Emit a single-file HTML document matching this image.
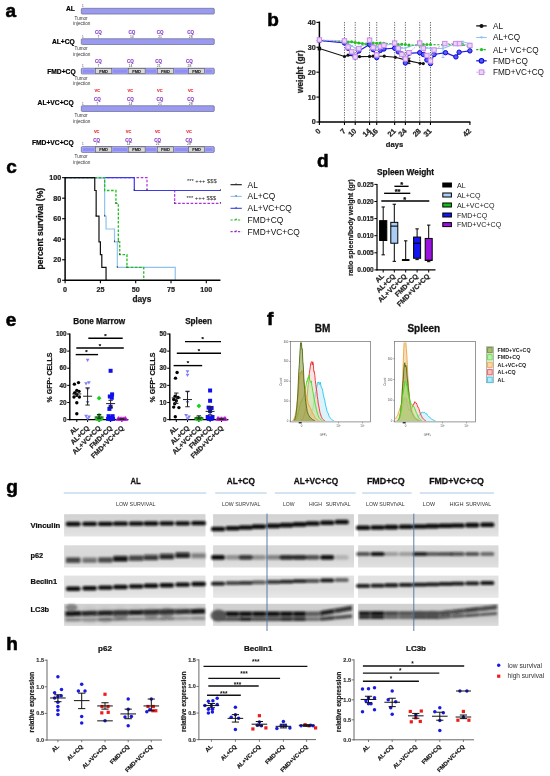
<!DOCTYPE html>
<html><head><meta charset="utf-8"><style>
html,body{margin:0;padding:0;background:#fff;}
svg{display:block;font-family:"Liberation Sans",Arial,sans-serif;}
</style></head><body>
<svg width="550" height="776" viewBox="0 0 550 776">
<defs>
<filter id="bl" x="-20%" y="-50%" width="140%" height="200%"><feGaussianBlur stdDeviation="1.0"/></filter>
<linearGradient id="bg0" x1="0" y1="0" x2="0" y2="1"><stop offset="0" stop-color="#d2d2d2"/><stop offset="0.5" stop-color="#d8d8d8"/><stop offset="1" stop-color="#e4e4e4"/></linearGradient>
<linearGradient id="bg1" x1="0" y1="0" x2="0" y2="1"><stop offset="0" stop-color="#dadada"/><stop offset="0.6" stop-color="#d8d8d8"/><stop offset="1" stop-color="#e0e0e0"/></linearGradient>
<linearGradient id="bg2" x1="0" y1="0" x2="0" y2="1"><stop offset="0" stop-color="#e2e2e2"/><stop offset="0.6" stop-color="#dedede"/><stop offset="1" stop-color="#e8e8e8"/></linearGradient>
<linearGradient id="bg3" x1="0" y1="0" x2="0" y2="1"><stop offset="0" stop-color="#d2d2d2"/><stop offset="0.6" stop-color="#cccccc"/><stop offset="1" stop-color="#dcdcdc"/></linearGradient>
</defs>
<rect width="550" height="776" fill="#fff"/>
<text x="5.60" y="17.00" font-size="19" font-weight="bold" text-anchor="start" fill="#000" stroke="#000" stroke-width="0.57" >a</text>
<text x="74.80" y="11.40" font-size="6.7" font-weight="bold" text-anchor="end" fill="#000" stroke="#000" stroke-width="0.20" >AL</text>
<rect x="81.30" y="8.30" width="133.00" height="5.80" fill="#9a9af0" stroke="#5a5a7a" stroke-width="0.6" rx="1"/>
<text x="82.90" y="7.10" font-size="3.2" font-weight="normal" text-anchor="middle" fill="#444" >1</text>
<text x="74.50" y="19.70" font-size="4.6" font-weight="normal" text-anchor="start" fill="#333" >Tumor</text>
<text x="73.20" y="25.40" font-size="4.7" font-weight="normal" text-anchor="start" fill="#333" >injection</text>
<text x="74.80" y="44.40" font-size="6.7" font-weight="bold" text-anchor="end" fill="#000" stroke="#000" stroke-width="0.20" >AL+CQ</text>
<rect x="81.30" y="38.70" width="133.00" height="5.80" fill="#9a9af0" stroke="#5a5a7a" stroke-width="0.6" rx="1"/>
<text x="82.90" y="37.50" font-size="3.2" font-weight="normal" text-anchor="middle" fill="#444" >1</text>
<text x="98.50" y="37.50" font-size="3.4" font-weight="normal" text-anchor="middle" fill="#444" >7</text>
<text x="98.50" y="33.80" font-size="4.6" font-weight="bold" text-anchor="middle" fill="#8a3fc8" stroke="#8a3fc8" stroke-width="0.14" textLength="6.8" lengthAdjust="spacingAndGlyphs">CQ</text>
<text x="131.80" y="37.50" font-size="3.4" font-weight="normal" text-anchor="middle" fill="#444" >14</text>
<text x="131.80" y="33.80" font-size="4.6" font-weight="bold" text-anchor="middle" fill="#8a3fc8" stroke="#8a3fc8" stroke-width="0.14" textLength="6.8" lengthAdjust="spacingAndGlyphs">CQ</text>
<text x="160.10" y="37.50" font-size="3.4" font-weight="normal" text-anchor="middle" fill="#444" >21</text>
<text x="160.10" y="33.80" font-size="4.6" font-weight="bold" text-anchor="middle" fill="#8a3fc8" stroke="#8a3fc8" stroke-width="0.14" textLength="6.8" lengthAdjust="spacingAndGlyphs">CQ</text>
<text x="190.70" y="37.50" font-size="3.4" font-weight="normal" text-anchor="middle" fill="#444" >28</text>
<text x="190.70" y="33.80" font-size="4.6" font-weight="bold" text-anchor="middle" fill="#8a3fc8" stroke="#8a3fc8" stroke-width="0.14" textLength="6.8" lengthAdjust="spacingAndGlyphs">CQ</text>
<text x="74.50" y="50.10" font-size="4.6" font-weight="normal" text-anchor="start" fill="#333" >Tumor</text>
<text x="73.20" y="55.80" font-size="4.7" font-weight="normal" text-anchor="start" fill="#333" >injection</text>
<text x="75.60" y="73.60" font-size="6.7" font-weight="bold" text-anchor="end" fill="#000" stroke="#000" stroke-width="0.20" >FMD+CQ</text>
<rect x="81.30" y="68.20" width="133.00" height="5.80" fill="#9a9af0" stroke="#5a5a7a" stroke-width="0.6" rx="1"/>
<rect x="82.70" y="69.10" width="12.20" height="4.00" fill="#8e8ef4" stroke="#b8b8f6" stroke-width="0.5" />
<rect x="112.40" y="69.10" width="15.20" height="4.00" fill="#8e8ef4" stroke="#b8b8f6" stroke-width="0.5" />
<rect x="145.70" y="69.10" width="11.00" height="4.00" fill="#8e8ef4" stroke="#b8b8f6" stroke-width="0.5" />
<rect x="174.20" y="69.10" width="13.90" height="4.00" fill="#8e8ef4" stroke="#b8b8f6" stroke-width="0.5" />
<rect x="205.10" y="69.10" width="7.80" height="4.00" fill="#8e8ef4" stroke="#b8b8f6" stroke-width="0.5" />
<rect x="95.50" y="68.50" width="16.30" height="5.20" fill="#d9d9d9" stroke="#444" stroke-width="0.5" />
<text x="103.65" y="72.60" font-size="4.0" font-weight="bold" text-anchor="middle" fill="#222" stroke="#222" stroke-width="0.12" >FMD</text>
<rect x="128.20" y="68.50" width="16.90" height="5.20" fill="#d9d9d9" stroke="#444" stroke-width="0.5" />
<text x="136.65" y="72.60" font-size="4.0" font-weight="bold" text-anchor="middle" fill="#222" stroke="#222" stroke-width="0.12" >FMD</text>
<rect x="157.30" y="68.50" width="16.30" height="5.20" fill="#d9d9d9" stroke="#444" stroke-width="0.5" />
<text x="165.45" y="72.60" font-size="4.0" font-weight="bold" text-anchor="middle" fill="#222" stroke="#222" stroke-width="0.12" >FMD</text>
<rect x="188.70" y="68.50" width="15.80" height="5.20" fill="#d9d9d9" stroke="#444" stroke-width="0.5" />
<text x="196.60" y="72.60" font-size="4.0" font-weight="bold" text-anchor="middle" fill="#222" stroke="#222" stroke-width="0.12" >FMD</text>
<text x="82.90" y="67.00" font-size="3.2" font-weight="normal" text-anchor="middle" fill="#444" >1</text>
<text x="98.50" y="67.00" font-size="3.4" font-weight="normal" text-anchor="middle" fill="#444" >7</text>
<text x="98.50" y="63.30" font-size="4.6" font-weight="bold" text-anchor="middle" fill="#8a3fc8" stroke="#8a3fc8" stroke-width="0.14" textLength="6.8" lengthAdjust="spacingAndGlyphs">CQ</text>
<text x="130.50" y="67.00" font-size="3.4" font-weight="normal" text-anchor="middle" fill="#444" >14</text>
<text x="130.50" y="63.30" font-size="4.6" font-weight="bold" text-anchor="middle" fill="#8a3fc8" stroke="#8a3fc8" stroke-width="0.14" textLength="6.8" lengthAdjust="spacingAndGlyphs">CQ</text>
<text x="158.70" y="67.00" font-size="3.4" font-weight="normal" text-anchor="middle" fill="#444" >21</text>
<text x="158.70" y="63.30" font-size="4.6" font-weight="bold" text-anchor="middle" fill="#8a3fc8" stroke="#8a3fc8" stroke-width="0.14" textLength="6.8" lengthAdjust="spacingAndGlyphs">CQ</text>
<text x="189.50" y="67.00" font-size="3.4" font-weight="normal" text-anchor="middle" fill="#444" >28</text>
<text x="189.50" y="63.30" font-size="4.6" font-weight="bold" text-anchor="middle" fill="#8a3fc8" stroke="#8a3fc8" stroke-width="0.14" textLength="6.8" lengthAdjust="spacingAndGlyphs">CQ</text>
<text x="74.50" y="79.60" font-size="4.6" font-weight="normal" text-anchor="start" fill="#333" >Tumor</text>
<text x="73.20" y="85.30" font-size="4.7" font-weight="normal" text-anchor="start" fill="#333" >injection</text>
<text x="73.60" y="104.60" font-size="6.7" font-weight="bold" text-anchor="end" fill="#000" stroke="#000" stroke-width="0.20" >AL+VC+CQ</text>
<rect x="81.30" y="105.70" width="133.00" height="5.80" fill="#9a9af0" stroke="#5a5a7a" stroke-width="0.6" rx="1"/>
<text x="82.90" y="104.50" font-size="3.2" font-weight="normal" text-anchor="middle" fill="#444" >1</text>
<text x="97.30" y="104.50" font-size="3.4" font-weight="normal" text-anchor="middle" fill="#444" >7</text>
<text x="97.30" y="100.80" font-size="4.6" font-weight="bold" text-anchor="middle" fill="#8a3fc8" stroke="#8a3fc8" stroke-width="0.14" textLength="6.8" lengthAdjust="spacingAndGlyphs">CQ</text>
<text x="97.30" y="91.90" font-size="4.0" font-weight="bold" text-anchor="middle" fill="#e8202a" stroke="#e8202a" stroke-width="0.12" >VC</text>
<text x="130.40" y="104.50" font-size="3.4" font-weight="normal" text-anchor="middle" fill="#444" >14</text>
<text x="130.40" y="100.80" font-size="4.6" font-weight="bold" text-anchor="middle" fill="#8a3fc8" stroke="#8a3fc8" stroke-width="0.14" textLength="6.8" lengthAdjust="spacingAndGlyphs">CQ</text>
<text x="130.40" y="91.90" font-size="4.0" font-weight="bold" text-anchor="middle" fill="#e8202a" stroke="#e8202a" stroke-width="0.12" >VC</text>
<text x="159.90" y="104.50" font-size="3.4" font-weight="normal" text-anchor="middle" fill="#444" >21</text>
<text x="159.90" y="100.80" font-size="4.6" font-weight="bold" text-anchor="middle" fill="#8a3fc8" stroke="#8a3fc8" stroke-width="0.14" textLength="6.8" lengthAdjust="spacingAndGlyphs">CQ</text>
<text x="159.90" y="91.90" font-size="4.0" font-weight="bold" text-anchor="middle" fill="#e8202a" stroke="#e8202a" stroke-width="0.12" >VC</text>
<text x="190.70" y="104.50" font-size="3.4" font-weight="normal" text-anchor="middle" fill="#444" >28</text>
<text x="190.70" y="100.80" font-size="4.6" font-weight="bold" text-anchor="middle" fill="#8a3fc8" stroke="#8a3fc8" stroke-width="0.14" textLength="6.8" lengthAdjust="spacingAndGlyphs">CQ</text>
<text x="190.70" y="91.90" font-size="4.0" font-weight="bold" text-anchor="middle" fill="#e8202a" stroke="#e8202a" stroke-width="0.12" >VC</text>
<text x="74.50" y="117.10" font-size="4.6" font-weight="normal" text-anchor="start" fill="#333" >Tumor</text>
<text x="73.20" y="122.80" font-size="4.7" font-weight="normal" text-anchor="start" fill="#333" >injection</text>
<text x="73.60" y="145.00" font-size="6.7" font-weight="bold" text-anchor="end" fill="#000" stroke="#000" stroke-width="0.20" >FMD+VC+CQ</text>
<rect x="81.30" y="146.60" width="133.00" height="5.80" fill="#9a9af0" stroke="#5a5a7a" stroke-width="0.6" rx="1"/>
<rect x="82.70" y="147.50" width="12.20" height="4.00" fill="#8e8ef4" stroke="#b8b8f6" stroke-width="0.5" />
<rect x="112.40" y="147.50" width="15.20" height="4.00" fill="#8e8ef4" stroke="#b8b8f6" stroke-width="0.5" />
<rect x="145.70" y="147.50" width="11.00" height="4.00" fill="#8e8ef4" stroke="#b8b8f6" stroke-width="0.5" />
<rect x="174.20" y="147.50" width="13.90" height="4.00" fill="#8e8ef4" stroke="#b8b8f6" stroke-width="0.5" />
<rect x="205.10" y="147.50" width="7.80" height="4.00" fill="#8e8ef4" stroke="#b8b8f6" stroke-width="0.5" />
<rect x="95.50" y="146.90" width="16.30" height="5.20" fill="#d9d9d9" stroke="#444" stroke-width="0.5" />
<text x="103.65" y="151.00" font-size="4.0" font-weight="bold" text-anchor="middle" fill="#222" stroke="#222" stroke-width="0.12" >FMD</text>
<rect x="128.20" y="146.90" width="16.90" height="5.20" fill="#d9d9d9" stroke="#444" stroke-width="0.5" />
<text x="136.65" y="151.00" font-size="4.0" font-weight="bold" text-anchor="middle" fill="#222" stroke="#222" stroke-width="0.12" >FMD</text>
<rect x="157.30" y="146.90" width="16.30" height="5.20" fill="#d9d9d9" stroke="#444" stroke-width="0.5" />
<text x="165.45" y="151.00" font-size="4.0" font-weight="bold" text-anchor="middle" fill="#222" stroke="#222" stroke-width="0.12" >FMD</text>
<rect x="188.70" y="146.90" width="15.80" height="5.20" fill="#d9d9d9" stroke="#444" stroke-width="0.5" />
<text x="196.60" y="151.00" font-size="4.0" font-weight="bold" text-anchor="middle" fill="#222" stroke="#222" stroke-width="0.12" >FMD</text>
<text x="82.90" y="145.40" font-size="3.2" font-weight="normal" text-anchor="middle" fill="#444" >1</text>
<text x="96.70" y="145.40" font-size="3.4" font-weight="normal" text-anchor="middle" fill="#444" >7</text>
<text x="96.70" y="141.70" font-size="4.6" font-weight="bold" text-anchor="middle" fill="#8a3fc8" stroke="#8a3fc8" stroke-width="0.14" textLength="6.8" lengthAdjust="spacingAndGlyphs">CQ</text>
<text x="96.70" y="133.00" font-size="4.0" font-weight="bold" text-anchor="middle" fill="#e8202a" stroke="#e8202a" stroke-width="0.12" >VC</text>
<text x="128.60" y="145.40" font-size="3.4" font-weight="normal" text-anchor="middle" fill="#444" >14</text>
<text x="128.60" y="141.70" font-size="4.6" font-weight="bold" text-anchor="middle" fill="#8a3fc8" stroke="#8a3fc8" stroke-width="0.14" textLength="6.8" lengthAdjust="spacingAndGlyphs">CQ</text>
<text x="128.60" y="133.00" font-size="4.0" font-weight="bold" text-anchor="middle" fill="#e8202a" stroke="#e8202a" stroke-width="0.12" >VC</text>
<text x="157.70" y="145.40" font-size="3.4" font-weight="normal" text-anchor="middle" fill="#444" >21</text>
<text x="157.70" y="141.70" font-size="4.6" font-weight="bold" text-anchor="middle" fill="#8a3fc8" stroke="#8a3fc8" stroke-width="0.14" textLength="6.8" lengthAdjust="spacingAndGlyphs">CQ</text>
<text x="157.70" y="133.00" font-size="4.0" font-weight="bold" text-anchor="middle" fill="#e8202a" stroke="#e8202a" stroke-width="0.12" >VC</text>
<text x="189.00" y="145.40" font-size="3.4" font-weight="normal" text-anchor="middle" fill="#444" >28</text>
<text x="189.00" y="141.70" font-size="4.6" font-weight="bold" text-anchor="middle" fill="#8a3fc8" stroke="#8a3fc8" stroke-width="0.14" textLength="6.8" lengthAdjust="spacingAndGlyphs">CQ</text>
<text x="189.00" y="133.00" font-size="4.0" font-weight="bold" text-anchor="middle" fill="#e8202a" stroke="#e8202a" stroke-width="0.12" >VC</text>
<text x="74.50" y="158.00" font-size="4.6" font-weight="normal" text-anchor="start" fill="#333" >Tumor</text>
<text x="73.20" y="163.70" font-size="4.7" font-weight="normal" text-anchor="start" fill="#333" >injection</text>
<text x="267.30" y="25.90" font-size="19" font-weight="bold" text-anchor="start" fill="#000" stroke="#000" stroke-width="0.57" >b</text>
<line x1="344.48" y1="22.00" x2="344.48" y2="122.00" stroke="#444" stroke-width="0.8" stroke-dasharray="1.3,1.2"/>
<line x1="355.23" y1="22.00" x2="355.23" y2="122.00" stroke="#444" stroke-width="0.8" stroke-dasharray="1.3,1.2"/>
<line x1="369.56" y1="22.00" x2="369.56" y2="122.00" stroke="#444" stroke-width="0.8" stroke-dasharray="1.3,1.2"/>
<line x1="376.73" y1="22.00" x2="376.73" y2="122.00" stroke="#444" stroke-width="0.8" stroke-dasharray="1.3,1.2"/>
<line x1="394.64" y1="22.00" x2="394.64" y2="122.00" stroke="#444" stroke-width="0.8" stroke-dasharray="1.3,1.2"/>
<line x1="405.39" y1="22.00" x2="405.39" y2="122.00" stroke="#444" stroke-width="0.8" stroke-dasharray="1.3,1.2"/>
<line x1="419.72" y1="22.00" x2="419.72" y2="122.00" stroke="#444" stroke-width="0.8" stroke-dasharray="1.3,1.2"/>
<line x1="430.47" y1="22.00" x2="430.47" y2="122.00" stroke="#444" stroke-width="0.8" stroke-dasharray="1.3,1.2"/>
<line x1="319.40" y1="21.50" x2="319.40" y2="122.60" stroke="#000" stroke-width="1.5" />
<line x1="318.80" y1="122.00" x2="470.39" y2="122.00" stroke="#000" stroke-width="1.5" />
<line x1="316.40" y1="122.00" x2="319.40" y2="122.00" stroke="#000" stroke-width="1.1" />
<text x="315.80" y="124.40" font-size="7.2" font-weight="bold" text-anchor="end" fill="#222" stroke="#222" stroke-width="0.22" >0</text>
<line x1="316.40" y1="97.10" x2="319.40" y2="97.10" stroke="#000" stroke-width="1.1" />
<text x="315.80" y="99.50" font-size="7.2" font-weight="bold" text-anchor="end" fill="#222" stroke="#222" stroke-width="0.22" >10</text>
<line x1="316.40" y1="72.20" x2="319.40" y2="72.20" stroke="#000" stroke-width="1.1" />
<text x="315.80" y="74.60" font-size="7.2" font-weight="bold" text-anchor="end" fill="#222" stroke="#222" stroke-width="0.22" >20</text>
<line x1="316.40" y1="47.30" x2="319.40" y2="47.30" stroke="#000" stroke-width="1.1" />
<text x="315.80" y="49.70" font-size="7.2" font-weight="bold" text-anchor="end" fill="#222" stroke="#222" stroke-width="0.22" >30</text>
<line x1="316.40" y1="22.40" x2="319.40" y2="22.40" stroke="#000" stroke-width="1.1" />
<text x="315.80" y="24.80" font-size="7.2" font-weight="bold" text-anchor="end" fill="#222" stroke="#222" stroke-width="0.22" >40</text>
<line x1="319.40" y1="122.00" x2="319.40" y2="125.00" stroke="#000" stroke-width="1.1" />
<text x="321.20" y="131.50" font-size="7.4" font-weight="bold" text-anchor="end" fill="#222" stroke="#222" stroke-width="0.22" transform="rotate(-45 321.20 131.50)">0</text>
<line x1="344.48" y1="122.00" x2="344.48" y2="125.00" stroke="#000" stroke-width="1.1" />
<text x="346.28" y="131.50" font-size="7.4" font-weight="bold" text-anchor="end" fill="#222" stroke="#222" stroke-width="0.22" transform="rotate(-45 346.28 131.50)">7</text>
<line x1="355.23" y1="122.00" x2="355.23" y2="125.00" stroke="#000" stroke-width="1.1" />
<text x="357.03" y="131.50" font-size="7.4" font-weight="bold" text-anchor="end" fill="#222" stroke="#222" stroke-width="0.22" transform="rotate(-45 357.03 131.50)">10</text>
<line x1="369.56" y1="122.00" x2="369.56" y2="125.00" stroke="#000" stroke-width="1.1" />
<text x="371.36" y="131.50" font-size="7.4" font-weight="bold" text-anchor="end" fill="#222" stroke="#222" stroke-width="0.22" transform="rotate(-45 371.36 131.50)">14</text>
<line x1="376.73" y1="122.00" x2="376.73" y2="125.00" stroke="#000" stroke-width="1.1" />
<text x="378.53" y="131.50" font-size="7.4" font-weight="bold" text-anchor="end" fill="#222" stroke="#222" stroke-width="0.22" transform="rotate(-45 378.53 131.50)">16</text>
<line x1="394.64" y1="122.00" x2="394.64" y2="125.00" stroke="#000" stroke-width="1.1" />
<text x="396.44" y="131.50" font-size="7.4" font-weight="bold" text-anchor="end" fill="#222" stroke="#222" stroke-width="0.22" transform="rotate(-45 396.44 131.50)">21</text>
<line x1="405.39" y1="122.00" x2="405.39" y2="125.00" stroke="#000" stroke-width="1.1" />
<text x="407.19" y="131.50" font-size="7.4" font-weight="bold" text-anchor="end" fill="#222" stroke="#222" stroke-width="0.22" transform="rotate(-45 407.19 131.50)">24</text>
<line x1="419.72" y1="122.00" x2="419.72" y2="125.00" stroke="#000" stroke-width="1.1" />
<text x="421.52" y="131.50" font-size="7.4" font-weight="bold" text-anchor="end" fill="#222" stroke="#222" stroke-width="0.22" transform="rotate(-45 421.52 131.50)">28</text>
<line x1="430.47" y1="122.00" x2="430.47" y2="125.00" stroke="#000" stroke-width="1.1" />
<text x="432.27" y="131.50" font-size="7.4" font-weight="bold" text-anchor="end" fill="#222" stroke="#222" stroke-width="0.22" transform="rotate(-45 432.27 131.50)">31</text>
<line x1="469.89" y1="122.00" x2="469.89" y2="125.00" stroke="#000" stroke-width="1.1" />
<text x="471.69" y="131.50" font-size="7.4" font-weight="bold" text-anchor="end" fill="#222" stroke="#222" stroke-width="0.22" transform="rotate(-45 471.69 131.50)">42</text>
<text x="394.50" y="147.00" font-size="7.6" font-weight="bold" text-anchor="middle" fill="#222" stroke="#222" stroke-width="0.23" >days</text>
<text x="303.30" y="71.70" font-size="8.4" font-weight="bold" text-anchor="middle" fill="#222" stroke="#222" stroke-width="0.25" transform="rotate(-90 303.3 71.7)">weight (gr)</text>
<polyline points="319.40,40.20 344.48,41.50 348.06,44.00 351.65,46.00 355.23,48.00 358.81,47.00 369.56,42.50 373.14,45.00 376.73,47.00 380.31,46.00 383.89,45.50 394.64,43.50 398.23,46.00 401.81,48.00 405.39,48.20 408.97,46.50 419.72,44.00 423.31,47.00 426.89,48.00 430.47,48.50 443.01,48.50 457.35,43.00 462.72,41.80 469.89,43.80" fill="none" stroke="#8fc2ef" stroke-width="1.1"/>
<path d="M317.80,39.20 L321.00,39.20 L319.40,41.60Z" fill="#8fc2ef"/>
<path d="M342.88,40.50 L346.08,40.50 L344.48,42.90Z" fill="#8fc2ef"/>
<path d="M346.46,43.00 L349.66,43.00 L348.06,45.40Z" fill="#8fc2ef"/>
<path d="M350.05,45.00 L353.25,45.00 L351.65,47.40Z" fill="#8fc2ef"/>
<path d="M353.63,47.00 L356.83,47.00 L355.23,49.40Z" fill="#8fc2ef"/>
<path d="M357.21,46.00 L360.41,46.00 L358.81,48.40Z" fill="#8fc2ef"/>
<path d="M367.96,41.50 L371.16,41.50 L369.56,43.90Z" fill="#8fc2ef"/>
<path d="M371.54,44.00 L374.75,44.00 L373.14,46.40Z" fill="#8fc2ef"/>
<path d="M375.13,46.00 L378.33,46.00 L376.73,48.40Z" fill="#8fc2ef"/>
<path d="M378.71,45.00 L381.91,45.00 L380.31,47.40Z" fill="#8fc2ef"/>
<path d="M382.29,44.50 L385.49,44.50 L383.89,46.90Z" fill="#8fc2ef"/>
<path d="M393.04,42.50 L396.24,42.50 L394.64,44.90Z" fill="#8fc2ef"/>
<path d="M396.63,45.00 L399.83,45.00 L398.23,47.40Z" fill="#8fc2ef"/>
<path d="M400.21,47.00 L403.41,47.00 L401.81,49.40Z" fill="#8fc2ef"/>
<path d="M403.79,47.20 L406.99,47.20 L405.39,49.60Z" fill="#8fc2ef"/>
<path d="M407.37,45.50 L410.57,45.50 L408.97,47.90Z" fill="#8fc2ef"/>
<path d="M418.12,43.00 L421.32,43.00 L419.72,45.40Z" fill="#8fc2ef"/>
<path d="M421.71,46.00 L424.91,46.00 L423.31,48.40Z" fill="#8fc2ef"/>
<path d="M425.29,47.00 L428.49,47.00 L426.89,49.40Z" fill="#8fc2ef"/>
<path d="M428.87,47.50 L432.07,47.50 L430.47,49.90Z" fill="#8fc2ef"/>
<path d="M441.41,47.50 L444.61,47.50 L443.01,49.90Z" fill="#8fc2ef"/>
<path d="M455.75,42.00 L458.95,42.00 L457.35,44.40Z" fill="#8fc2ef"/>
<path d="M461.12,40.80 L464.32,40.80 L462.72,43.20Z" fill="#8fc2ef"/>
<path d="M468.29,42.80 L471.49,42.80 L469.89,45.20Z" fill="#8fc2ef"/>
<line x1="443.01" y1="44.00" x2="443.01" y2="57.50" stroke="#8fc2ef" stroke-width="0.9" />
<line x1="441.51" y1="57.50" x2="444.51" y2="57.50" stroke="#8fc2ef" stroke-width="0.9" />
<polyline points="319.40,41.00 344.48,41.20 348.06,42.00 351.65,41.80 355.23,42.50 358.81,43.00 362.40,43.50 365.98,44.00 369.56,43.50 373.14,43.00 376.73,43.20 380.31,42.90 383.89,43.30 394.64,43.80 398.23,44.50 401.81,44.20 405.39,44.60 408.97,45.00 419.72,45.20 423.31,44.60 426.89,44.50 430.47,44.60 443.01,44.80 457.35,44.50 462.72,44.60 469.89,47.30" fill="none" stroke="#22b22a" stroke-width="1.1" stroke-dasharray="2.2,1.5"/>
<circle cx="319.40" cy="41.00" r="1.50" fill="#22c022" stroke="none" stroke-width="1" />
<circle cx="344.48" cy="41.20" r="1.50" fill="#22c022" stroke="none" stroke-width="1" />
<circle cx="348.06" cy="42.00" r="1.50" fill="#22c022" stroke="none" stroke-width="1" />
<circle cx="351.65" cy="41.80" r="1.50" fill="#22c022" stroke="none" stroke-width="1" />
<circle cx="355.23" cy="42.50" r="1.50" fill="#22c022" stroke="none" stroke-width="1" />
<circle cx="358.81" cy="43.00" r="1.50" fill="#22c022" stroke="none" stroke-width="1" />
<circle cx="362.40" cy="43.50" r="1.50" fill="#22c022" stroke="none" stroke-width="1" />
<circle cx="365.98" cy="44.00" r="1.50" fill="#22c022" stroke="none" stroke-width="1" />
<circle cx="369.56" cy="43.50" r="1.50" fill="#22c022" stroke="none" stroke-width="1" />
<circle cx="373.14" cy="43.00" r="1.50" fill="#22c022" stroke="none" stroke-width="1" />
<circle cx="376.73" cy="43.20" r="1.50" fill="#22c022" stroke="none" stroke-width="1" />
<circle cx="380.31" cy="42.90" r="1.50" fill="#22c022" stroke="none" stroke-width="1" />
<circle cx="383.89" cy="43.30" r="1.50" fill="#22c022" stroke="none" stroke-width="1" />
<circle cx="394.64" cy="43.80" r="1.50" fill="#22c022" stroke="none" stroke-width="1" />
<circle cx="398.23" cy="44.50" r="1.50" fill="#22c022" stroke="none" stroke-width="1" />
<circle cx="401.81" cy="44.20" r="1.50" fill="#22c022" stroke="none" stroke-width="1" />
<circle cx="405.39" cy="44.60" r="1.50" fill="#22c022" stroke="none" stroke-width="1" />
<circle cx="408.97" cy="45.00" r="1.50" fill="#22c022" stroke="none" stroke-width="1" />
<circle cx="419.72" cy="45.20" r="1.50" fill="#22c022" stroke="none" stroke-width="1" />
<circle cx="423.31" cy="44.60" r="1.50" fill="#22c022" stroke="none" stroke-width="1" />
<circle cx="426.89" cy="44.50" r="1.50" fill="#22c022" stroke="none" stroke-width="1" />
<circle cx="430.47" cy="44.60" r="1.50" fill="#22c022" stroke="none" stroke-width="1" />
<circle cx="443.01" cy="44.80" r="1.50" fill="#22c022" stroke="none" stroke-width="1" />
<circle cx="457.35" cy="44.50" r="1.50" fill="#22c022" stroke="none" stroke-width="1" />
<circle cx="462.72" cy="44.60" r="1.50" fill="#22c022" stroke="none" stroke-width="1" />
<circle cx="469.89" cy="47.30" r="1.50" fill="#22c022" stroke="none" stroke-width="1" />
<polyline points="319.40,48.60 344.48,56.50 348.06,55.20 359.53,56.60 369.56,56.40 373.14,56.20 384.25,56.20 395.36,57.30 408.97,60.90 420.08,63.30 423.31,63.60" fill="none" stroke="#111" stroke-width="1.1"/>
<circle cx="344.48" cy="56.50" r="1.60" fill="#111" stroke="none" stroke-width="1" />
<circle cx="348.06" cy="55.20" r="1.60" fill="#111" stroke="none" stroke-width="1" />
<circle cx="359.53" cy="56.60" r="1.60" fill="#111" stroke="none" stroke-width="1" />
<circle cx="369.56" cy="56.40" r="1.60" fill="#111" stroke="none" stroke-width="1" />
<circle cx="373.14" cy="56.20" r="1.60" fill="#111" stroke="none" stroke-width="1" />
<circle cx="384.25" cy="56.20" r="1.60" fill="#111" stroke="none" stroke-width="1" />
<circle cx="395.36" cy="57.30" r="1.60" fill="#111" stroke="none" stroke-width="1" />
<circle cx="408.97" cy="60.90" r="1.60" fill="#111" stroke="none" stroke-width="1" />
<circle cx="420.08" cy="63.30" r="1.60" fill="#111" stroke="none" stroke-width="1" />
<circle cx="423.31" cy="63.60" r="1.60" fill="#111" stroke="none" stroke-width="1" />
<rect x="317.70" y="46.80" width="3.40" height="3.60" fill="#111" stroke="none" stroke-width="1" />
<line x1="408.97" y1="58.20" x2="408.97" y2="63.60" stroke="#000" stroke-width="0.9" />
<line x1="407.47" y1="58.20" x2="410.47" y2="58.20" stroke="#000" stroke-width="0.9" />
<line x1="407.47" y1="63.60" x2="410.47" y2="63.60" stroke="#000" stroke-width="0.9" />
<polyline points="319.40,40.50 344.48,43.00 348.06,48.20 351.65,53.30 355.23,57.00 358.81,51.00 369.56,44.50 373.14,49.60 376.73,57.60 380.31,50.40 383.89,49.00 394.64,48.20 398.23,51.80 401.81,54.00 405.39,63.00 408.97,53.30 419.72,52.70 423.31,54.50 426.89,60.00 430.47,63.60 434.06,54.50 445.52,52.70 455.91,56.90 459.14,52.20 469.89,50.90" fill="none" stroke="#1f1fe0" stroke-width="1.2"/>
<circle cx="319.40" cy="40.50" r="2.20" fill="#5a5aff" stroke="#0c0cd0" stroke-width="1.0" />
<circle cx="344.48" cy="43.00" r="2.20" fill="#5a5aff" stroke="#0c0cd0" stroke-width="1.0" />
<circle cx="348.06" cy="48.20" r="2.20" fill="#5a5aff" stroke="#0c0cd0" stroke-width="1.0" />
<circle cx="351.65" cy="53.30" r="2.20" fill="#5a5aff" stroke="#0c0cd0" stroke-width="1.0" />
<circle cx="355.23" cy="57.00" r="2.20" fill="#5a5aff" stroke="#0c0cd0" stroke-width="1.0" />
<circle cx="358.81" cy="51.00" r="2.20" fill="#5a5aff" stroke="#0c0cd0" stroke-width="1.0" />
<circle cx="369.56" cy="44.50" r="2.20" fill="#5a5aff" stroke="#0c0cd0" stroke-width="1.0" />
<circle cx="373.14" cy="49.60" r="2.20" fill="#5a5aff" stroke="#0c0cd0" stroke-width="1.0" />
<circle cx="376.73" cy="57.60" r="2.20" fill="#5a5aff" stroke="#0c0cd0" stroke-width="1.0" />
<circle cx="380.31" cy="50.40" r="2.20" fill="#5a5aff" stroke="#0c0cd0" stroke-width="1.0" />
<circle cx="383.89" cy="49.00" r="2.20" fill="#5a5aff" stroke="#0c0cd0" stroke-width="1.0" />
<circle cx="394.64" cy="48.20" r="2.20" fill="#5a5aff" stroke="#0c0cd0" stroke-width="1.0" />
<circle cx="398.23" cy="51.80" r="2.20" fill="#5a5aff" stroke="#0c0cd0" stroke-width="1.0" />
<circle cx="401.81" cy="54.00" r="2.20" fill="#5a5aff" stroke="#0c0cd0" stroke-width="1.0" />
<circle cx="405.39" cy="63.00" r="2.20" fill="#5a5aff" stroke="#0c0cd0" stroke-width="1.0" />
<circle cx="408.97" cy="53.30" r="2.20" fill="#5a5aff" stroke="#0c0cd0" stroke-width="1.0" />
<circle cx="419.72" cy="52.70" r="2.20" fill="#5a5aff" stroke="#0c0cd0" stroke-width="1.0" />
<circle cx="423.31" cy="54.50" r="2.20" fill="#5a5aff" stroke="#0c0cd0" stroke-width="1.0" />
<circle cx="426.89" cy="60.00" r="2.20" fill="#5a5aff" stroke="#0c0cd0" stroke-width="1.0" />
<circle cx="430.47" cy="63.60" r="2.20" fill="#5a5aff" stroke="#0c0cd0" stroke-width="1.0" />
<circle cx="434.06" cy="54.50" r="2.20" fill="#5a5aff" stroke="#0c0cd0" stroke-width="1.0" />
<circle cx="445.52" cy="52.70" r="2.20" fill="#5a5aff" stroke="#0c0cd0" stroke-width="1.0" />
<circle cx="455.91" cy="56.90" r="2.20" fill="#5a5aff" stroke="#0c0cd0" stroke-width="1.0" />
<circle cx="459.14" cy="52.20" r="2.20" fill="#5a5aff" stroke="#0c0cd0" stroke-width="1.0" />
<circle cx="469.89" cy="50.90" r="2.20" fill="#5a5aff" stroke="#0c0cd0" stroke-width="1.0" />
<polyline points="319.40,39.90 344.48,40.90 348.06,47.00 351.65,51.80 355.23,56.90 358.81,48.60 369.56,40.20 373.14,47.50 376.73,55.00 380.31,46.70 383.89,45.30 394.64,43.10 398.23,48.20 401.81,54.50 405.39,59.00 408.97,52.70 419.72,43.10 423.31,48.20 426.89,55.50 430.47,61.00 434.06,50.00 444.80,43.60 455.55,43.60 459.50,43.60 469.89,45.50" fill="none" stroke="#d7a6ef" stroke-width="1.0" stroke-dasharray="2.2,1.3"/>
<rect x="317.20" y="37.70" width="4.40" height="4.40" fill="#ecd3fa" stroke="#c68ce9" stroke-width="1.0" />
<rect x="342.28" y="38.70" width="4.40" height="4.40" fill="#ecd3fa" stroke="#c68ce9" stroke-width="1.0" />
<rect x="345.86" y="44.80" width="4.40" height="4.40" fill="#ecd3fa" stroke="#c68ce9" stroke-width="1.0" />
<rect x="349.45" y="49.60" width="4.40" height="4.40" fill="#ecd3fa" stroke="#c68ce9" stroke-width="1.0" />
<rect x="353.03" y="54.70" width="4.40" height="4.40" fill="#ecd3fa" stroke="#c68ce9" stroke-width="1.0" />
<rect x="356.61" y="46.40" width="4.40" height="4.40" fill="#ecd3fa" stroke="#c68ce9" stroke-width="1.0" />
<rect x="367.36" y="38.00" width="4.40" height="4.40" fill="#ecd3fa" stroke="#c68ce9" stroke-width="1.0" />
<rect x="370.94" y="45.30" width="4.40" height="4.40" fill="#ecd3fa" stroke="#c68ce9" stroke-width="1.0" />
<rect x="374.53" y="52.80" width="4.40" height="4.40" fill="#ecd3fa" stroke="#c68ce9" stroke-width="1.0" />
<rect x="378.11" y="44.50" width="4.40" height="4.40" fill="#ecd3fa" stroke="#c68ce9" stroke-width="1.0" />
<rect x="381.69" y="43.10" width="4.40" height="4.40" fill="#ecd3fa" stroke="#c68ce9" stroke-width="1.0" />
<rect x="392.44" y="40.90" width="4.40" height="4.40" fill="#ecd3fa" stroke="#c68ce9" stroke-width="1.0" />
<rect x="396.03" y="46.00" width="4.40" height="4.40" fill="#ecd3fa" stroke="#c68ce9" stroke-width="1.0" />
<rect x="399.61" y="52.30" width="4.40" height="4.40" fill="#ecd3fa" stroke="#c68ce9" stroke-width="1.0" />
<rect x="403.19" y="56.80" width="4.40" height="4.40" fill="#ecd3fa" stroke="#c68ce9" stroke-width="1.0" />
<rect x="406.77" y="50.50" width="4.40" height="4.40" fill="#ecd3fa" stroke="#c68ce9" stroke-width="1.0" />
<rect x="417.52" y="40.90" width="4.40" height="4.40" fill="#ecd3fa" stroke="#c68ce9" stroke-width="1.0" />
<rect x="421.11" y="46.00" width="4.40" height="4.40" fill="#ecd3fa" stroke="#c68ce9" stroke-width="1.0" />
<rect x="424.69" y="53.30" width="4.40" height="4.40" fill="#ecd3fa" stroke="#c68ce9" stroke-width="1.0" />
<rect x="428.27" y="58.80" width="4.40" height="4.40" fill="#ecd3fa" stroke="#c68ce9" stroke-width="1.0" />
<rect x="431.86" y="47.80" width="4.40" height="4.40" fill="#ecd3fa" stroke="#c68ce9" stroke-width="1.0" />
<rect x="442.60" y="41.40" width="4.40" height="4.40" fill="#ecd3fa" stroke="#c68ce9" stroke-width="1.0" />
<rect x="453.35" y="41.40" width="4.40" height="4.40" fill="#ecd3fa" stroke="#c68ce9" stroke-width="1.0" />
<rect x="457.30" y="41.40" width="4.40" height="4.40" fill="#ecd3fa" stroke="#c68ce9" stroke-width="1.0" />
<rect x="467.69" y="43.30" width="4.40" height="4.40" fill="#ecd3fa" stroke="#c68ce9" stroke-width="1.0" />
<line x1="476.20" y1="25.90" x2="486.70" y2="25.90" stroke="#000" stroke-width="1.2" />
<circle cx="481.50" cy="25.90" r="2.00" fill="#111" stroke="none" stroke-width="1" />
<line x1="476.20" y1="37.50" x2="486.70" y2="37.50" stroke="#8fc2ef" stroke-width="1.1" />
<path d="M479.9,36.50 L483.1,36.50 L481.5,38.90Z" fill="#8fc2ef"/>
<line x1="476.20" y1="49.60" x2="486.70" y2="49.60" stroke="#22b22a" stroke-width="1.2" stroke-dasharray="2.2,1.5"/>
<circle cx="481.50" cy="49.60" r="1.70" fill="#22c022" stroke="none" stroke-width="1" />
<line x1="476.20" y1="60.80" x2="486.70" y2="60.80" stroke="#1f1fe0" stroke-width="1.3" />
<circle cx="481.50" cy="60.80" r="2.30" fill="#5a5aff" stroke="#0c0cd0" stroke-width="1.1" />
<line x1="476.20" y1="72.20" x2="486.70" y2="72.20" stroke="#d7a6ef" stroke-width="1.0" stroke-dasharray="2.2,1.3"/>
<rect x="479.20" y="69.90" width="4.60" height="4.60" fill="#ecd3fa" stroke="#c68ce9" stroke-width="1.0" />
<text x="493.00" y="28.80" font-size="8.2" font-weight="normal" text-anchor="start" fill="#111" >AL</text>
<text x="493.00" y="40.40" font-size="8.2" font-weight="normal" text-anchor="start" fill="#111" >AL+CQ</text>
<text x="493.00" y="52.50" font-size="8.2" font-weight="normal" text-anchor="start" fill="#111" >AL+ VC+CQ</text>
<text x="493.00" y="63.70" font-size="8.2" font-weight="normal" text-anchor="start" fill="#111" >FMD+CQ</text>
<text x="493.00" y="75.10" font-size="8.2" font-weight="normal" text-anchor="start" fill="#111" >FMD+VC+CQ</text>
<text x="6.20" y="173.00" font-size="19" font-weight="bold" text-anchor="start" fill="#000" stroke="#000" stroke-width="0.57" >c</text>
<path d="M65.10,177.65 H147.00 V190.48 H174.67 V203.31 H220.42" fill="none" stroke="#ac2fdf" stroke-width="1.2" stroke-dasharray="2.6,1.6"/>
<path d="M65.10,177.65 H134.29 V190.48 H220.42" fill="none" stroke="#3a3ae8" stroke-width="1.2" />
<path d="M65.10,177.65 H104.64 V216.14 H106.05 V228.98 H114.52 V241.81 H117.34 V267.47 H175.24 V280.30" fill="none" stroke="#8fc2ef" stroke-width="1.2" />
<path d="M65.10,177.65 H104.64 V190.48 H115.93 V203.31 H118.33 V241.81 H119.74 V254.64 H126.95 V267.47 H143.75 V280.30" fill="none" stroke="#1fbf1f" stroke-width="1.3" stroke-dasharray="2.6,1.6"/>
<path d="M65.10,177.65 H94.75 V190.48 H96.16 V216.14 H98.99 V241.81 H100.40 V254.64 H101.81 V267.47 H106.05 V280.30" fill="none" stroke="#111" stroke-width="1.2" />
<line x1="96.16" y1="214.84" x2="96.16" y2="216.44" stroke="#222" stroke-width="0.8" />
<line x1="104.64" y1="214.84" x2="104.64" y2="216.44" stroke="#222" stroke-width="0.8" />
<line x1="114.52" y1="240.51" x2="114.52" y2="242.11" stroke="#222" stroke-width="0.8" />
<line x1="118.33" y1="240.51" x2="118.33" y2="242.11" stroke="#222" stroke-width="0.8" />
<line x1="119.74" y1="253.34" x2="119.74" y2="254.94" stroke="#222" stroke-width="0.8" />
<line x1="126.95" y1="266.17" x2="126.95" y2="267.77" stroke="#222" stroke-width="0.8" />
<line x1="117.34" y1="266.17" x2="117.34" y2="267.77" stroke="#222" stroke-width="0.8" />
<line x1="115.93" y1="202.01" x2="115.93" y2="203.61" stroke="#222" stroke-width="0.8" />
<line x1="134.29" y1="189.18" x2="134.29" y2="190.78" stroke="#222" stroke-width="0.8" />
<line x1="147.00" y1="189.18" x2="147.00" y2="190.78" stroke="#222" stroke-width="0.8" />
<line x1="174.67" y1="202.01" x2="174.67" y2="203.61" stroke="#222" stroke-width="0.8" />
<line x1="220.42" y1="189.18" x2="220.42" y2="190.78" stroke="#222" stroke-width="0.8" />
<line x1="220.42" y1="202.01" x2="220.42" y2="203.61" stroke="#222" stroke-width="0.8" />
<line x1="65.10" y1="177.00" x2="65.10" y2="281.00" stroke="#000" stroke-width="1.5" />
<line x1="64.50" y1="280.30" x2="220.42" y2="280.30" stroke="#000" stroke-width="1.5" />
<line x1="62.10" y1="280.30" x2="65.10" y2="280.30" stroke="#000" stroke-width="1.1" />
<text x="61.30" y="282.80" font-size="7.2" font-weight="bold" text-anchor="end" fill="#222" stroke="#222" stroke-width="0.22" >0</text>
<line x1="62.10" y1="259.77" x2="65.10" y2="259.77" stroke="#000" stroke-width="1.1" />
<text x="61.30" y="262.27" font-size="7.2" font-weight="bold" text-anchor="end" fill="#222" stroke="#222" stroke-width="0.22" >20</text>
<line x1="62.10" y1="239.24" x2="65.10" y2="239.24" stroke="#000" stroke-width="1.1" />
<text x="61.30" y="241.74" font-size="7.2" font-weight="bold" text-anchor="end" fill="#222" stroke="#222" stroke-width="0.22" >40</text>
<line x1="62.10" y1="218.71" x2="65.10" y2="218.71" stroke="#000" stroke-width="1.1" />
<text x="61.30" y="221.21" font-size="7.2" font-weight="bold" text-anchor="end" fill="#222" stroke="#222" stroke-width="0.22" >60</text>
<line x1="62.10" y1="198.18" x2="65.10" y2="198.18" stroke="#000" stroke-width="1.1" />
<text x="61.30" y="200.68" font-size="7.2" font-weight="bold" text-anchor="end" fill="#222" stroke="#222" stroke-width="0.22" >80</text>
<line x1="62.10" y1="177.65" x2="65.10" y2="177.65" stroke="#000" stroke-width="1.1" />
<text x="61.30" y="180.15" font-size="7.2" font-weight="bold" text-anchor="end" fill="#222" stroke="#222" stroke-width="0.22" >100</text>
<line x1="65.10" y1="280.30" x2="65.10" y2="283.30" stroke="#000" stroke-width="1.1" />
<text x="65.10" y="291.50" font-size="7.2" font-weight="bold" text-anchor="middle" fill="#222" stroke="#222" stroke-width="0.22" >0</text>
<line x1="100.40" y1="280.30" x2="100.40" y2="283.30" stroke="#000" stroke-width="1.1" />
<text x="100.40" y="291.50" font-size="7.2" font-weight="bold" text-anchor="middle" fill="#222" stroke="#222" stroke-width="0.22" >25</text>
<line x1="135.70" y1="280.30" x2="135.70" y2="283.30" stroke="#000" stroke-width="1.1" />
<text x="135.70" y="291.50" font-size="7.2" font-weight="bold" text-anchor="middle" fill="#222" stroke="#222" stroke-width="0.22" >50</text>
<line x1="171.00" y1="280.30" x2="171.00" y2="283.30" stroke="#000" stroke-width="1.1" />
<text x="171.00" y="291.50" font-size="7.2" font-weight="bold" text-anchor="middle" fill="#222" stroke="#222" stroke-width="0.22" >75</text>
<line x1="206.30" y1="280.30" x2="206.30" y2="283.30" stroke="#000" stroke-width="1.1" />
<text x="206.30" y="291.50" font-size="7.2" font-weight="bold" text-anchor="middle" fill="#222" stroke="#222" stroke-width="0.22" >100</text>
<text x="141.90" y="302.30" font-size="8.3" font-weight="bold" text-anchor="middle" fill="#222" stroke="#222" stroke-width="0.25" >days</text>
<text x="43.00" y="228.60" font-size="8.6" font-weight="bold" text-anchor="middle" fill="#111" stroke="#111" stroke-width="0.26" transform="rotate(-90 43.0 228.6)">percent survival (%)</text>
<text x="201.80" y="183.40" font-size="5.8" font-weight="normal" text-anchor="middle" fill="#222" >*** +++ $$$</text>
<text x="201.30" y="199.70" font-size="5.8" font-weight="normal" text-anchor="middle" fill="#222" >*** +++ $$$</text>
<line x1="230.50" y1="184.70" x2="241.80" y2="184.70" stroke="#111" stroke-width="1.1" />
<line x1="236.10" y1="183.30" x2="236.10" y2="184.70" stroke="#222" stroke-width="0.8" />
<text x="247.60" y="187.70" font-size="8.4" font-weight="normal" text-anchor="start" fill="#111" >AL</text>
<line x1="230.50" y1="196.40" x2="241.80" y2="196.40" stroke="#8fc2ef" stroke-width="1.1" />
<line x1="236.10" y1="195.00" x2="236.10" y2="196.40" stroke="#222" stroke-width="0.8" />
<text x="247.60" y="199.40" font-size="8.4" font-weight="normal" text-anchor="start" fill="#111" >AL+CQ</text>
<line x1="230.50" y1="208.30" x2="241.80" y2="208.30" stroke="#3a3ae8" stroke-width="1.1" />
<line x1="236.10" y1="206.90" x2="236.10" y2="208.30" stroke="#222" stroke-width="0.8" />
<text x="247.60" y="211.30" font-size="8.4" font-weight="normal" text-anchor="start" fill="#111" >AL+VC+CQ</text>
<line x1="230.50" y1="220.00" x2="241.80" y2="220.00" stroke="#1fbf1f" stroke-width="1.1" stroke-dasharray="2.2,1.5"/>
<line x1="236.10" y1="218.60" x2="236.10" y2="220.00" stroke="#222" stroke-width="0.8" />
<text x="247.60" y="223.00" font-size="8.4" font-weight="normal" text-anchor="start" fill="#111" >FMD+CQ</text>
<line x1="230.50" y1="231.60" x2="241.80" y2="231.60" stroke="#ac2fdf" stroke-width="1.1" stroke-dasharray="2.2,1.5"/>
<line x1="236.10" y1="230.20" x2="236.10" y2="231.60" stroke="#222" stroke-width="0.8" />
<text x="247.60" y="234.60" font-size="8.4" font-weight="normal" text-anchor="start" fill="#111" >FMD+VC+CQ</text>
<text x="317.00" y="167.30" font-size="19" font-weight="bold" text-anchor="start" fill="#000" stroke="#000" stroke-width="0.57" >d</text>
<text x="405.60" y="175.00" font-size="8.3" font-weight="bold" text-anchor="middle" fill="#111" stroke="#111" stroke-width="0.25" >Spleen Weight</text>
<line x1="383.20" y1="206.97" x2="383.20" y2="220.65" stroke="#000" stroke-width="1.0" />
<line x1="383.20" y1="240.49" x2="383.20" y2="254.85" stroke="#000" stroke-width="1.0" />
<line x1="381.50" y1="206.97" x2="384.90" y2="206.97" stroke="#000" stroke-width="1.0" />
<line x1="381.50" y1="254.85" x2="384.90" y2="254.85" stroke="#000" stroke-width="1.0" />
<rect x="379.60" y="220.65" width="7.20" height="19.84" fill="#000" stroke="#000" stroke-width="1.0" />
<line x1="379.60" y1="227.15" x2="386.80" y2="227.15" stroke="#000" stroke-width="1.1" />
<line x1="394.30" y1="204.24" x2="394.30" y2="222.36" stroke="#000" stroke-width="1.0" />
<line x1="394.30" y1="243.22" x2="394.30" y2="261.35" stroke="#000" stroke-width="1.0" />
<line x1="392.60" y1="204.24" x2="396.00" y2="204.24" stroke="#000" stroke-width="1.0" />
<line x1="392.60" y1="261.35" x2="396.00" y2="261.35" stroke="#000" stroke-width="1.0" />
<rect x="390.80" y="222.36" width="7.00" height="20.86" fill="#a9cdf5" stroke="#000" stroke-width="1.0" />
<line x1="390.80" y1="226.12" x2="397.80" y2="226.12" stroke="#000" stroke-width="1.1" />
<line x1="405.70" y1="240.83" x2="405.70" y2="259.64" stroke="#000" stroke-width="1.0" />
<line x1="405.70" y1="259.98" x2="405.70" y2="259.98" stroke="#000" stroke-width="1.0" />
<line x1="404.00" y1="240.83" x2="407.40" y2="240.83" stroke="#000" stroke-width="1.0" />
<line x1="404.00" y1="259.98" x2="407.40" y2="259.98" stroke="#000" stroke-width="1.0" />
<rect x="402.40" y="259.64" width="6.60" height="0.80" fill="#12c012" stroke="#000" stroke-width="1.0" />
<line x1="402.40" y1="259.98" x2="409.00" y2="259.98" stroke="#000" stroke-width="1.1" />
<line x1="417.10" y1="228.86" x2="417.10" y2="237.07" stroke="#000" stroke-width="1.0" />
<line x1="417.10" y1="258.27" x2="417.10" y2="259.64" stroke="#000" stroke-width="1.0" />
<line x1="415.40" y1="228.86" x2="418.80" y2="228.86" stroke="#000" stroke-width="1.0" />
<line x1="415.40" y1="259.64" x2="418.80" y2="259.64" stroke="#000" stroke-width="1.0" />
<rect x="413.60" y="237.07" width="7.00" height="21.20" fill="#1515f0" stroke="#000" stroke-width="1.0" />
<line x1="413.60" y1="243.22" x2="420.60" y2="243.22" stroke="#000" stroke-width="1.1" />
<line x1="428.70" y1="225.10" x2="428.70" y2="238.44" stroke="#000" stroke-width="1.0" />
<line x1="428.70" y1="260.32" x2="428.70" y2="261.69" stroke="#000" stroke-width="1.0" />
<line x1="427.00" y1="225.10" x2="430.40" y2="225.10" stroke="#000" stroke-width="1.0" />
<line x1="427.00" y1="261.69" x2="430.40" y2="261.69" stroke="#000" stroke-width="1.0" />
<rect x="425.20" y="238.44" width="7.00" height="21.89" fill="#9a12e0" stroke="#000" stroke-width="1.0" />
<line x1="425.20" y1="260.32" x2="432.20" y2="260.32" stroke="#000" stroke-width="1.1" />
<line x1="377.00" y1="184.00" x2="377.00" y2="270.50" stroke="#000" stroke-width="1.2" />
<line x1="376.50" y1="269.90" x2="435.50" y2="269.90" stroke="#000" stroke-width="1.2" />
<line x1="374.40" y1="269.90" x2="377.00" y2="269.90" stroke="#000" stroke-width="1.0" />
<text x="373.80" y="272.10" font-size="6.6" font-weight="bold" text-anchor="end" fill="#222" stroke="#222" stroke-width="0.20" >0.000</text>
<line x1="374.40" y1="252.80" x2="377.00" y2="252.80" stroke="#000" stroke-width="1.0" />
<text x="373.80" y="255.00" font-size="6.6" font-weight="bold" text-anchor="end" fill="#222" stroke="#222" stroke-width="0.20" >0.005</text>
<line x1="374.40" y1="235.70" x2="377.00" y2="235.70" stroke="#000" stroke-width="1.0" />
<text x="373.80" y="237.90" font-size="6.6" font-weight="bold" text-anchor="end" fill="#222" stroke="#222" stroke-width="0.20" >0.010</text>
<line x1="374.40" y1="218.60" x2="377.00" y2="218.60" stroke="#000" stroke-width="1.0" />
<text x="373.80" y="220.80" font-size="6.6" font-weight="bold" text-anchor="end" fill="#222" stroke="#222" stroke-width="0.20" >0.015</text>
<line x1="374.40" y1="201.50" x2="377.00" y2="201.50" stroke="#000" stroke-width="1.0" />
<text x="373.80" y="203.70" font-size="6.6" font-weight="bold" text-anchor="end" fill="#222" stroke="#222" stroke-width="0.20" >0.020</text>
<line x1="374.40" y1="184.40" x2="377.00" y2="184.40" stroke="#000" stroke-width="1.0" />
<text x="373.80" y="186.60" font-size="6.6" font-weight="bold" text-anchor="end" fill="#222" stroke="#222" stroke-width="0.20" >0.025</text>
<line x1="383.20" y1="269.90" x2="383.20" y2="272.50" stroke="#000" stroke-width="1.0" />
<line x1="394.30" y1="269.90" x2="394.30" y2="272.50" stroke="#000" stroke-width="1.0" />
<line x1="405.70" y1="269.90" x2="405.70" y2="272.50" stroke="#000" stroke-width="1.0" />
<line x1="417.10" y1="269.90" x2="417.10" y2="272.50" stroke="#000" stroke-width="1.0" />
<line x1="428.70" y1="269.90" x2="428.70" y2="272.50" stroke="#000" stroke-width="1.0" />
<text x="384.60" y="276.60" font-size="6.9" font-weight="bold" text-anchor="end" fill="#222" stroke="#222" stroke-width="0.21" transform="rotate(-45 384.60 276.60)">AL</text>
<text x="395.70" y="276.60" font-size="6.9" font-weight="bold" text-anchor="end" fill="#222" stroke="#222" stroke-width="0.21" transform="rotate(-45 395.70 276.60)">AL+CQ</text>
<text x="407.10" y="276.60" font-size="6.9" font-weight="bold" text-anchor="end" fill="#222" stroke="#222" stroke-width="0.21" transform="rotate(-45 407.10 276.60)">AL+VC+CQ</text>
<text x="418.50" y="276.60" font-size="6.9" font-weight="bold" text-anchor="end" fill="#222" stroke="#222" stroke-width="0.21" transform="rotate(-45 418.50 276.60)">FMD+CQ</text>
<text x="430.10" y="276.60" font-size="6.9" font-weight="bold" text-anchor="end" fill="#222" stroke="#222" stroke-width="0.21" transform="rotate(-45 430.10 276.60)">FMD+VC+CQ</text>
<text x="353.20" y="227.50" font-size="7.1" font-weight="bold" text-anchor="middle" fill="#222" stroke="#222" stroke-width="0.21" transform="rotate(-90 353.2 227.5)">ratio spleen/body weight (gr)</text>
<line x1="394.40" y1="186.30" x2="408.60" y2="186.30" stroke="#000" stroke-width="1.35" />
<text x="401.60" y="187.00" font-size="7.5" font-weight="bold" text-anchor="middle" fill="#000" stroke="#000" stroke-width="0.22" >*</text>
<line x1="384.10" y1="193.30" x2="410.30" y2="193.30" stroke="#000" stroke-width="1.35" />
<text x="397.60" y="194.20" font-size="7.5" font-weight="bold" text-anchor="middle" fill="#000" stroke="#000" stroke-width="0.22" >**</text>
<line x1="381.30" y1="201.00" x2="429.30" y2="201.00" stroke="#000" stroke-width="1.35" />
<text x="404.80" y="202.00" font-size="7.5" font-weight="bold" text-anchor="middle" fill="#000" stroke="#000" stroke-width="0.22" >*</text>
<rect x="442.80" y="183.00" width="8.60" height="4.00" fill="#000" stroke="#000" stroke-width="1.0" />
<text x="457.00" y="187.50" font-size="7.1" font-weight="normal" text-anchor="start" fill="#222" >AL</text>
<rect x="442.80" y="193.00" width="8.60" height="4.00" fill="#a9cdf5" stroke="#000" stroke-width="1.0" />
<text x="457.00" y="197.50" font-size="7.1" font-weight="normal" text-anchor="start" fill="#222" >AL+CQ</text>
<rect x="442.80" y="203.00" width="8.60" height="4.00" fill="#12c012" stroke="#000" stroke-width="1.0" />
<text x="457.00" y="207.50" font-size="7.1" font-weight="normal" text-anchor="start" fill="#222" >AL+VC+CQ</text>
<rect x="442.80" y="213.00" width="8.60" height="4.00" fill="#1515f0" stroke="#000" stroke-width="1.0" />
<text x="457.00" y="217.50" font-size="7.1" font-weight="normal" text-anchor="start" fill="#222" >FMD+CQ</text>
<rect x="442.80" y="222.60" width="8.60" height="4.00" fill="#9a12e0" stroke="#000" stroke-width="1.0" />
<text x="457.00" y="227.10" font-size="7.1" font-weight="normal" text-anchor="start" fill="#222" >FMD+VC+CQ</text>
<text x="5.80" y="325.70" font-size="19" font-weight="bold" text-anchor="start" fill="#000" stroke="#000" stroke-width="0.57" >e</text>
<text x="99.20" y="324.20" font-size="8.2" font-weight="bold" text-anchor="middle" fill="#111" stroke="#111" stroke-width="0.25" >Bone Marrow</text>
<line x1="69.80" y1="333.50" x2="69.80" y2="420.30" stroke="#000" stroke-width="1.4" />
<line x1="69.20" y1="419.60" x2="128.40" y2="419.60" stroke="#000" stroke-width="1.4" />
<line x1="67.20" y1="419.60" x2="69.80" y2="419.60" stroke="#000" stroke-width="1.0" />
<text x="66.60" y="421.80" font-size="6.4" font-weight="bold" text-anchor="end" fill="#222" stroke="#222" stroke-width="0.19" >0</text>
<line x1="67.20" y1="402.48" x2="69.80" y2="402.48" stroke="#000" stroke-width="1.0" />
<text x="66.60" y="404.68" font-size="6.4" font-weight="bold" text-anchor="end" fill="#222" stroke="#222" stroke-width="0.19" >20</text>
<line x1="67.20" y1="385.36" x2="69.80" y2="385.36" stroke="#000" stroke-width="1.0" />
<text x="66.60" y="387.56" font-size="6.4" font-weight="bold" text-anchor="end" fill="#222" stroke="#222" stroke-width="0.19" >40</text>
<line x1="67.20" y1="368.24" x2="69.80" y2="368.24" stroke="#000" stroke-width="1.0" />
<text x="66.60" y="370.44" font-size="6.4" font-weight="bold" text-anchor="end" fill="#222" stroke="#222" stroke-width="0.19" >60</text>
<line x1="67.20" y1="351.12" x2="69.80" y2="351.12" stroke="#000" stroke-width="1.0" />
<text x="66.60" y="353.32" font-size="6.4" font-weight="bold" text-anchor="end" fill="#222" stroke="#222" stroke-width="0.19" >80</text>
<line x1="67.20" y1="334.00" x2="69.80" y2="334.00" stroke="#000" stroke-width="1.0" />
<text x="66.60" y="336.20" font-size="6.4" font-weight="bold" text-anchor="end" fill="#222" stroke="#222" stroke-width="0.19" >100</text>
<line x1="76.80" y1="419.60" x2="76.80" y2="422.00" stroke="#000" stroke-width="1.0" />
<line x1="87.60" y1="419.60" x2="87.60" y2="422.00" stroke="#000" stroke-width="1.0" />
<line x1="99.10" y1="419.60" x2="99.10" y2="422.00" stroke="#000" stroke-width="1.0" />
<line x1="110.60" y1="419.60" x2="110.60" y2="422.00" stroke="#000" stroke-width="1.0" />
<line x1="121.90" y1="419.60" x2="121.90" y2="422.00" stroke="#000" stroke-width="1.0" />
<circle cx="74.40" cy="384.16" r="1.70" fill="#000" stroke="none" stroke-width="1" />
<circle cx="78.50" cy="382.62" r="1.70" fill="#000" stroke="none" stroke-width="1" />
<circle cx="76.80" cy="390.50" r="1.70" fill="#000" stroke="none" stroke-width="1" />
<circle cx="74.60" cy="392.89" r="1.70" fill="#000" stroke="none" stroke-width="1" />
<circle cx="79.00" cy="391.35" r="1.70" fill="#000" stroke="none" stroke-width="1" />
<circle cx="74.00" cy="397.00" r="1.70" fill="#000" stroke="none" stroke-width="1" />
<circle cx="76.80" cy="394.60" r="1.70" fill="#000" stroke="none" stroke-width="1" />
<circle cx="79.40" cy="397.00" r="1.70" fill="#000" stroke="none" stroke-width="1" />
<circle cx="76.80" cy="402.74" r="1.70" fill="#000" stroke="none" stroke-width="1" />
<circle cx="76.80" cy="413.69" r="1.70" fill="#000" stroke="none" stroke-width="1" />
<path d="M85.70,358.77 L89.50,358.77 L87.60,362.00Z" fill="#8080f0"/>
<path d="M84.20,382.22 L88.00,382.22 L86.10,385.45Z" fill="#8080f0"/>
<path d="M87.00,381.37 L90.80,381.37 L88.90,384.60Z" fill="#8080f0"/>
<path d="M85.70,387.70 L89.50,387.70 L87.60,390.93Z" fill="#8080f0"/>
<path d="M85.70,401.06 L89.50,401.06 L87.60,404.29Z" fill="#8080f0"/>
<path d="M84.20,414.75 L88.00,414.75 L86.10,417.98Z" fill="#8080f0"/>
<path d="M87.20,415.61 L91.00,415.61 L89.10,418.84Z" fill="#8080f0"/>
<path d="M85.70,417.32 L89.50,417.32 L87.60,420.55Z" fill="#8080f0"/>
<path d="M99.10,395.80 L101.50,398.20 L99.10,400.60 L96.70,398.20Z" fill="#18d018"/>
<path d="M99.10,412.92 L101.50,415.32 L99.10,417.72 L96.70,415.32Z" fill="#18d018"/>
<path d="M96.70,416.17 L99.10,418.57 L96.70,420.97 L94.30,418.57Z" fill="#18d018"/>
<path d="M101.50,416.17 L103.90,418.57 L101.50,420.97 L99.10,418.57Z" fill="#18d018"/>
<path d="M98.10,416.69 L100.50,419.09 L98.10,421.49 L95.70,419.09Z" fill="#18d018"/>
<path d="M100.10,416.69 L102.50,419.09 L100.10,421.49 L97.70,419.09Z" fill="#18d018"/>
<path d="M99.10,416.94 L101.50,419.34 L99.10,421.74 L96.70,419.34Z" fill="#18d018"/>
<rect x="108.60" y="368.81" width="4.00" height="4.00" fill="#1010ee" stroke="none" stroke-width="1" />
<rect x="110.10" y="392.35" width="4.00" height="4.00" fill="#1010ee" stroke="none" stroke-width="1" />
<rect x="107.80" y="394.49" width="4.00" height="4.00" fill="#1010ee" stroke="none" stroke-width="1" />
<rect x="109.80" y="395.77" width="4.00" height="4.00" fill="#1010ee" stroke="none" stroke-width="1" />
<rect x="108.60" y="404.76" width="4.00" height="4.00" fill="#1010ee" stroke="none" stroke-width="1" />
<rect x="107.40" y="406.90" width="4.00" height="4.00" fill="#1010ee" stroke="none" stroke-width="1" />
<rect x="106.60" y="414.18" width="4.00" height="4.00" fill="#1010ee" stroke="none" stroke-width="1" />
<rect x="110.60" y="414.18" width="4.00" height="4.00" fill="#1010ee" stroke="none" stroke-width="1" />
<rect x="108.60" y="415.89" width="4.00" height="4.00" fill="#1010ee" stroke="none" stroke-width="1" />
<rect x="106.10" y="416.92" width="4.00" height="4.00" fill="#1010ee" stroke="none" stroke-width="1" />
<rect x="111.10" y="416.92" width="4.00" height="4.00" fill="#1010ee" stroke="none" stroke-width="1" />
<rect x="108.60" y="417.17" width="4.00" height="4.00" fill="#1010ee" stroke="none" stroke-width="1" />
<path d="M116.20,420.85 L121.60,420.85 L118.90,416.26Z" fill="#c81ee8"/>
<path d="M119.20,420.85 L124.60,420.85 L121.90,416.26Z" fill="#c81ee8"/>
<path d="M122.20,420.85 L127.60,420.85 L124.90,416.26Z" fill="#c81ee8"/>
<path d="M117.70,421.03 L123.10,421.03 L120.40,416.44Z" fill="#c81ee8"/>
<path d="M120.70,421.03 L126.10,421.03 L123.40,416.44Z" fill="#c81ee8"/>
<path d="M115.60,420.60 L121.00,420.60 L118.30,416.01Z" fill="#c81ee8"/>
<path d="M122.80,420.60 L128.20,420.60 L125.50,416.01Z" fill="#c81ee8"/>
<line x1="72.30" y1="393.92" x2="81.30" y2="393.92" stroke="#222" stroke-width="1.0" />
<line x1="76.80" y1="396.49" x2="76.80" y2="391.35" stroke="#222" stroke-width="1.0" />
<line x1="74.60" y1="396.49" x2="79.00" y2="396.49" stroke="#222" stroke-width="1.0" />
<line x1="74.60" y1="391.35" x2="79.00" y2="391.35" stroke="#222" stroke-width="1.0" />
<line x1="83.10" y1="396.23" x2="92.10" y2="396.23" stroke="#222" stroke-width="1.0" />
<line x1="87.60" y1="405.05" x2="87.60" y2="387.93" stroke="#222" stroke-width="1.0" />
<line x1="85.40" y1="405.05" x2="89.80" y2="405.05" stroke="#222" stroke-width="1.0" />
<line x1="85.40" y1="387.93" x2="89.80" y2="387.93" stroke="#222" stroke-width="1.0" />
<line x1="94.60" y1="417.03" x2="103.60" y2="417.03" stroke="#222" stroke-width="1.0" />
<line x1="99.10" y1="418.74" x2="99.10" y2="414.46" stroke="#222" stroke-width="1.0" />
<line x1="96.90" y1="418.74" x2="101.30" y2="418.74" stroke="#222" stroke-width="1.0" />
<line x1="96.90" y1="414.46" x2="101.30" y2="414.46" stroke="#222" stroke-width="1.0" />
<line x1="106.10" y1="403.59" x2="115.10" y2="403.59" stroke="#222" stroke-width="1.0" />
<line x1="110.60" y1="407.62" x2="110.60" y2="400.34" stroke="#222" stroke-width="1.0" />
<line x1="108.40" y1="407.62" x2="112.80" y2="407.62" stroke="#222" stroke-width="1.0" />
<line x1="108.40" y1="400.34" x2="112.80" y2="400.34" stroke="#222" stroke-width="1.0" />
<line x1="117.40" y1="419.17" x2="126.40" y2="419.17" stroke="#222" stroke-width="1.0" />
<line x1="121.90" y1="419.34" x2="121.90" y2="418.92" stroke="#222" stroke-width="1.0" />
<line x1="119.70" y1="419.34" x2="124.10" y2="419.34" stroke="#222" stroke-width="1.0" />
<line x1="119.70" y1="418.92" x2="124.10" y2="418.92" stroke="#222" stroke-width="1.0" />
<text x="79.10" y="428.40" font-size="6.9" font-weight="bold" text-anchor="end" fill="#222" stroke="#222" stroke-width="0.21" transform="rotate(-45 79.10 428.40)">AL</text>
<text x="89.90" y="428.40" font-size="6.9" font-weight="bold" text-anchor="end" fill="#222" stroke="#222" stroke-width="0.21" transform="rotate(-45 89.90 428.40)">AL+CQ</text>
<text x="101.40" y="428.40" font-size="6.9" font-weight="bold" text-anchor="end" fill="#222" stroke="#222" stroke-width="0.21" transform="rotate(-45 101.40 428.40)">AL+VC+CQ</text>
<text x="112.90" y="428.40" font-size="6.9" font-weight="bold" text-anchor="end" fill="#222" stroke="#222" stroke-width="0.21" transform="rotate(-45 112.90 428.40)">FMD+CQ</text>
<text x="124.20" y="428.40" font-size="6.9" font-weight="bold" text-anchor="end" fill="#222" stroke="#222" stroke-width="0.21" transform="rotate(-45 124.20 428.40)">FMD+VC+CQ</text>
<line x1="75.70" y1="354.60" x2="98.10" y2="354.60" stroke="#000" stroke-width="1.4" />
<text x="86.30" y="354.10" font-size="6.0" font-weight="bold" text-anchor="middle" fill="#000" stroke="#000" stroke-width="0.18" >*</text>
<line x1="76.30" y1="348.00" x2="123.80" y2="348.00" stroke="#000" stroke-width="1.4" />
<text x="100.00" y="347.50" font-size="6.0" font-weight="bold" text-anchor="middle" fill="#000" stroke="#000" stroke-width="0.18" >*</text>
<line x1="88.30" y1="338.20" x2="122.70" y2="338.20" stroke="#000" stroke-width="1.4" />
<text x="105.50" y="337.70" font-size="6.0" font-weight="bold" text-anchor="middle" fill="#000" stroke="#000" stroke-width="0.18" >*</text>
<text x="52.20" y="377.50" font-size="7.0" font-weight="bold" text-anchor="middle" fill="#111" stroke="#111" stroke-width="0.21" transform="rotate(-90 52.2 377.5)">% GFP<tspan font-size="4.2" dy="-2.6">+</tspan><tspan dy="2.6"> CELLS</tspan></text>
<text x="198.60" y="324.20" font-size="8.2" font-weight="bold" text-anchor="middle" fill="#111" stroke="#111" stroke-width="0.25" >Spleen</text>
<line x1="169.80" y1="333.50" x2="169.80" y2="420.30" stroke="#000" stroke-width="1.4" />
<line x1="169.20" y1="419.60" x2="228.40" y2="419.60" stroke="#000" stroke-width="1.4" />
<line x1="167.20" y1="419.60" x2="169.80" y2="419.60" stroke="#000" stroke-width="1.0" />
<text x="166.60" y="421.80" font-size="6.4" font-weight="bold" text-anchor="end" fill="#222" stroke="#222" stroke-width="0.19" >0</text>
<line x1="167.20" y1="402.48" x2="169.80" y2="402.48" stroke="#000" stroke-width="1.0" />
<text x="166.60" y="404.68" font-size="6.4" font-weight="bold" text-anchor="end" fill="#222" stroke="#222" stroke-width="0.19" >10</text>
<line x1="167.20" y1="385.36" x2="169.80" y2="385.36" stroke="#000" stroke-width="1.0" />
<text x="166.60" y="387.56" font-size="6.4" font-weight="bold" text-anchor="end" fill="#222" stroke="#222" stroke-width="0.19" >20</text>
<line x1="167.20" y1="368.24" x2="169.80" y2="368.24" stroke="#000" stroke-width="1.0" />
<text x="166.60" y="370.44" font-size="6.4" font-weight="bold" text-anchor="end" fill="#222" stroke="#222" stroke-width="0.19" >30</text>
<line x1="167.20" y1="351.12" x2="169.80" y2="351.12" stroke="#000" stroke-width="1.0" />
<text x="166.60" y="353.32" font-size="6.4" font-weight="bold" text-anchor="end" fill="#222" stroke="#222" stroke-width="0.19" >40</text>
<line x1="167.20" y1="334.00" x2="169.80" y2="334.00" stroke="#000" stroke-width="1.0" />
<text x="166.60" y="336.20" font-size="6.4" font-weight="bold" text-anchor="end" fill="#222" stroke="#222" stroke-width="0.19" >50</text>
<line x1="176.30" y1="419.60" x2="176.30" y2="422.00" stroke="#000" stroke-width="1.0" />
<line x1="187.50" y1="419.60" x2="187.50" y2="422.00" stroke="#000" stroke-width="1.0" />
<line x1="198.90" y1="419.60" x2="198.90" y2="422.00" stroke="#000" stroke-width="1.0" />
<line x1="210.10" y1="419.60" x2="210.10" y2="422.00" stroke="#000" stroke-width="1.0" />
<line x1="221.50" y1="419.60" x2="221.50" y2="422.00" stroke="#000" stroke-width="1.0" />
<circle cx="177.10" cy="372.52" r="1.70" fill="#000" stroke="none" stroke-width="1" />
<circle cx="175.50" cy="378.17" r="1.70" fill="#000" stroke="none" stroke-width="1" />
<circle cx="175.10" cy="396.15" r="1.70" fill="#000" stroke="none" stroke-width="1" />
<circle cx="178.10" cy="397.52" r="1.70" fill="#000" stroke="none" stroke-width="1" />
<circle cx="173.70" cy="399.57" r="1.70" fill="#000" stroke="none" stroke-width="1" />
<circle cx="176.30" cy="400.77" r="1.70" fill="#000" stroke="none" stroke-width="1" />
<circle cx="174.70" cy="403.68" r="1.70" fill="#000" stroke="none" stroke-width="1" />
<circle cx="178.90" cy="407.62" r="1.70" fill="#000" stroke="none" stroke-width="1" />
<circle cx="173.70" cy="407.10" r="1.70" fill="#000" stroke="none" stroke-width="1" />
<circle cx="175.30" cy="416.69" r="1.70" fill="#000" stroke="none" stroke-width="1" />
<path d="M185.60,370.24 L189.40,370.24 L187.50,373.47Z" fill="#8080f0"/>
<path d="M185.60,373.66 L189.40,373.66 L187.50,376.89Z" fill="#8080f0"/>
<path d="M185.60,390.78 L189.40,390.78 L187.50,394.01Z" fill="#8080f0"/>
<path d="M185.60,401.06 L189.40,401.06 L187.50,404.29Z" fill="#8080f0"/>
<path d="M184.20,413.90 L188.00,413.90 L186.10,417.13Z" fill="#8080f0"/>
<path d="M187.10,415.44 L190.90,415.44 L189.00,418.67Z" fill="#8080f0"/>
<path d="M185.60,417.32 L189.40,417.32 L187.50,420.55Z" fill="#8080f0"/>
<path d="M198.90,403.50 L201.30,405.90 L198.90,408.30 L196.50,405.90Z" fill="#18d018"/>
<path d="M198.90,415.49 L201.30,417.89 L198.90,420.29 L196.50,417.89Z" fill="#18d018"/>
<path d="M196.50,416.34 L198.90,418.74 L196.50,421.14 L194.10,418.74Z" fill="#18d018"/>
<path d="M201.30,416.34 L203.70,418.74 L201.30,421.14 L198.90,418.74Z" fill="#18d018"/>
<path d="M197.90,416.69 L200.30,419.09 L197.90,421.49 L195.50,419.09Z" fill="#18d018"/>
<path d="M199.90,416.69 L202.30,419.09 L199.90,421.49 L197.50,419.09Z" fill="#18d018"/>
<rect x="208.10" y="388.50" width="4.00" height="4.00" fill="#1010ee" stroke="none" stroke-width="1" />
<rect x="208.10" y="398.77" width="4.00" height="4.00" fill="#1010ee" stroke="none" stroke-width="1" />
<rect x="206.60" y="405.62" width="4.00" height="4.00" fill="#1010ee" stroke="none" stroke-width="1" />
<rect x="209.60" y="405.96" width="4.00" height="4.00" fill="#1010ee" stroke="none" stroke-width="1" />
<rect x="208.10" y="409.04" width="4.00" height="4.00" fill="#1010ee" stroke="none" stroke-width="1" />
<rect x="205.70" y="415.03" width="4.00" height="4.00" fill="#1010ee" stroke="none" stroke-width="1" />
<rect x="210.50" y="415.03" width="4.00" height="4.00" fill="#1010ee" stroke="none" stroke-width="1" />
<rect x="208.10" y="416.23" width="4.00" height="4.00" fill="#1010ee" stroke="none" stroke-width="1" />
<rect x="206.80" y="416.92" width="4.00" height="4.00" fill="#1010ee" stroke="none" stroke-width="1" />
<rect x="209.40" y="416.92" width="4.00" height="4.00" fill="#1010ee" stroke="none" stroke-width="1" />
<path d="M215.80,420.85 L221.20,420.85 L218.50,416.26Z" fill="#c81ee8"/>
<path d="M218.80,420.85 L224.20,420.85 L221.50,416.26Z" fill="#c81ee8"/>
<path d="M221.80,420.85 L227.20,420.85 L224.50,416.26Z" fill="#c81ee8"/>
<path d="M217.30,421.03 L222.70,421.03 L220.00,416.44Z" fill="#c81ee8"/>
<path d="M220.30,421.03 L225.70,421.03 L223.00,416.44Z" fill="#c81ee8"/>
<path d="M215.20,420.60 L220.60,420.60 L217.90,416.01Z" fill="#c81ee8"/>
<path d="M222.40,420.60 L227.80,420.60 L225.10,416.01Z" fill="#c81ee8"/>
<line x1="171.80" y1="397.86" x2="180.80" y2="397.86" stroke="#222" stroke-width="1.0" />
<line x1="176.30" y1="403.34" x2="176.30" y2="393.06" stroke="#222" stroke-width="1.0" />
<line x1="174.10" y1="403.34" x2="178.50" y2="403.34" stroke="#222" stroke-width="1.0" />
<line x1="174.10" y1="393.06" x2="178.50" y2="393.06" stroke="#222" stroke-width="1.0" />
<line x1="183.00" y1="399.57" x2="192.00" y2="399.57" stroke="#222" stroke-width="1.0" />
<line x1="187.50" y1="406.76" x2="187.50" y2="391.35" stroke="#222" stroke-width="1.0" />
<line x1="185.30" y1="406.76" x2="189.70" y2="406.76" stroke="#222" stroke-width="1.0" />
<line x1="185.30" y1="391.35" x2="189.70" y2="391.35" stroke="#222" stroke-width="1.0" />
<line x1="194.40" y1="417.89" x2="203.40" y2="417.89" stroke="#222" stroke-width="1.0" />
<line x1="198.90" y1="419.09" x2="198.90" y2="415.83" stroke="#222" stroke-width="1.0" />
<line x1="196.70" y1="419.09" x2="201.10" y2="419.09" stroke="#222" stroke-width="1.0" />
<line x1="196.70" y1="415.83" x2="201.10" y2="415.83" stroke="#222" stroke-width="1.0" />
<line x1="205.60" y1="411.38" x2="214.60" y2="411.38" stroke="#222" stroke-width="1.0" />
<line x1="210.10" y1="414.81" x2="210.10" y2="406.76" stroke="#222" stroke-width="1.0" />
<line x1="207.90" y1="414.81" x2="212.30" y2="414.81" stroke="#222" stroke-width="1.0" />
<line x1="207.90" y1="406.76" x2="212.30" y2="406.76" stroke="#222" stroke-width="1.0" />
<line x1="217.00" y1="419.09" x2="226.00" y2="419.09" stroke="#222" stroke-width="1.0" />
<line x1="221.50" y1="419.26" x2="221.50" y2="418.92" stroke="#222" stroke-width="1.0" />
<line x1="219.30" y1="419.26" x2="223.70" y2="419.26" stroke="#222" stroke-width="1.0" />
<line x1="219.30" y1="418.92" x2="223.70" y2="418.92" stroke="#222" stroke-width="1.0" />
<text x="178.60" y="428.40" font-size="6.9" font-weight="bold" text-anchor="end" fill="#222" stroke="#222" stroke-width="0.21" transform="rotate(-45 178.60 428.40)">AL</text>
<text x="189.80" y="428.40" font-size="6.9" font-weight="bold" text-anchor="end" fill="#222" stroke="#222" stroke-width="0.21" transform="rotate(-45 189.80 428.40)">AL+CQ</text>
<text x="201.20" y="428.40" font-size="6.9" font-weight="bold" text-anchor="end" fill="#222" stroke="#222" stroke-width="0.21" transform="rotate(-45 201.20 428.40)">AL+VC+CQ</text>
<text x="212.40" y="428.40" font-size="6.9" font-weight="bold" text-anchor="end" fill="#222" stroke="#222" stroke-width="0.21" transform="rotate(-45 212.40 428.40)">FMD+CQ</text>
<text x="223.80" y="428.40" font-size="6.9" font-weight="bold" text-anchor="end" fill="#222" stroke="#222" stroke-width="0.21" transform="rotate(-45 223.80 428.40)">FMD+VC+CQ</text>
<line x1="173.60" y1="365.60" x2="202.20" y2="365.60" stroke="#000" stroke-width="1.4" />
<text x="187.80" y="365.10" font-size="6.0" font-weight="bold" text-anchor="middle" fill="#000" stroke="#000" stroke-width="0.18" >*</text>
<line x1="176.80" y1="353.20" x2="221.00" y2="353.20" stroke="#000" stroke-width="1.4" />
<text x="198.90" y="352.70" font-size="6.0" font-weight="bold" text-anchor="middle" fill="#000" stroke="#000" stroke-width="0.18" >*</text>
<line x1="185.00" y1="341.60" x2="221.00" y2="341.60" stroke="#000" stroke-width="1.4" />
<text x="202.70" y="341.10" font-size="6.0" font-weight="bold" text-anchor="middle" fill="#000" stroke="#000" stroke-width="0.18" >*</text>
<text x="154.80" y="377.50" font-size="7.0" font-weight="bold" text-anchor="middle" fill="#111" stroke="#111" stroke-width="0.21" transform="rotate(-90 154.8 377.5)">% GFP<tspan font-size="4.2" dy="-2.6">+</tspan><tspan dy="2.6"> CELLS</tspan></text>
<text x="267.00" y="325.20" font-size="19" font-weight="bold" text-anchor="start" fill="#000" stroke="#000" stroke-width="0.57" >f</text>
<text x="322.60" y="331.60" font-size="10.0" font-weight="bold" text-anchor="middle" fill="#111" stroke="#111" stroke-width="0.30" >BM</text>
<clipPath id="clip290"><rect x="290.50" y="342.60" width="80.00" height="79.30"/></clipPath>
<g clip-path="url(#clip290)">
<path d="M291.30,421.10 L291.30,421.10 L291.80,421.10 L292.30,421.10 L292.80,421.10 L293.30,421.10 L293.80,421.10 L294.30,421.10 L294.80,421.10 L295.30,421.10 L295.80,421.10 L296.30,421.10 L296.80,421.10 L297.30,421.10 L297.80,421.10 L298.30,421.10 L298.80,421.10 L299.30,421.10 L299.80,421.10 L300.30,421.10 L300.80,421.10 L301.30,421.09 L301.80,421.09 L302.30,421.08 L302.80,421.08 L303.30,421.07 L303.80,421.04 L304.30,421.02 L304.80,420.98 L305.30,420.91 L305.80,420.82 L306.30,420.71 L306.80,420.55 L307.30,420.33 L307.80,420.00 L308.30,419.63 L308.80,419.18 L309.30,418.30 L309.80,417.55 L310.30,416.48 L310.80,415.55 L311.30,413.45 L311.80,411.79 L312.30,410.72 L312.80,408.31 L313.30,405.24 L313.80,402.61 L314.30,399.27 L314.80,397.79 L315.30,393.74 L315.80,391.48 L316.30,390.29 L316.80,386.92 L317.30,383.71 L317.80,382.30 L318.30,382.81 L318.80,381.93 L319.30,384.53 L319.80,383.98 L320.30,382.25 L320.80,385.11 L321.30,387.56 L321.80,387.74 L322.30,389.13 L322.80,391.42 L323.30,394.70 L323.80,396.81 L324.30,398.95 L324.80,400.64 L325.30,403.51 L325.80,405.91 L326.30,407.75 L326.80,410.26 L327.30,411.85 L327.80,412.65 L328.30,413.82 L328.80,415.35 L329.30,416.51 L329.80,417.48 L330.30,418.08 L330.80,418.57 L331.30,419.16 L331.80,419.63 L332.30,419.92 L332.80,420.27 L333.30,420.45 L333.80,420.59 L334.30,420.74 L334.80,420.84 L335.30,420.91 L335.80,420.96 L336.30,421.00 L336.80,421.04 L337.30,421.05 L337.80,421.07 L338.30,421.08 L338.80,421.08 L339.30,421.09 L339.80,421.09 L340.30,421.10 L340.80,421.10 L341.30,421.10 L341.80,421.10 L342.30,421.10 L342.80,421.10 L343.30,421.10 L343.80,421.10 L344.30,421.10 L344.80,421.10 L345.30,421.10 L345.50,421.10Z" fill="#bfeaf6" fill-opacity="0.55" stroke="none"/>
<path d="M306.80,420.55 L307.30,420.33 L307.80,420.00 L308.30,419.63 L308.80,419.18 L309.30,418.30 L309.80,417.55 L310.30,416.48 L310.80,415.55 L311.30,413.45 L311.80,411.79 L312.30,410.72 L312.80,408.31 L313.30,405.24 L313.80,402.61 L314.30,399.27 L314.80,397.79 L315.30,393.74 L315.80,391.48 L316.30,390.29 L316.80,386.92 L317.30,383.71 L317.80,382.30 L318.30,382.81 L318.80,381.93 L319.30,384.53 L319.80,383.98 L320.30,382.25 L320.80,385.11 L321.30,387.56 L321.80,387.74 L322.30,389.13 L322.80,391.42 L323.30,394.70 L323.80,396.81 L324.30,398.95 L324.80,400.64 L325.30,403.51 L325.80,405.91 L326.30,407.75 L326.80,410.26 L327.30,411.85 L327.80,412.65 L328.30,413.82 L328.80,415.35 L329.30,416.51 L329.80,417.48 L330.30,418.08 L330.80,418.57 L331.30,419.16 L331.80,419.63 L332.30,419.92 L332.80,420.27 L333.30,420.45 L333.80,420.59" fill="none" stroke="#1fc4ee" stroke-width="0.9" stroke-linejoin="round"/>
<path d="M291.30,421.10 L291.30,421.10 L291.80,421.10 L292.30,421.10 L292.80,421.10 L293.30,421.10 L293.80,421.10 L294.30,421.10 L294.80,421.10 L295.30,421.10 L295.80,421.10 L296.30,421.09 L296.80,421.09 L297.30,421.08 L297.80,421.07 L298.30,421.05 L298.80,421.01 L299.30,420.95 L299.80,420.88 L300.30,420.75 L300.80,420.57 L301.30,420.33 L301.80,419.95 L302.30,419.34 L302.80,418.62 L303.30,417.60 L303.80,415.99 L304.30,414.50 L304.80,412.34 L305.30,410.17 L305.80,407.56 L306.30,403.55 L306.80,400.10 L307.30,394.70 L307.80,388.17 L308.30,384.44 L308.80,381.95 L309.30,373.70 L309.80,369.98 L310.30,366.80 L310.80,362.98 L311.30,362.25 L311.80,361.50 L312.30,364.91 L312.80,361.88 L313.30,364.06 L313.80,371.76 L314.30,371.38 L314.80,375.32 L315.30,380.59 L315.80,384.37 L316.30,388.69 L316.80,391.30 L317.30,396.66 L317.80,399.51 L318.30,404.01 L318.80,406.08 L319.30,408.84 L319.80,411.76 L320.30,413.61 L320.80,415.01 L321.30,416.52 L321.80,417.72 L322.30,418.65 L322.80,419.27 L323.30,419.71 L323.80,420.17 L324.30,420.38 L324.80,420.63 L325.30,420.75 L325.80,420.88 L326.30,420.94 L326.80,421.00 L327.30,421.04 L327.80,421.06 L328.30,421.07 L328.80,421.08 L329.30,421.09 L329.80,421.09 L330.30,421.10 L330.80,421.10 L331.30,421.10 L331.80,421.10 L332.30,421.10 L332.80,421.10 L333.30,421.10 L333.80,421.10 L334.30,421.10 L334.80,421.10 L335.30,421.10 L335.80,421.10 L336.30,421.10 L336.80,421.10 L337.30,421.10 L337.80,421.10 L338.30,421.10 L338.80,421.10 L339.30,421.10 L339.80,421.10 L340.30,421.10 L340.80,421.10 L341.30,421.10 L341.80,421.10 L342.30,421.10 L342.80,421.10 L343.30,421.10 L343.80,421.10 L344.30,421.10 L344.80,421.10 L345.30,421.10 L345.50,421.10Z" fill="#f6c8c8" fill-opacity="0.5" stroke="none"/>
<path d="M300.80,420.57 L301.30,420.33 L301.80,419.95 L302.30,419.34 L302.80,418.62 L303.30,417.60 L303.80,415.99 L304.30,414.50 L304.80,412.34 L305.30,410.17 L305.80,407.56 L306.30,403.55 L306.80,400.10 L307.30,394.70 L307.80,388.17 L308.30,384.44 L308.80,381.95 L309.30,373.70 L309.80,369.98 L310.30,366.80 L310.80,362.98 L311.30,362.25 L311.80,361.50 L312.30,364.91 L312.80,361.88 L313.30,364.06 L313.80,371.76 L314.30,371.38 L314.80,375.32 L315.30,380.59 L315.80,384.37 L316.30,388.69 L316.80,391.30 L317.30,396.66 L317.80,399.51 L318.30,404.01 L318.80,406.08 L319.30,408.84 L319.80,411.76 L320.30,413.61 L320.80,415.01 L321.30,416.52 L321.80,417.72 L322.30,418.65 L322.80,419.27 L323.30,419.71 L323.80,420.17 L324.30,420.38 L324.80,420.63" fill="none" stroke="#ee2a2a" stroke-width="0.9" stroke-linejoin="round"/>
<path d="M291.30,421.10 L291.30,421.09 L291.80,421.08 L292.30,421.06 L292.80,421.03 L293.30,420.96 L293.80,420.87 L294.30,420.71 L294.80,420.39 L295.30,420.04 L295.80,419.47 L296.30,418.45 L296.80,417.52 L297.30,415.94 L297.80,414.52 L298.30,412.48 L298.80,411.02 L299.30,408.27 L299.80,405.77 L300.30,404.46 L300.80,402.28 L301.30,400.96 L301.80,401.24 L302.30,398.37 L302.80,397.74 L303.30,397.43 L303.80,396.94 L304.30,392.70 L304.80,392.09 L305.30,389.02 L305.80,386.00 L306.30,384.24 L306.80,380.98 L307.30,381.41 L307.80,377.78 L308.30,378.46 L308.80,375.38 L309.30,375.77 L309.80,380.42 L310.30,381.28 L310.80,382.39 L311.30,380.88 L311.80,385.61 L312.30,387.43 L312.80,391.44 L313.30,393.58 L313.80,396.87 L314.30,399.80 L314.80,401.99 L315.30,404.65 L315.80,406.57 L316.30,409.20 L316.80,410.94 L317.30,412.84 L317.80,414.31 L318.30,415.87 L318.80,417.21 L319.30,417.80 L319.80,418.53 L320.30,419.16 L320.80,419.69 L321.30,420.04 L321.80,420.37 L322.30,420.53 L322.80,420.70 L323.30,420.83 L323.80,420.92 L324.30,420.96 L324.80,421.00 L325.30,421.04 L325.80,421.06 L326.30,421.07 L326.80,421.08 L327.30,421.09 L327.80,421.09 L328.30,421.10 L328.80,421.10 L329.30,421.10 L329.80,421.10 L330.30,421.10 L330.80,421.10 L331.30,421.10 L331.80,421.10 L332.30,421.10 L332.80,421.10 L333.30,421.10 L333.80,421.10 L334.30,421.10 L334.80,421.10 L335.30,421.10 L335.80,421.10 L336.30,421.10 L336.80,421.10 L337.30,421.10 L337.80,421.10 L338.30,421.10 L338.80,421.10 L339.30,421.10 L339.80,421.10 L340.30,421.10 L340.80,421.10 L341.30,421.10 L341.80,421.10 L342.30,421.10 L342.80,421.10 L343.30,421.10 L343.80,421.10 L344.30,421.10 L344.80,421.10 L345.30,421.10 L345.50,421.10Z" fill="#b8ee9a" fill-opacity="0.55" stroke="none"/>
<path d="M294.80,420.39 L295.30,420.04 L295.80,419.47 L296.30,418.45 L296.80,417.52 L297.30,415.94 L297.80,414.52 L298.30,412.48 L298.80,411.02 L299.30,408.27 L299.80,405.77 L300.30,404.46 L300.80,402.28 L301.30,400.96 L301.80,401.24 L302.30,398.37 L302.80,397.74 L303.30,397.43 L303.80,396.94 L304.30,392.70 L304.80,392.09 L305.30,389.02 L305.80,386.00 L306.30,384.24 L306.80,380.98 L307.30,381.41 L307.80,377.78 L308.30,378.46 L308.80,375.38 L309.30,375.77 L309.80,380.42 L310.30,381.28 L310.80,382.39 L311.30,380.88 L311.80,385.61 L312.30,387.43 L312.80,391.44 L313.30,393.58 L313.80,396.87 L314.30,399.80 L314.80,401.99 L315.30,404.65 L315.80,406.57 L316.30,409.20 L316.80,410.94 L317.30,412.84 L317.80,414.31 L318.30,415.87 L318.80,417.21 L319.30,417.80 L319.80,418.53 L320.30,419.16 L320.80,419.69 L321.30,420.04 L321.80,420.37 L322.30,420.53" fill="none" stroke="#3ee01a" stroke-width="0.9" stroke-linejoin="round"/>
<path d="M291.30,421.10 L291.30,420.96 L291.80,420.86 L292.30,420.67 L292.80,420.40 L293.30,419.98 L293.80,419.26 L294.30,418.11 L294.80,416.71 L295.30,414.80 L295.80,412.84 L296.30,409.43 L296.80,406.18 L297.30,402.23 L297.80,397.82 L298.30,392.60 L298.80,384.71 L299.30,380.10 L299.80,375.83 L300.30,372.44 L300.80,373.79 L301.30,372.28 L301.80,370.61 L302.30,371.14 L302.80,372.44 L303.30,374.98 L303.80,382.07 L304.30,382.85 L304.80,386.00 L305.30,389.99 L305.80,394.19 L306.30,395.99 L306.80,399.49 L307.30,399.42 L307.80,401.47 L308.30,403.72 L308.80,405.52 L309.30,405.57 L309.80,407.23 L310.30,407.77 L310.80,408.85 L311.30,410.31 L311.80,411.42 L312.30,412.21 L312.80,413.36 L313.30,414.54 L313.80,415.33 L314.30,415.88 L314.80,417.11 L315.30,417.80 L315.80,418.22 L316.30,418.88 L316.80,419.29 L317.30,419.71 L317.80,420.05 L318.30,420.25 L318.80,420.52 L319.30,420.67 L319.80,420.80 L320.30,420.87 L320.80,420.95 L321.30,421.00 L321.80,421.03 L322.30,421.05 L322.80,421.07 L323.30,421.08 L323.80,421.09 L324.30,421.09 L324.80,421.10 L325.30,421.10 L325.80,421.10 L326.30,421.10 L326.80,421.10 L327.30,421.10 L327.80,421.10 L328.30,421.10 L328.80,421.10 L329.30,421.10 L329.80,421.10 L330.30,421.10 L330.80,421.10 L331.30,421.10 L331.80,421.10 L332.30,421.10 L332.80,421.10 L333.30,421.10 L333.80,421.10 L334.30,421.10 L334.80,421.10 L335.30,421.10 L335.80,421.10 L336.30,421.10 L336.80,421.10 L337.30,421.10 L337.80,421.10 L338.30,421.10 L338.80,421.10 L339.30,421.10 L339.80,421.10 L340.30,421.10 L340.80,421.10 L341.30,421.10 L341.80,421.10 L342.30,421.10 L342.80,421.10 L343.30,421.10 L343.80,421.10 L344.30,421.10 L344.80,421.10 L345.30,421.10 L345.50,421.10Z" fill="#e8c07a" fill-opacity="0.55" stroke="none"/>
<path d="M292.30,420.67 L292.80,420.40 L293.30,419.98 L293.80,419.26 L294.30,418.11 L294.80,416.71 L295.30,414.80 L295.80,412.84 L296.30,409.43 L296.80,406.18 L297.30,402.23 L297.80,397.82 L298.30,392.60 L298.80,384.71 L299.30,380.10 L299.80,375.83 L300.30,372.44 L300.80,373.79 L301.30,372.28 L301.80,370.61 L302.30,371.14 L302.80,372.44 L303.30,374.98 L303.80,382.07 L304.30,382.85 L304.80,386.00 L305.30,389.99 L305.80,394.19 L306.30,395.99 L306.80,399.49 L307.30,399.42 L307.80,401.47 L308.30,403.72 L308.80,405.52 L309.30,405.57 L309.80,407.23 L310.30,407.77 L310.80,408.85 L311.30,410.31 L311.80,411.42 L312.30,412.21 L312.80,413.36 L313.30,414.54 L313.80,415.33 L314.30,415.88 L314.80,417.11 L315.30,417.80 L315.80,418.22 L316.30,418.88 L316.80,419.29 L317.30,419.71 L317.80,420.05 L318.30,420.25 L318.80,420.52 L319.30,420.67" fill="none" stroke="#f0a23a" stroke-width="0.9" stroke-linejoin="round"/>
<path d="M291.30,421.10 L291.30,421.09 L291.80,421.07 L292.30,421.04 L292.80,420.98 L293.30,420.86 L293.80,420.60 L294.30,420.22 L294.80,419.36 L295.30,417.78 L295.80,415.59 L296.30,411.80 L296.80,407.91 L297.30,400.65 L297.80,393.04 L298.30,382.09 L298.80,371.20 L299.30,364.69 L299.80,354.46 L300.30,347.57 L300.80,338.53 L301.30,340.35 L301.80,348.99 L302.30,348.81 L302.80,361.13 L303.30,365.78 L303.80,377.08 L304.30,385.44 L304.80,389.21 L305.30,397.77 L305.80,402.78 L306.30,405.36 L306.80,408.81 L307.30,411.89 L307.80,412.92 L308.30,414.58 L308.80,415.46 L309.30,416.52 L309.80,416.79 L310.30,417.49 L310.80,417.91 L311.30,418.42 L311.80,419.01 L312.30,419.36 L312.80,419.72 L313.30,420.00 L313.80,420.24 L314.30,420.41 L314.80,420.55 L315.30,420.72 L315.80,420.79 L316.30,420.88 L316.80,420.94 L317.30,420.98 L317.80,421.02 L318.30,421.05 L318.80,421.06 L319.30,421.08 L319.80,421.08 L320.30,421.09 L320.80,421.09 L321.30,421.10 L321.80,421.10 L322.30,421.10 L322.80,421.10 L323.30,421.10 L323.80,421.10 L324.30,421.10 L324.80,421.10 L325.30,421.10 L325.80,421.10 L326.30,421.10 L326.80,421.10 L327.30,421.10 L327.80,421.10 L328.30,421.10 L328.80,421.10 L329.30,421.10 L329.80,421.10 L330.30,421.10 L330.80,421.10 L331.30,421.10 L331.80,421.10 L332.30,421.10 L332.80,421.10 L333.30,421.10 L333.80,421.10 L334.30,421.10 L334.80,421.10 L335.30,421.10 L335.80,421.10 L336.30,421.10 L336.80,421.10 L337.30,421.10 L337.80,421.10 L338.30,421.10 L338.80,421.10 L339.30,421.10 L339.80,421.10 L340.30,421.10 L340.80,421.10 L341.30,421.10 L341.80,421.10 L342.30,421.10 L342.80,421.10 L343.30,421.10 L343.80,421.10 L344.30,421.10 L344.80,421.10 L345.30,421.10 L345.50,421.10Z" fill="#7a8a2a" fill-opacity="0.5" stroke="none"/>
<path d="M293.80,420.60 L294.30,420.22 L294.80,419.36 L295.30,417.78 L295.80,415.59 L296.30,411.80 L296.80,407.91 L297.30,400.65 L297.80,393.04 L298.30,382.09 L298.80,371.20 L299.30,364.69 L299.80,354.46 L300.30,347.57 L300.80,338.53 L301.30,340.35 L301.80,348.99 L302.30,348.81 L302.80,361.13 L303.30,365.78 L303.80,377.08 L304.30,385.44 L304.80,389.21 L305.30,397.77 L305.80,402.78 L306.30,405.36 L306.80,408.81 L307.30,411.89 L307.80,412.92 L308.30,414.58 L308.80,415.46 L309.30,416.52 L309.80,416.79 L310.30,417.49 L310.80,417.91 L311.30,418.42 L311.80,419.01 L312.30,419.36 L312.80,419.72 L313.30,420.00 L313.80,420.24 L314.30,420.41 L314.80,420.55" fill="none" stroke="#4f6a12" stroke-width="0.9" stroke-linejoin="round"/>
</g>
<rect x="290.50" y="341.40" width="80.00" height="80.50" fill="none" stroke="#6e6e6e" stroke-width="0.7" />
<line x1="289.00" y1="421.10" x2="290.50" y2="421.10" stroke="#666" stroke-width="0.5" />
<text x="288.30" y="422.10" font-size="2.8" font-weight="normal" text-anchor="end" fill="#555" >0</text>
<line x1="289.00" y1="401.20" x2="290.50" y2="401.20" stroke="#666" stroke-width="0.5" />
<text x="288.30" y="402.20" font-size="2.8" font-weight="normal" text-anchor="end" fill="#555" >100</text>
<line x1="289.00" y1="381.30" x2="290.50" y2="381.30" stroke="#666" stroke-width="0.5" />
<text x="288.30" y="382.30" font-size="2.8" font-weight="normal" text-anchor="end" fill="#555" >200</text>
<line x1="289.00" y1="361.40" x2="290.50" y2="361.40" stroke="#666" stroke-width="0.5" />
<text x="288.30" y="362.40" font-size="2.8" font-weight="normal" text-anchor="end" fill="#555" >300</text>
<line x1="289.00" y1="341.50" x2="290.50" y2="341.50" stroke="#666" stroke-width="0.5" />
<text x="288.30" y="342.50" font-size="2.8" font-weight="normal" text-anchor="end" fill="#555" >400</text>
<line x1="301.50" y1="421.90" x2="301.50" y2="423.40" stroke="#666" stroke-width="0.5" />
<text x="301.50" y="427.10" font-size="2.9" font-weight="normal" text-anchor="middle" fill="#555" >0</text>
<line x1="338.50" y1="421.90" x2="338.50" y2="423.40" stroke="#666" stroke-width="0.5" />
<text x="338.50" y="427.10" font-size="2.9" font-weight="normal" text-anchor="middle" fill="#555" >10<tspan font-size="2" dy="-1.2">3</tspan></text>
<line x1="362.50" y1="421.90" x2="362.50" y2="423.40" stroke="#666" stroke-width="0.5" />
<text x="362.50" y="427.10" font-size="2.9" font-weight="normal" text-anchor="middle" fill="#555" >10<tspan font-size="2" dy="-1.2">4</tspan></text>
<rect x="298.70" y="422.10" width="2.80" height="1.30" fill="#222" stroke="none" stroke-width="1" />
<text x="323.50" y="435.70" font-size="2.8" font-weight="normal" text-anchor="middle" fill="#555" >GFP+</text>
<text x="282.00" y="381.65" font-size="3.0" font-weight="normal" text-anchor="middle" fill="#555" transform="rotate(-90 282.00 381.65)">Count</text>
<text x="423.80" y="331.60" font-size="10.0" font-weight="bold" text-anchor="middle" fill="#111" stroke="#111" stroke-width="0.30" >Spleen</text>
<clipPath id="clip394"><rect x="394.50" y="342.60" width="80.90" height="79.30"/></clipPath>
<g clip-path="url(#clip394)">
<path d="M395.30,421.10 L395.30,421.10 L395.80,421.10 L396.30,421.10 L396.80,421.10 L397.30,421.10 L397.80,421.10 L398.30,421.10 L398.80,421.10 L399.30,421.10 L399.80,421.10 L400.30,421.10 L400.80,421.10 L401.30,421.10 L401.80,421.10 L402.30,421.10 L402.80,421.10 L403.30,421.10 L403.80,421.10 L404.30,421.10 L404.80,421.10 L405.30,421.10 L405.80,421.10 L406.30,421.10 L406.80,421.10 L407.30,421.09 L407.80,421.09 L408.30,421.08 L408.80,421.08 L409.30,421.06 L409.80,421.04 L410.30,421.02 L410.80,420.99 L411.30,420.94 L411.80,420.87 L412.30,420.80 L412.80,420.70 L413.30,420.52 L413.80,420.34 L414.30,420.13 L414.80,419.88 L415.30,419.63 L415.80,419.30 L416.30,418.88 L416.80,418.49 L417.30,417.71 L417.80,417.30 L418.30,416.46 L418.80,416.09 L419.30,415.07 L419.80,414.49 L420.30,414.58 L420.80,413.89 L421.30,412.76 L421.80,412.81 L422.30,412.00 L422.80,412.45 L423.30,412.75 L423.80,412.23 L424.30,412.22 L424.80,412.97 L425.30,413.44 L425.80,413.57 L426.30,413.43 L426.80,414.10 L427.30,415.10 L427.80,415.51 L428.30,416.12 L428.80,416.65 L429.30,416.77 L429.80,417.56 L430.30,417.87 L430.80,418.35 L431.30,418.82 L431.80,419.04 L432.30,419.49 L432.80,419.68 L433.30,420.01 L433.80,420.18 L434.30,420.38 L434.80,420.52 L435.30,420.60 L435.80,420.72 L436.30,420.82 L436.80,420.87 L437.30,420.94 L437.80,420.98 L438.30,421.00 L438.80,421.03 L439.30,421.05 L439.80,421.06 L440.30,421.08 L440.80,421.08 L441.30,421.09 L441.80,421.09 L442.30,421.09 L442.80,421.10 L443.30,421.10 L443.80,421.10 L444.30,421.10 L444.80,421.10 L445.30,421.10 L445.80,421.10 L446.30,421.10 L446.80,421.10 L447.30,421.10 L447.80,421.10 L448.30,421.10 L448.80,421.10 L449.30,421.10 L449.50,421.10Z" fill="#bfeaf6" fill-opacity="0.55" stroke="none"/>
<path d="M413.30,420.52 L413.80,420.34 L414.30,420.13 L414.80,419.88 L415.30,419.63 L415.80,419.30 L416.30,418.88 L416.80,418.49 L417.30,417.71 L417.80,417.30 L418.30,416.46 L418.80,416.09 L419.30,415.07 L419.80,414.49 L420.30,414.58 L420.80,413.89 L421.30,412.76 L421.80,412.81 L422.30,412.00 L422.80,412.45 L423.30,412.75 L423.80,412.23 L424.30,412.22 L424.80,412.97 L425.30,413.44 L425.80,413.57 L426.30,413.43 L426.80,414.10 L427.30,415.10 L427.80,415.51 L428.30,416.12 L428.80,416.65 L429.30,416.77 L429.80,417.56 L430.30,417.87 L430.80,418.35 L431.30,418.82 L431.80,419.04 L432.30,419.49 L432.80,419.68 L433.30,420.01 L433.80,420.18 L434.30,420.38 L434.80,420.52 L435.30,420.60" fill="none" stroke="#1fc4ee" stroke-width="0.9" stroke-linejoin="round"/>
<path d="M395.30,421.10 L395.30,421.09 L395.80,421.07 L396.30,421.05 L396.80,421.00 L397.30,420.91 L397.80,420.75 L398.30,420.49 L398.80,420.02 L399.30,419.38 L399.80,418.47 L400.30,417.22 L400.80,415.48 L401.30,413.86 L401.80,411.20 L402.30,408.98 L402.80,404.97 L403.30,404.05 L403.80,400.07 L404.30,400.30 L404.80,397.76 L405.30,398.65 L405.80,399.20 L406.30,399.53 L406.80,403.37 L407.30,405.30 L407.80,405.78 L408.30,408.32 L408.80,410.29 L409.30,409.98 L409.80,410.36 L410.30,411.18 L410.80,410.15 L411.30,409.60 L411.80,408.17 L412.30,406.38 L412.80,405.97 L413.30,403.79 L413.80,404.23 L414.30,403.36 L414.80,401.61 L415.30,402.57 L415.80,402.85 L416.30,403.06 L416.80,404.16 L417.30,405.39 L417.80,407.21 L418.30,407.36 L418.80,408.46 L419.30,409.95 L419.80,411.77 L420.30,413.42 L420.80,414.64 L421.30,415.54 L421.80,416.58 L422.30,417.71 L422.80,418.38 L423.30,418.95 L423.80,419.43 L424.30,419.79 L424.80,420.17 L425.30,420.46 L425.80,420.59 L426.30,420.76 L426.80,420.86 L427.30,420.94 L427.80,420.99 L428.30,421.03 L428.80,421.05 L429.30,421.07 L429.80,421.08 L430.30,421.09 L430.80,421.09 L431.30,421.10 L431.80,421.10 L432.30,421.10 L432.80,421.10 L433.30,421.10 L433.80,421.10 L434.30,421.10 L434.80,421.10 L435.30,421.10 L435.80,421.10 L436.30,421.10 L436.80,421.10 L437.30,421.10 L437.80,421.10 L438.30,421.10 L438.80,421.10 L439.30,421.10 L439.80,421.10 L440.30,421.10 L440.80,421.10 L441.30,421.10 L441.80,421.10 L442.30,421.10 L442.80,421.10 L443.30,421.10 L443.80,421.10 L444.30,421.10 L444.80,421.10 L445.30,421.10 L445.80,421.10 L446.30,421.10 L446.80,421.10 L447.30,421.10 L447.80,421.10 L448.30,421.10 L448.80,421.10 L449.30,421.10 L449.50,421.10Z" fill="#f6c8c8" fill-opacity="0.55" stroke="none"/>
<path d="M398.30,420.49 L398.80,420.02 L399.30,419.38 L399.80,418.47 L400.30,417.22 L400.80,415.48 L401.30,413.86 L401.80,411.20 L402.30,408.98 L402.80,404.97 L403.30,404.05 L403.80,400.07 L404.30,400.30 L404.80,397.76 L405.30,398.65 L405.80,399.20 L406.30,399.53 L406.80,403.37 L407.30,405.30 L407.80,405.78 L408.30,408.32 L408.80,410.29 L409.30,409.98 L409.80,410.36 L410.30,411.18 L410.80,410.15 L411.30,409.60 L411.80,408.17 L412.30,406.38 L412.80,405.97 L413.30,403.79 L413.80,404.23 L414.30,403.36 L414.80,401.61 L415.30,402.57 L415.80,402.85 L416.30,403.06 L416.80,404.16 L417.30,405.39 L417.80,407.21 L418.30,407.36 L418.80,408.46 L419.30,409.95 L419.80,411.77 L420.30,413.42 L420.80,414.64 L421.30,415.54 L421.80,416.58 L422.30,417.71 L422.80,418.38 L423.30,418.95 L423.80,419.43 L424.30,419.79 L424.80,420.17 L425.30,420.46 L425.80,420.59" fill="none" stroke="#ee2a2a" stroke-width="0.9" stroke-linejoin="round"/>
<path d="M395.30,421.10 L395.30,418.90 L395.80,418.11 L396.30,417.39 L396.80,416.38 L397.30,415.79 L397.80,414.73 L398.30,413.09 L398.80,411.79 L399.30,410.77 L399.80,408.73 L400.30,407.59 L400.80,405.32 L401.30,405.04 L401.80,403.38 L402.30,400.44 L402.80,400.52 L403.30,399.76 L403.80,397.49 L404.30,397.42 L404.80,398.51 L405.30,397.39 L405.80,397.29 L406.30,399.07 L406.80,398.32 L407.30,400.45 L407.80,400.77 L408.30,402.37 L408.80,403.17 L409.30,402.72 L409.80,405.16 L410.30,405.39 L410.80,407.67 L411.30,408.70 L411.80,409.62 L412.30,411.10 L412.80,412.87 L413.30,413.46 L413.80,414.43 L414.30,415.67 L414.80,416.51 L415.30,416.83 L415.80,417.66 L416.30,418.35 L416.80,418.75 L417.30,419.23 L417.80,419.47 L418.30,419.83 L418.80,420.13 L419.30,420.27 L419.80,420.50 L420.30,420.62 L420.80,420.74 L421.30,420.80 L421.80,420.89 L422.30,420.93 L422.80,420.98 L423.30,421.01 L423.80,421.03 L424.30,421.05 L424.80,421.06 L425.30,421.07 L425.80,421.08 L426.30,421.09 L426.80,421.09 L427.30,421.09 L427.80,421.10 L428.30,421.10 L428.80,421.10 L429.30,421.10 L429.80,421.10 L430.30,421.10 L430.80,421.10 L431.30,421.10 L431.80,421.10 L432.30,421.10 L432.80,421.10 L433.30,421.10 L433.80,421.10 L434.30,421.10 L434.80,421.10 L435.30,421.10 L435.80,421.10 L436.30,421.10 L436.80,421.10 L437.30,421.10 L437.80,421.10 L438.30,421.10 L438.80,421.10 L439.30,421.10 L439.80,421.10 L440.30,421.10 L440.80,421.10 L441.30,421.10 L441.80,421.10 L442.30,421.10 L442.80,421.10 L443.30,421.10 L443.80,421.10 L444.30,421.10 L444.80,421.10 L445.30,421.10 L445.80,421.10 L446.30,421.10 L446.80,421.10 L447.30,421.10 L447.80,421.10 L448.30,421.10 L448.80,421.10 L449.30,421.10 L449.50,421.10Z" fill="#e8c07a" fill-opacity="0.45" stroke="none"/>
<path d="M395.30,418.90 L395.80,418.11 L396.30,417.39 L396.80,416.38 L397.30,415.79 L397.80,414.73 L398.30,413.09 L398.80,411.79 L399.30,410.77 L399.80,408.73 L400.30,407.59 L400.80,405.32 L401.30,405.04 L401.80,403.38 L402.30,400.44 L402.80,400.52 L403.30,399.76 L403.80,397.49 L404.30,397.42 L404.80,398.51 L405.30,397.39 L405.80,397.29 L406.30,399.07 L406.80,398.32 L407.30,400.45 L407.80,400.77 L408.30,402.37 L408.80,403.17 L409.30,402.72 L409.80,405.16 L410.30,405.39 L410.80,407.67 L411.30,408.70 L411.80,409.62 L412.30,411.10 L412.80,412.87 L413.30,413.46 L413.80,414.43 L414.30,415.67 L414.80,416.51 L415.30,416.83 L415.80,417.66 L416.30,418.35 L416.80,418.75 L417.30,419.23 L417.80,419.47 L418.30,419.83 L418.80,420.13 L419.30,420.27 L419.80,420.50 L420.30,420.62" fill="none" stroke="#f0a23a" stroke-width="0.9" stroke-linejoin="round"/>
<path d="M395.30,421.10 L395.30,421.06 L395.80,421.05 L396.30,421.02 L396.80,420.98 L397.30,420.88 L397.80,420.77 L398.30,420.47 L398.80,420.00 L399.30,419.08 L399.80,417.45 L400.30,415.33 L400.80,411.38 L401.30,404.97 L401.80,398.00 L402.30,388.22 L402.80,377.00 L403.30,360.70 L403.80,348.62 L404.30,339.98 L404.80,340.49 L405.30,332.83 L405.80,340.02 L406.30,348.59 L406.80,354.75 L407.30,364.32 L407.80,375.71 L408.30,381.86 L408.80,390.38 L409.30,395.93 L409.80,399.99 L410.30,404.42 L410.80,407.60 L411.30,408.98 L411.80,410.48 L412.30,412.38 L412.80,413.08 L413.30,414.88 L413.80,415.66 L414.30,416.46 L414.80,416.84 L415.30,417.67 L415.80,418.30 L416.30,418.97 L416.80,419.37 L417.30,419.69 L417.80,420.12 L418.30,420.36 L418.80,420.56 L419.30,420.68 L419.80,420.79 L420.30,420.88 L420.80,420.95 L421.30,421.00 L421.80,421.03 L422.30,421.05 L422.80,421.07 L423.30,421.08 L423.80,421.09 L424.30,421.09 L424.80,421.10 L425.30,421.10 L425.80,421.10 L426.30,421.10 L426.80,421.10 L427.30,421.10 L427.80,421.10 L428.30,421.10 L428.80,421.10 L429.30,421.10 L429.80,421.10 L430.30,421.10 L430.80,421.10 L431.30,421.10 L431.80,421.10 L432.30,421.10 L432.80,421.10 L433.30,421.10 L433.80,421.10 L434.30,421.10 L434.80,421.10 L435.30,421.10 L435.80,421.10 L436.30,421.10 L436.80,421.10 L437.30,421.10 L437.80,421.10 L438.30,421.10 L438.80,421.10 L439.30,421.10 L439.80,421.10 L440.30,421.10 L440.80,421.10 L441.30,421.10 L441.80,421.10 L442.30,421.10 L442.80,421.10 L443.30,421.10 L443.80,421.10 L444.30,421.10 L444.80,421.10 L445.30,421.10 L445.80,421.10 L446.30,421.10 L446.80,421.10 L447.30,421.10 L447.80,421.10 L448.30,421.10 L448.80,421.10 L449.30,421.10 L449.50,421.10Z" fill="#e8c07a" fill-opacity="0.5" stroke="none"/>
<path d="M398.30,420.47 L398.80,420.00 L399.30,419.08 L399.80,417.45 L400.30,415.33 L400.80,411.38 L401.30,404.97 L401.80,398.00 L402.30,388.22 L402.80,377.00 L403.30,360.70 L403.80,348.62 L404.30,339.98 L404.80,340.49 L405.30,332.83 L405.80,340.02 L406.30,348.59 L406.80,354.75 L407.30,364.32 L407.80,375.71 L408.30,381.86 L408.80,390.38 L409.30,395.93 L409.80,399.99 L410.30,404.42 L410.80,407.60 L411.30,408.98 L411.80,410.48 L412.30,412.38 L412.80,413.08 L413.30,414.88 L413.80,415.66 L414.30,416.46 L414.80,416.84 L415.30,417.67 L415.80,418.30 L416.30,418.97 L416.80,419.37 L417.30,419.69 L417.80,420.12 L418.30,420.36 L418.80,420.56 L419.30,420.68" fill="none" stroke="#f0a23a" stroke-width="0.9" stroke-linejoin="round"/>
<path d="M395.30,421.10 L395.30,421.09 L395.80,421.07 L396.30,421.04 L396.80,420.98 L397.30,420.86 L397.80,420.62 L398.30,420.25 L398.80,419.50 L399.30,418.54 L399.80,416.71 L400.30,414.13 L400.80,410.79 L401.30,405.06 L401.80,400.05 L402.30,391.67 L402.80,383.29 L403.30,379.22 L403.80,369.13 L404.30,364.59 L404.80,362.74 L405.30,366.79 L405.80,365.20 L406.30,367.00 L406.80,373.14 L407.30,378.38 L407.80,383.24 L408.30,388.82 L408.80,392.13 L409.30,398.28 L409.80,402.17 L410.30,405.20 L410.80,407.60 L411.30,410.80 L411.80,412.80 L412.30,413.30 L412.80,414.59 L413.30,415.58 L413.80,416.52 L414.30,417.33 L414.80,417.93 L415.30,418.38 L415.80,418.79 L416.30,419.29 L416.80,419.51 L417.30,419.82 L417.80,420.18 L418.30,420.31 L418.80,420.52 L419.30,420.64 L419.80,420.78 L420.30,420.85 L420.80,420.93 L421.30,420.98 L421.80,421.02 L422.30,421.05 L422.80,421.06 L423.30,421.07 L423.80,421.08 L424.30,421.09 L424.80,421.09 L425.30,421.10 L425.80,421.10 L426.30,421.10 L426.80,421.10 L427.30,421.10 L427.80,421.10 L428.30,421.10 L428.80,421.10 L429.30,421.10 L429.80,421.10 L430.30,421.10 L430.80,421.10 L431.30,421.10 L431.80,421.10 L432.30,421.10 L432.80,421.10 L433.30,421.10 L433.80,421.10 L434.30,421.10 L434.80,421.10 L435.30,421.10 L435.80,421.10 L436.30,421.10 L436.80,421.10 L437.30,421.10 L437.80,421.10 L438.30,421.10 L438.80,421.10 L439.30,421.10 L439.80,421.10 L440.30,421.10 L440.80,421.10 L441.30,421.10 L441.80,421.10 L442.30,421.10 L442.80,421.10 L443.30,421.10 L443.80,421.10 L444.30,421.10 L444.80,421.10 L445.30,421.10 L445.80,421.10 L446.30,421.10 L446.80,421.10 L447.30,421.10 L447.80,421.10 L448.30,421.10 L448.80,421.10 L449.30,421.10 L449.50,421.10Z" fill="#7a8a2a" fill-opacity="0.45" stroke="none"/>
<path d="M397.80,420.62 L398.30,420.25 L398.80,419.50 L399.30,418.54 L399.80,416.71 L400.30,414.13 L400.80,410.79 L401.30,405.06 L401.80,400.05 L402.30,391.67 L402.80,383.29 L403.30,379.22 L403.80,369.13 L404.30,364.59 L404.80,362.74 L405.30,366.79 L405.80,365.20 L406.30,367.00 L406.80,373.14 L407.30,378.38 L407.80,383.24 L408.30,388.82 L408.80,392.13 L409.30,398.28 L409.80,402.17 L410.30,405.20 L410.80,407.60 L411.30,410.80 L411.80,412.80 L412.30,413.30 L412.80,414.59 L413.30,415.58 L413.80,416.52 L414.30,417.33 L414.80,417.93 L415.30,418.38 L415.80,418.79 L416.30,419.29 L416.80,419.51 L417.30,419.82 L417.80,420.18 L418.30,420.31 L418.80,420.52 L419.30,420.64" fill="none" stroke="#4f6a12" stroke-width="0.9" stroke-linejoin="round"/>
<path d="M395.30,421.10 L395.30,421.07 L395.80,421.03 L396.30,420.96 L396.80,420.83 L397.30,420.65 L397.80,420.32 L398.30,419.81 L398.80,419.01 L399.30,417.64 L399.80,416.29 L400.30,413.81 L400.80,411.35 L401.30,407.91 L401.80,403.77 L402.30,398.46 L402.80,394.63 L403.30,392.62 L403.80,388.23 L404.30,386.26 L404.80,381.56 L405.30,381.56 L405.80,382.15 L406.30,383.38 L406.80,385.64 L407.30,387.16 L407.80,390.32 L408.30,394.67 L408.80,395.23 L409.30,398.46 L409.80,399.62 L410.30,401.62 L410.80,403.11 L411.30,404.17 L411.80,404.77 L412.30,405.61 L412.80,406.56 L413.30,405.95 L413.80,406.75 L414.30,407.33 L414.80,408.78 L415.30,410.06 L415.80,410.98 L416.30,412.84 L416.80,413.49 L417.30,414.84 L417.80,416.08 L418.30,417.00 L418.80,417.70 L419.30,418.53 L419.80,419.09 L420.30,419.56 L420.80,420.00 L421.30,420.33 L421.80,420.53 L422.30,420.72 L422.80,420.84 L423.30,420.93 L423.80,420.99 L424.30,421.03 L424.80,421.05 L425.30,421.07 L425.80,421.08 L426.30,421.09 L426.80,421.09 L427.30,421.10 L427.80,421.10 L428.30,421.10 L428.80,421.10 L429.30,421.10 L429.80,421.10 L430.30,421.10 L430.80,421.10 L431.30,421.10 L431.80,421.10 L432.30,421.10 L432.80,421.10 L433.30,421.10 L433.80,421.10 L434.30,421.10 L434.80,421.10 L435.30,421.10 L435.80,421.10 L436.30,421.10 L436.80,421.10 L437.30,421.10 L437.80,421.10 L438.30,421.10 L438.80,421.10 L439.30,421.10 L439.80,421.10 L440.30,421.10 L440.80,421.10 L441.30,421.10 L441.80,421.10 L442.30,421.10 L442.80,421.10 L443.30,421.10 L443.80,421.10 L444.30,421.10 L444.80,421.10 L445.30,421.10 L445.80,421.10 L446.30,421.10 L446.80,421.10 L447.30,421.10 L447.80,421.10 L448.30,421.10 L448.80,421.10 L449.30,421.10 L449.50,421.10Z" fill="#b8ee9a" fill-opacity="0.5" stroke="none"/>
<path d="M397.30,420.65 L397.80,420.32 L398.30,419.81 L398.80,419.01 L399.30,417.64 L399.80,416.29 L400.30,413.81 L400.80,411.35 L401.30,407.91 L401.80,403.77 L402.30,398.46 L402.80,394.63 L403.30,392.62 L403.80,388.23 L404.30,386.26 L404.80,381.56 L405.30,381.56 L405.80,382.15 L406.30,383.38 L406.80,385.64 L407.30,387.16 L407.80,390.32 L408.30,394.67 L408.80,395.23 L409.30,398.46 L409.80,399.62 L410.30,401.62 L410.80,403.11 L411.30,404.17 L411.80,404.77 L412.30,405.61 L412.80,406.56 L413.30,405.95 L413.80,406.75 L414.30,407.33 L414.80,408.78 L415.30,410.06 L415.80,410.98 L416.30,412.84 L416.80,413.49 L417.30,414.84 L417.80,416.08 L418.30,417.00 L418.80,417.70 L419.30,418.53 L419.80,419.09 L420.30,419.56 L420.80,420.00 L421.30,420.33 L421.80,420.53" fill="none" stroke="#3ee01a" stroke-width="0.9" stroke-linejoin="round"/>
</g>
<rect x="394.50" y="341.40" width="80.90" height="80.50" fill="none" stroke="#6e6e6e" stroke-width="0.7" />
<line x1="393.00" y1="421.10" x2="394.50" y2="421.10" stroke="#666" stroke-width="0.5" />
<text x="392.30" y="422.10" font-size="2.8" font-weight="normal" text-anchor="end" fill="#555" >0</text>
<line x1="393.00" y1="400.30" x2="394.50" y2="400.30" stroke="#666" stroke-width="0.5" />
<text x="392.30" y="401.30" font-size="2.8" font-weight="normal" text-anchor="end" fill="#555" >100</text>
<line x1="393.00" y1="379.50" x2="394.50" y2="379.50" stroke="#666" stroke-width="0.5" />
<text x="392.30" y="380.50" font-size="2.8" font-weight="normal" text-anchor="end" fill="#555" >200</text>
<line x1="393.00" y1="358.70" x2="394.50" y2="358.70" stroke="#666" stroke-width="0.5" />
<text x="392.30" y="359.70" font-size="2.8" font-weight="normal" text-anchor="end" fill="#555" >300</text>
<line x1="405.50" y1="421.90" x2="405.50" y2="423.40" stroke="#666" stroke-width="0.5" />
<text x="405.50" y="427.10" font-size="2.9" font-weight="normal" text-anchor="middle" fill="#555" >0</text>
<line x1="442.50" y1="421.90" x2="442.50" y2="423.40" stroke="#666" stroke-width="0.5" />
<text x="442.50" y="427.10" font-size="2.9" font-weight="normal" text-anchor="middle" fill="#555" >10<tspan font-size="2" dy="-1.2">3</tspan></text>
<line x1="466.50" y1="421.90" x2="466.50" y2="423.40" stroke="#666" stroke-width="0.5" />
<text x="466.50" y="427.10" font-size="2.9" font-weight="normal" text-anchor="middle" fill="#555" >10<tspan font-size="2" dy="-1.2">4</tspan></text>
<rect x="402.70" y="422.10" width="2.80" height="1.30" fill="#222" stroke="none" stroke-width="1" />
<text x="427.50" y="435.70" font-size="2.8" font-weight="normal" text-anchor="middle" fill="#555" >GFP+</text>
<text x="386.00" y="381.65" font-size="3.0" font-weight="normal" text-anchor="middle" fill="#555" transform="rotate(-90 386.00 381.65)">Count</text>
<rect x="486.30" y="346.80" width="7.20" height="36.00" fill="#f4f4f4" stroke="#8a8a8a" stroke-width="0.6" />
<rect x="487.60" y="347.60" width="4.60" height="5.20" fill="#a8c070" stroke="#6e8a2a" stroke-width="0.9" />
<text x="497.60" y="352.10" font-size="5.3" font-weight="bold" text-anchor="start" fill="#222" >FMD+VC+CQ</text>
<rect x="487.60" y="354.70" width="4.60" height="5.20" fill="#bff0a8" stroke="#5ee04a" stroke-width="0.9" />
<text x="497.60" y="359.20" font-size="5.3" font-weight="bold" text-anchor="start" fill="#222" >FMD+CQ</text>
<rect x="487.60" y="362.20" width="4.60" height="5.20" fill="#f8d8a8" stroke="#f0a850" stroke-width="0.9" />
<text x="497.60" y="366.70" font-size="5.3" font-weight="bold" text-anchor="start" fill="#222" >AL+VC+CQ</text>
<rect x="487.60" y="369.60" width="4.60" height="5.20" fill="#f8c0c0" stroke="#ee5a5a" stroke-width="0.9" />
<text x="497.60" y="374.10" font-size="5.3" font-weight="bold" text-anchor="start" fill="#222" >AL+CQ</text>
<rect x="487.60" y="377.10" width="4.60" height="5.20" fill="#b8ecf8" stroke="#30c8ee" stroke-width="0.9" />
<text x="497.60" y="381.60" font-size="5.3" font-weight="bold" text-anchor="start" fill="#222" >AL</text>
<text x="6.20" y="492.50" font-size="19" font-weight="bold" text-anchor="start" fill="#000" stroke="#000" stroke-width="0.57" >g</text>
<text x="130.60" y="484.00" font-size="8.6" font-weight="bold" text-anchor="start" fill="#111" stroke="#111" stroke-width="0.26" textLength="10.2" lengthAdjust="spacingAndGlyphs">AL</text>
<text x="226.80" y="484.00" font-size="8.6" font-weight="bold" text-anchor="start" fill="#111" stroke="#111" stroke-width="0.26" textLength="28.2" lengthAdjust="spacingAndGlyphs">AL+CQ</text>
<text x="293.75" y="484.00" font-size="8.6" font-weight="bold" text-anchor="start" fill="#111" stroke="#111" stroke-width="0.26" textLength="44.5" lengthAdjust="spacingAndGlyphs">AL+VC+CQ</text>
<text x="366.90" y="484.00" font-size="8.6" font-weight="bold" text-anchor="start" fill="#111" stroke="#111" stroke-width="0.26" textLength="37.8" lengthAdjust="spacingAndGlyphs">FMD+CQ</text>
<text x="429.15" y="484.00" font-size="8.6" font-weight="bold" text-anchor="start" fill="#111" stroke="#111" stroke-width="0.26" textLength="54.7" lengthAdjust="spacingAndGlyphs">FMD+VC+CQ</text>
<line x1="63.70" y1="493.00" x2="206.30" y2="493.00" stroke="#a9c8e6" stroke-width="1.0" />
<line x1="215.20" y1="493.00" x2="266.70" y2="493.00" stroke="#a9c8e6" stroke-width="1.0" />
<line x1="274.80" y1="493.00" x2="355.70" y2="493.00" stroke="#a9c8e6" stroke-width="1.0" />
<line x1="362.20" y1="493.00" x2="411.70" y2="493.00" stroke="#a9c8e6" stroke-width="1.0" />
<line x1="419.80" y1="493.00" x2="494.00" y2="493.00" stroke="#a9c8e6" stroke-width="1.0" />
<text x="116.00" y="506.40" font-size="5.2" font-weight="normal" text-anchor="start" fill="#333" textLength="39.4" lengthAdjust="spacingAndGlyphs">LOW SURVIVAL</text>
<text x="221.90" y="506.40" font-size="5.2" font-weight="normal" text-anchor="start" fill="#333" textLength="38.4" lengthAdjust="spacingAndGlyphs">LOW SURVIVAL</text>
<text x="283.00" y="506.40" font-size="5.2" font-weight="normal" text-anchor="start" fill="#333" textLength="11.6" lengthAdjust="spacingAndGlyphs">LOW</text>
<text x="309.10" y="506.40" font-size="5.2" font-weight="normal" text-anchor="start" fill="#333" textLength="12.9" lengthAdjust="spacingAndGlyphs">HIGH</text>
<text x="325.70" y="506.40" font-size="5.2" font-weight="normal" text-anchor="start" fill="#333" textLength="24.8" lengthAdjust="spacingAndGlyphs">SURVIVAL</text>
<text x="366.00" y="506.40" font-size="5.2" font-weight="normal" text-anchor="start" fill="#333" textLength="38.7" lengthAdjust="spacingAndGlyphs">LOW SURVIVAL</text>
<text x="422.70" y="506.40" font-size="5.2" font-weight="normal" text-anchor="start" fill="#333" textLength="12.3" lengthAdjust="spacingAndGlyphs">LOW</text>
<text x="449.50" y="506.40" font-size="5.2" font-weight="normal" text-anchor="start" fill="#333" textLength="14.0" lengthAdjust="spacingAndGlyphs">HIGH</text>
<text x="465.80" y="506.40" font-size="5.2" font-weight="normal" text-anchor="start" fill="#333" textLength="25.3" lengthAdjust="spacingAndGlyphs">SURVIVAL</text>
<text x="30.50" y="527.90" font-size="7.9" font-weight="bold" text-anchor="start" fill="#111" stroke="#111" stroke-width="0.24" textLength="29.7" lengthAdjust="spacingAndGlyphs">Vinculin</text>
<text x="30.50" y="558.30" font-size="7.9" font-weight="bold" text-anchor="start" fill="#111" stroke="#111" stroke-width="0.24" textLength="12.7" lengthAdjust="spacingAndGlyphs">p62</text>
<text x="30.50" y="583.90" font-size="7.9" font-weight="bold" text-anchor="start" fill="#111" stroke="#111" stroke-width="0.24" textLength="26.6" lengthAdjust="spacingAndGlyphs">Beclin1</text>
<text x="30.50" y="612.00" font-size="7.9" font-weight="bold" text-anchor="start" fill="#111" stroke="#111" stroke-width="0.24" textLength="18.6" lengthAdjust="spacingAndGlyphs">LC3b</text>
<rect x="64.10" y="514.20" width="141.40" height="22.30" fill="url(#bg0)" stroke="none" stroke-width="1" />
<rect x="64.10" y="545.30" width="141.40" height="22.20" fill="url(#bg1)" stroke="none" stroke-width="1" />
<rect x="64.10" y="575.60" width="141.40" height="22.20" fill="url(#bg2)" stroke="none" stroke-width="1" />
<rect x="64.10" y="603.80" width="141.40" height="22.10" fill="url(#bg3)" stroke="none" stroke-width="1" />
<rect x="213.10" y="514.20" width="140.90" height="22.30" fill="url(#bg0)" stroke="none" stroke-width="1" />
<rect x="213.10" y="545.30" width="140.90" height="22.20" fill="url(#bg1)" stroke="none" stroke-width="1" />
<rect x="213.10" y="575.60" width="140.90" height="22.20" fill="url(#bg2)" stroke="none" stroke-width="1" />
<rect x="213.10" y="603.80" width="140.90" height="22.10" fill="url(#bg3)" stroke="none" stroke-width="1" />
<rect x="358.10" y="514.20" width="140.40" height="22.30" fill="url(#bg0)" stroke="none" stroke-width="1" />
<rect x="358.10" y="545.30" width="140.40" height="22.20" fill="url(#bg1)" stroke="none" stroke-width="1" />
<rect x="358.10" y="575.60" width="140.40" height="22.20" fill="url(#bg2)" stroke="none" stroke-width="1" />
<rect x="358.10" y="603.80" width="140.40" height="22.10" fill="url(#bg3)" stroke="none" stroke-width="1" />
<g filter="url(#bl)">
<rect x="65.90" y="521.85" width="14.60" height="4.30" rx="1.72" fill="#0a0a0a" fill-opacity="1.00"/>
<rect x="82.30" y="521.75" width="14.60" height="4.30" rx="1.72" fill="#0a0a0a" fill-opacity="1.00"/>
<rect x="98.10" y="521.65" width="14.60" height="4.30" rx="1.72" fill="#0a0a0a" fill-opacity="1.00"/>
<rect x="113.20" y="521.55" width="14.60" height="4.30" rx="1.72" fill="#0a0a0a" fill-opacity="1.00"/>
<rect x="128.90" y="521.45" width="14.60" height="4.30" rx="1.72" fill="#0a0a0a" fill-opacity="1.00"/>
<rect x="143.70" y="521.35" width="14.60" height="4.30" rx="1.72" fill="#0a0a0a" fill-opacity="1.00"/>
<rect x="159.50" y="521.25" width="14.60" height="4.30" rx="1.72" fill="#0a0a0a" fill-opacity="1.00"/>
<rect x="175.30" y="521.15" width="14.60" height="4.30" rx="1.72" fill="#0a0a0a" fill-opacity="1.00"/>
<rect x="191.30" y="521.05" width="14.60" height="4.30" rx="1.72" fill="#0a0a0a" fill-opacity="1.00"/>
<rect x="211.00" y="526.70" width="14.00" height="4.60" rx="1.84" fill="#0a0a0a" fill-opacity="1.00"/>
<rect x="225.60" y="525.92" width="14.00" height="4.60" rx="1.84" fill="#0a0a0a" fill-opacity="1.00"/>
<rect x="238.70" y="525.14" width="14.00" height="4.60" rx="1.84" fill="#0a0a0a" fill-opacity="1.00"/>
<rect x="251.80" y="524.37" width="14.00" height="4.60" rx="1.84" fill="#0a0a0a" fill-opacity="1.00"/>
<rect x="266.40" y="523.59" width="14.00" height="4.60" rx="1.84" fill="#0a0a0a" fill-opacity="1.00"/>
<rect x="279.50" y="522.81" width="14.00" height="4.60" rx="1.84" fill="#0a0a0a" fill-opacity="1.00"/>
<rect x="292.50" y="522.03" width="14.00" height="4.60" rx="1.84" fill="#0a0a0a" fill-opacity="1.00"/>
<rect x="305.60" y="521.26" width="14.00" height="4.60" rx="1.84" fill="#0a0a0a" fill-opacity="1.00"/>
<rect x="320.20" y="520.48" width="14.00" height="4.60" rx="1.84" fill="#0a0a0a" fill-opacity="1.00"/>
<rect x="334.70" y="519.70" width="14.00" height="4.60" rx="1.84" fill="#0a0a0a" fill-opacity="1.00"/>
<rect x="356.10" y="525.50" width="14.00" height="4.60" rx="1.84" fill="#0a0a0a" fill-opacity="1.00"/>
<rect x="370.60" y="525.17" width="14.00" height="4.60" rx="1.84" fill="#0a0a0a" fill-opacity="1.00"/>
<rect x="384.30" y="524.83" width="14.00" height="4.60" rx="1.84" fill="#0a0a0a" fill-opacity="1.00"/>
<rect x="398.90" y="524.50" width="14.00" height="4.60" rx="1.84" fill="#0a0a0a" fill-opacity="1.00"/>
<rect x="412.80" y="524.17" width="14.00" height="4.60" rx="1.84" fill="#0a0a0a" fill-opacity="1.00"/>
<rect x="425.30" y="523.83" width="14.00" height="4.60" rx="1.84" fill="#0a0a0a" fill-opacity="1.00"/>
<rect x="438.40" y="523.50" width="14.00" height="4.60" rx="1.84" fill="#0a0a0a" fill-opacity="1.00"/>
<rect x="450.60" y="523.17" width="14.00" height="4.60" rx="1.84" fill="#0a0a0a" fill-opacity="1.00"/>
<rect x="465.20" y="522.83" width="14.00" height="4.60" rx="1.84" fill="#0a0a0a" fill-opacity="1.00"/>
<rect x="480.30" y="522.50" width="14.00" height="4.60" rx="1.84" fill="#0a0a0a" fill-opacity="1.00"/>
<rect x="65.90" y="557.30" width="14.60" height="3.40" rx="1.36" fill="#0a0a0a" fill-opacity="0.59"/>
<rect x="65.90" y="559.70" width="14.60" height="3.40" rx="1.36" fill="#0a0a0a" fill-opacity="0.68"/>
<rect x="82.30" y="557.30" width="14.60" height="3.40" rx="1.36" fill="#0a0a0a" fill-opacity="0.36"/>
<rect x="82.30" y="559.70" width="14.60" height="3.40" rx="1.36" fill="#0a0a0a" fill-opacity="0.42"/>
<rect x="98.10" y="556.90" width="14.60" height="3.40" rx="1.36" fill="#0a0a0a" fill-opacity="0.52"/>
<rect x="98.10" y="559.30" width="14.60" height="3.40" rx="1.36" fill="#0a0a0a" fill-opacity="0.61"/>
<rect x="113.20" y="555.70" width="14.60" height="3.40" rx="1.36" fill="#0a0a0a" fill-opacity="0.85"/>
<rect x="113.20" y="558.10" width="14.60" height="3.40" rx="1.36" fill="#0a0a0a" fill-opacity="0.99"/>
<rect x="128.90" y="555.30" width="14.60" height="3.40" rx="1.36" fill="#0a0a0a" fill-opacity="0.59"/>
<rect x="128.90" y="557.70" width="14.60" height="3.40" rx="1.36" fill="#0a0a0a" fill-opacity="0.68"/>
<rect x="143.70" y="554.50" width="14.60" height="3.40" rx="1.36" fill="#0a0a0a" fill-opacity="0.66"/>
<rect x="143.70" y="556.90" width="14.60" height="3.40" rx="1.36" fill="#0a0a0a" fill-opacity="0.77"/>
<rect x="159.50" y="553.50" width="14.60" height="3.40" rx="1.36" fill="#0a0a0a" fill-opacity="0.74"/>
<rect x="159.50" y="555.90" width="14.60" height="3.40" rx="1.36" fill="#0a0a0a" fill-opacity="0.86"/>
<rect x="175.30" y="552.30" width="14.60" height="3.40" rx="1.36" fill="#0a0a0a" fill-opacity="0.78"/>
<rect x="175.30" y="554.70" width="14.60" height="3.40" rx="1.36" fill="#0a0a0a" fill-opacity="0.90"/>
<rect x="191.30" y="552.70" width="14.60" height="3.40" rx="1.36" fill="#0a0a0a" fill-opacity="0.30"/>
<rect x="191.30" y="555.10" width="14.60" height="3.40" rx="1.36" fill="#0a0a0a" fill-opacity="0.35"/>
<rect x="211.10" y="555.10" width="13.80" height="4.60" rx="1.84" fill="#0a0a0a" fill-opacity="1.00"/>
<rect x="225.70" y="555.10" width="13.80" height="4.60" rx="1.84" fill="#0a0a0a" fill-opacity="0.33"/>
<rect x="238.80" y="555.10" width="13.80" height="4.60" rx="1.84" fill="#0a0a0a" fill-opacity="0.79"/>
<rect x="251.90" y="555.10" width="13.80" height="4.60" rx="1.84" fill="#0a0a0a" fill-opacity="0.33"/>
<rect x="266.50" y="555.10" width="13.80" height="4.60" rx="1.84" fill="#0a0a0a" fill-opacity="0.39"/>
<rect x="279.60" y="555.10" width="13.80" height="4.60" rx="1.84" fill="#0a0a0a" fill-opacity="0.86"/>
<rect x="292.60" y="555.10" width="13.80" height="4.60" rx="1.84" fill="#0a0a0a" fill-opacity="0.86"/>
<rect x="305.70" y="555.10" width="13.80" height="4.60" rx="1.84" fill="#0a0a0a" fill-opacity="0.61"/>
<rect x="320.30" y="555.10" width="13.80" height="4.60" rx="1.84" fill="#0a0a0a" fill-opacity="0.97"/>
<rect x="334.80" y="555.10" width="13.80" height="4.60" rx="1.84" fill="#0a0a0a" fill-opacity="0.17"/>
<rect x="356.20" y="552.00" width="13.80" height="4.00" rx="1.60" fill="#0a0a0a" fill-opacity="0.61"/>
<rect x="370.70" y="552.00" width="13.80" height="4.00" rx="1.60" fill="#0a0a0a" fill-opacity="0.97"/>
<rect x="384.40" y="552.00" width="13.80" height="4.00" rx="1.60" fill="#0a0a0a" fill-opacity="0.28"/>
<rect x="399.00" y="552.00" width="13.80" height="4.00" rx="1.60" fill="#0a0a0a" fill-opacity="0.28"/>
<rect x="412.90" y="552.00" width="13.80" height="4.00" rx="1.60" fill="#0a0a0a" fill-opacity="0.90"/>
<rect x="425.40" y="552.00" width="13.80" height="4.00" rx="1.60" fill="#0a0a0a" fill-opacity="0.57"/>
<rect x="438.50" y="552.00" width="13.80" height="4.00" rx="1.60" fill="#0a0a0a" fill-opacity="0.61"/>
<rect x="450.70" y="552.00" width="13.80" height="4.00" rx="1.60" fill="#0a0a0a" fill-opacity="0.66"/>
<rect x="465.30" y="552.00" width="13.80" height="4.00" rx="1.60" fill="#0a0a0a" fill-opacity="0.61"/>
<rect x="480.40" y="552.00" width="13.80" height="4.00" rx="1.60" fill="#0a0a0a" fill-opacity="0.50"/>
<rect x="66.00" y="586.60" width="14.40" height="4.40" rx="1.76" fill="#0a0a0a" fill-opacity="1.00"/>
<rect x="82.40" y="586.00" width="14.40" height="4.40" rx="1.76" fill="#0a0a0a" fill-opacity="1.00"/>
<rect x="98.20" y="585.40" width="14.40" height="4.40" rx="1.76" fill="#0a0a0a" fill-opacity="1.00"/>
<rect x="113.30" y="584.80" width="14.40" height="4.40" rx="1.76" fill="#0a0a0a" fill-opacity="1.00"/>
<rect x="129.00" y="584.20" width="14.40" height="4.40" rx="1.76" fill="#0a0a0a" fill-opacity="1.00"/>
<rect x="143.80" y="583.60" width="14.40" height="4.40" rx="1.76" fill="#0a0a0a" fill-opacity="1.00"/>
<rect x="159.60" y="583.00" width="14.40" height="4.40" rx="1.76" fill="#0a0a0a" fill-opacity="1.00"/>
<rect x="175.40" y="582.40" width="14.40" height="4.40" rx="1.76" fill="#0a0a0a" fill-opacity="1.00"/>
<rect x="191.40" y="581.80" width="14.40" height="4.40" rx="1.76" fill="#0a0a0a" fill-opacity="1.00"/>
<rect x="211.10" y="581.70" width="13.80" height="3.80" rx="1.52" fill="#0a0a0a" fill-opacity="0.94"/>
<rect x="225.70" y="581.30" width="13.80" height="3.80" rx="1.52" fill="#0a0a0a" fill-opacity="0.77"/>
<rect x="238.80" y="580.90" width="13.80" height="3.80" rx="1.52" fill="#0a0a0a" fill-opacity="0.83"/>
<rect x="251.90" y="580.50" width="13.80" height="3.80" rx="1.52" fill="#0a0a0a" fill-opacity="0.66"/>
<rect x="266.50" y="580.10" width="13.80" height="3.80" rx="1.52" fill="#0a0a0a" fill-opacity="0.79"/>
<rect x="279.60" y="579.70" width="13.80" height="3.80" rx="1.52" fill="#0a0a0a" fill-opacity="0.90"/>
<rect x="292.60" y="579.30" width="13.80" height="3.80" rx="1.52" fill="#0a0a0a" fill-opacity="0.90"/>
<rect x="305.70" y="578.90" width="13.80" height="3.80" rx="1.52" fill="#0a0a0a" fill-opacity="0.72"/>
<rect x="320.30" y="578.50" width="13.80" height="3.80" rx="1.52" fill="#0a0a0a" fill-opacity="0.97"/>
<rect x="334.80" y="578.10" width="13.80" height="3.80" rx="1.52" fill="#0a0a0a" fill-opacity="0.55"/>
<rect x="356.20" y="584.00" width="13.80" height="3.80" rx="1.52" fill="#0a0a0a" fill-opacity="0.95"/>
<rect x="370.70" y="583.68" width="13.80" height="3.80" rx="1.52" fill="#0a0a0a" fill-opacity="0.95"/>
<rect x="384.40" y="583.36" width="13.80" height="3.80" rx="1.52" fill="#0a0a0a" fill-opacity="0.95"/>
<rect x="399.00" y="583.03" width="13.80" height="3.80" rx="1.52" fill="#0a0a0a" fill-opacity="0.95"/>
<rect x="412.90" y="582.71" width="13.80" height="3.80" rx="1.52" fill="#0a0a0a" fill-opacity="0.95"/>
<rect x="425.40" y="582.39" width="13.80" height="3.80" rx="1.52" fill="#0a0a0a" fill-opacity="0.95"/>
<rect x="438.50" y="582.07" width="13.80" height="3.80" rx="1.52" fill="#0a0a0a" fill-opacity="0.95"/>
<rect x="450.70" y="581.74" width="13.80" height="3.80" rx="1.52" fill="#0a0a0a" fill-opacity="0.95"/>
<rect x="465.30" y="581.42" width="13.80" height="3.80" rx="1.52" fill="#0a0a0a" fill-opacity="0.95"/>
<rect x="480.40" y="581.10" width="13.80" height="3.80" rx="1.52" fill="#0a0a0a" fill-opacity="0.95"/>
<linearGradient id="lg1" gradientUnits="userSpaceOnUse" x1="65.50" y1="0" x2="205.00" y2="0"><stop offset="0.000" stop-color="#0a0a0a" stop-opacity="0.95"/><stop offset="0.007" stop-color="#0a0a0a" stop-opacity="0.95"/><stop offset="0.014" stop-color="#0a0a0a" stop-opacity="0.95"/><stop offset="0.021" stop-color="#0a0a0a" stop-opacity="0.95"/><stop offset="0.029" stop-color="#0a0a0a" stop-opacity="0.95"/><stop offset="0.036" stop-color="#0a0a0a" stop-opacity="0.95"/><stop offset="0.043" stop-color="#0a0a0a" stop-opacity="0.95"/><stop offset="0.050" stop-color="#0a0a0a" stop-opacity="0.95"/><stop offset="0.057" stop-color="#0a0a0a" stop-opacity="0.95"/><stop offset="0.064" stop-color="#0a0a0a" stop-opacity="0.95"/><stop offset="0.071" stop-color="#0a0a0a" stop-opacity="0.95"/><stop offset="0.079" stop-color="#0a0a0a" stop-opacity="0.95"/><stop offset="0.086" stop-color="#0a0a0a" stop-opacity="0.95"/><stop offset="0.093" stop-color="#0a0a0a" stop-opacity="0.95"/><stop offset="0.100" stop-color="#0a0a0a" stop-opacity="0.95"/><stop offset="0.107" stop-color="#0a0a0a" stop-opacity="0.82"/><stop offset="0.114" stop-color="#0a0a0a" stop-opacity="0.56"/><stop offset="0.121" stop-color="#0a0a0a" stop-opacity="0.75"/><stop offset="0.129" stop-color="#0a0a0a" stop-opacity="0.85"/><stop offset="0.136" stop-color="#0a0a0a" stop-opacity="0.85"/><stop offset="0.143" stop-color="#0a0a0a" stop-opacity="0.85"/><stop offset="0.150" stop-color="#0a0a0a" stop-opacity="0.85"/><stop offset="0.157" stop-color="#0a0a0a" stop-opacity="0.85"/><stop offset="0.164" stop-color="#0a0a0a" stop-opacity="0.85"/><stop offset="0.171" stop-color="#0a0a0a" stop-opacity="0.85"/><stop offset="0.179" stop-color="#0a0a0a" stop-opacity="0.85"/><stop offset="0.186" stop-color="#0a0a0a" stop-opacity="0.85"/><stop offset="0.193" stop-color="#0a0a0a" stop-opacity="0.85"/><stop offset="0.200" stop-color="#0a0a0a" stop-opacity="0.85"/><stop offset="0.207" stop-color="#0a0a0a" stop-opacity="0.85"/><stop offset="0.214" stop-color="#0a0a0a" stop-opacity="0.85"/><stop offset="0.221" stop-color="#0a0a0a" stop-opacity="0.76"/><stop offset="0.229" stop-color="#0a0a0a" stop-opacity="0.57"/><stop offset="0.236" stop-color="#0a0a0a" stop-opacity="0.76"/><stop offset="0.243" stop-color="#0a0a0a" stop-opacity="0.90"/><stop offset="0.250" stop-color="#0a0a0a" stop-opacity="0.90"/><stop offset="0.257" stop-color="#0a0a0a" stop-opacity="0.90"/><stop offset="0.264" stop-color="#0a0a0a" stop-opacity="0.90"/><stop offset="0.271" stop-color="#0a0a0a" stop-opacity="0.90"/><stop offset="0.279" stop-color="#0a0a0a" stop-opacity="0.90"/><stop offset="0.286" stop-color="#0a0a0a" stop-opacity="0.90"/><stop offset="0.293" stop-color="#0a0a0a" stop-opacity="0.90"/><stop offset="0.300" stop-color="#0a0a0a" stop-opacity="0.90"/><stop offset="0.307" stop-color="#0a0a0a" stop-opacity="0.90"/><stop offset="0.314" stop-color="#0a0a0a" stop-opacity="0.90"/><stop offset="0.321" stop-color="#0a0a0a" stop-opacity="0.90"/><stop offset="0.329" stop-color="#0a0a0a" stop-opacity="0.90"/><stop offset="0.336" stop-color="#0a0a0a" stop-opacity="0.71"/><stop offset="0.343" stop-color="#0a0a0a" stop-opacity="0.73"/><stop offset="0.350" stop-color="#0a0a0a" stop-opacity="0.95"/><stop offset="0.357" stop-color="#0a0a0a" stop-opacity="1.00"/><stop offset="0.364" stop-color="#0a0a0a" stop-opacity="1.00"/><stop offset="0.371" stop-color="#0a0a0a" stop-opacity="1.00"/><stop offset="0.379" stop-color="#0a0a0a" stop-opacity="1.00"/><stop offset="0.386" stop-color="#0a0a0a" stop-opacity="1.00"/><stop offset="0.393" stop-color="#0a0a0a" stop-opacity="1.00"/><stop offset="0.400" stop-color="#0a0a0a" stop-opacity="1.00"/><stop offset="0.407" stop-color="#0a0a0a" stop-opacity="1.00"/><stop offset="0.414" stop-color="#0a0a0a" stop-opacity="1.00"/><stop offset="0.421" stop-color="#0a0a0a" stop-opacity="1.00"/><stop offset="0.429" stop-color="#0a0a0a" stop-opacity="1.00"/><stop offset="0.436" stop-color="#0a0a0a" stop-opacity="1.00"/><stop offset="0.443" stop-color="#0a0a0a" stop-opacity="0.88"/><stop offset="0.450" stop-color="#0a0a0a" stop-opacity="0.67"/><stop offset="0.457" stop-color="#0a0a0a" stop-opacity="0.77"/><stop offset="0.464" stop-color="#0a0a0a" stop-opacity="0.90"/><stop offset="0.471" stop-color="#0a0a0a" stop-opacity="0.90"/><stop offset="0.479" stop-color="#0a0a0a" stop-opacity="0.90"/><stop offset="0.486" stop-color="#0a0a0a" stop-opacity="0.90"/><stop offset="0.493" stop-color="#0a0a0a" stop-opacity="0.90"/><stop offset="0.500" stop-color="#0a0a0a" stop-opacity="0.90"/><stop offset="0.507" stop-color="#0a0a0a" stop-opacity="0.90"/><stop offset="0.514" stop-color="#0a0a0a" stop-opacity="0.90"/><stop offset="0.521" stop-color="#0a0a0a" stop-opacity="0.90"/><stop offset="0.529" stop-color="#0a0a0a" stop-opacity="0.90"/><stop offset="0.536" stop-color="#0a0a0a" stop-opacity="0.90"/><stop offset="0.543" stop-color="#0a0a0a" stop-opacity="0.90"/><stop offset="0.550" stop-color="#0a0a0a" stop-opacity="0.86"/><stop offset="0.557" stop-color="#0a0a0a" stop-opacity="0.66"/><stop offset="0.564" stop-color="#0a0a0a" stop-opacity="0.79"/><stop offset="0.571" stop-color="#0a0a0a" stop-opacity="1.00"/><stop offset="0.579" stop-color="#0a0a0a" stop-opacity="1.00"/><stop offset="0.586" stop-color="#0a0a0a" stop-opacity="1.00"/><stop offset="0.593" stop-color="#0a0a0a" stop-opacity="1.00"/><stop offset="0.600" stop-color="#0a0a0a" stop-opacity="1.00"/><stop offset="0.607" stop-color="#0a0a0a" stop-opacity="1.00"/><stop offset="0.614" stop-color="#0a0a0a" stop-opacity="1.00"/><stop offset="0.621" stop-color="#0a0a0a" stop-opacity="1.00"/><stop offset="0.629" stop-color="#0a0a0a" stop-opacity="1.00"/><stop offset="0.636" stop-color="#0a0a0a" stop-opacity="1.00"/><stop offset="0.643" stop-color="#0a0a0a" stop-opacity="1.00"/><stop offset="0.650" stop-color="#0a0a0a" stop-opacity="1.00"/><stop offset="0.657" stop-color="#0a0a0a" stop-opacity="1.00"/><stop offset="0.664" stop-color="#0a0a0a" stop-opacity="0.81"/><stop offset="0.671" stop-color="#0a0a0a" stop-opacity="0.71"/><stop offset="0.679" stop-color="#0a0a0a" stop-opacity="0.93"/><stop offset="0.686" stop-color="#0a0a0a" stop-opacity="1.00"/><stop offset="0.693" stop-color="#0a0a0a" stop-opacity="1.00"/><stop offset="0.700" stop-color="#0a0a0a" stop-opacity="1.00"/><stop offset="0.707" stop-color="#0a0a0a" stop-opacity="1.00"/><stop offset="0.714" stop-color="#0a0a0a" stop-opacity="1.00"/><stop offset="0.721" stop-color="#0a0a0a" stop-opacity="1.00"/><stop offset="0.729" stop-color="#0a0a0a" stop-opacity="1.00"/><stop offset="0.736" stop-color="#0a0a0a" stop-opacity="1.00"/><stop offset="0.743" stop-color="#0a0a0a" stop-opacity="1.00"/><stop offset="0.750" stop-color="#0a0a0a" stop-opacity="1.00"/><stop offset="0.757" stop-color="#0a0a0a" stop-opacity="1.00"/><stop offset="0.764" stop-color="#0a0a0a" stop-opacity="1.00"/><stop offset="0.771" stop-color="#0a0a0a" stop-opacity="1.00"/><stop offset="0.779" stop-color="#0a0a0a" stop-opacity="0.78"/><stop offset="0.786" stop-color="#0a0a0a" stop-opacity="0.59"/><stop offset="0.793" stop-color="#0a0a0a" stop-opacity="0.77"/><stop offset="0.800" stop-color="#0a0a0a" stop-opacity="0.80"/><stop offset="0.807" stop-color="#0a0a0a" stop-opacity="0.80"/><stop offset="0.814" stop-color="#0a0a0a" stop-opacity="0.80"/><stop offset="0.821" stop-color="#0a0a0a" stop-opacity="0.80"/><stop offset="0.829" stop-color="#0a0a0a" stop-opacity="0.80"/><stop offset="0.836" stop-color="#0a0a0a" stop-opacity="0.80"/><stop offset="0.843" stop-color="#0a0a0a" stop-opacity="0.80"/><stop offset="0.850" stop-color="#0a0a0a" stop-opacity="0.80"/><stop offset="0.857" stop-color="#0a0a0a" stop-opacity="0.80"/><stop offset="0.864" stop-color="#0a0a0a" stop-opacity="0.80"/><stop offset="0.871" stop-color="#0a0a0a" stop-opacity="0.80"/><stop offset="0.879" stop-color="#0a0a0a" stop-opacity="0.80"/><stop offset="0.886" stop-color="#0a0a0a" stop-opacity="0.79"/><stop offset="0.893" stop-color="#0a0a0a" stop-opacity="0.62"/><stop offset="0.900" stop-color="#0a0a0a" stop-opacity="0.71"/><stop offset="0.907" stop-color="#0a0a0a" stop-opacity="0.92"/><stop offset="0.914" stop-color="#0a0a0a" stop-opacity="0.95"/><stop offset="0.921" stop-color="#0a0a0a" stop-opacity="0.95"/><stop offset="0.929" stop-color="#0a0a0a" stop-opacity="0.95"/><stop offset="0.936" stop-color="#0a0a0a" stop-opacity="0.95"/><stop offset="0.943" stop-color="#0a0a0a" stop-opacity="0.95"/><stop offset="0.950" stop-color="#0a0a0a" stop-opacity="0.95"/><stop offset="0.957" stop-color="#0a0a0a" stop-opacity="0.95"/><stop offset="0.964" stop-color="#0a0a0a" stop-opacity="0.95"/><stop offset="0.971" stop-color="#0a0a0a" stop-opacity="0.95"/><stop offset="0.979" stop-color="#0a0a0a" stop-opacity="0.95"/><stop offset="0.986" stop-color="#0a0a0a" stop-opacity="0.95"/><stop offset="0.993" stop-color="#0a0a0a" stop-opacity="0.95"/><stop offset="1.000" stop-color="#0a0a0a" stop-opacity="0.95"/></linearGradient>
<path d="M65.50,611.31 L68.99,611.24 L72.47,611.18 L75.96,611.11 L79.45,611.05 L82.94,610.98 L86.42,610.92 L89.91,610.85 L93.40,610.79 L96.89,610.72 L100.38,610.66 L103.86,610.59 L107.35,610.53 L110.84,610.46 L114.33,610.40 L117.81,610.33 L121.30,610.27 L124.79,610.20 L128.28,610.14 L131.76,610.07 L135.25,610.00 L138.74,609.94 L142.22,609.87 L145.71,609.81 L149.20,609.74 L152.69,609.68 L156.18,609.61 L159.66,609.55 L163.15,609.48 L166.64,609.42 L170.12,609.35 L173.61,609.29 L177.10,609.22 L180.59,609.16 L184.07,609.09 L187.56,609.03 L191.05,608.96 L194.54,608.90 L198.03,608.83 L201.51,608.77 L205.00,608.70 L205.00,613.70 L201.51,613.77 L198.03,613.83 L194.54,613.90 L191.05,613.96 L187.56,614.03 L184.07,614.09 L180.59,614.16 L177.10,614.22 L173.61,614.29 L170.12,614.35 L166.64,614.42 L163.15,614.48 L159.66,614.55 L156.18,614.61 L152.69,614.68 L149.20,614.74 L145.71,614.81 L142.22,614.87 L138.74,614.94 L135.25,615.00 L131.76,615.07 L128.28,615.14 L124.79,615.20 L121.30,615.27 L117.81,615.33 L114.33,615.40 L110.84,615.46 L107.35,615.53 L103.86,615.59 L100.38,615.66 L96.89,615.72 L93.40,615.79 L89.91,615.85 L86.42,615.92 L82.94,615.98 L79.45,616.05 L75.96,616.11 L72.47,616.18 L68.99,616.24 L65.50,616.31 Z" fill="url(#lg1)"/>
<linearGradient id="lg2" gradientUnits="userSpaceOnUse" x1="65.50" y1="0" x2="205.00" y2="0"><stop offset="0.000" stop-color="#0a0a0a" stop-opacity="0.35"/><stop offset="0.007" stop-color="#0a0a0a" stop-opacity="0.35"/><stop offset="0.014" stop-color="#0a0a0a" stop-opacity="0.35"/><stop offset="0.021" stop-color="#0a0a0a" stop-opacity="0.35"/><stop offset="0.029" stop-color="#0a0a0a" stop-opacity="0.35"/><stop offset="0.036" stop-color="#0a0a0a" stop-opacity="0.35"/><stop offset="0.043" stop-color="#0a0a0a" stop-opacity="0.35"/><stop offset="0.050" stop-color="#0a0a0a" stop-opacity="0.35"/><stop offset="0.057" stop-color="#0a0a0a" stop-opacity="0.35"/><stop offset="0.064" stop-color="#0a0a0a" stop-opacity="0.35"/><stop offset="0.071" stop-color="#0a0a0a" stop-opacity="0.35"/><stop offset="0.079" stop-color="#0a0a0a" stop-opacity="0.35"/><stop offset="0.086" stop-color="#0a0a0a" stop-opacity="0.35"/><stop offset="0.093" stop-color="#0a0a0a" stop-opacity="0.35"/><stop offset="0.100" stop-color="#0a0a0a" stop-opacity="0.35"/><stop offset="0.107" stop-color="#0a0a0a" stop-opacity="0.30"/><stop offset="0.114" stop-color="#0a0a0a" stop-opacity="0.20"/><stop offset="0.121" stop-color="#0a0a0a" stop-opacity="0.26"/><stop offset="0.129" stop-color="#0a0a0a" stop-opacity="0.30"/><stop offset="0.136" stop-color="#0a0a0a" stop-opacity="0.30"/><stop offset="0.143" stop-color="#0a0a0a" stop-opacity="0.30"/><stop offset="0.150" stop-color="#0a0a0a" stop-opacity="0.30"/><stop offset="0.157" stop-color="#0a0a0a" stop-opacity="0.30"/><stop offset="0.164" stop-color="#0a0a0a" stop-opacity="0.30"/><stop offset="0.171" stop-color="#0a0a0a" stop-opacity="0.30"/><stop offset="0.179" stop-color="#0a0a0a" stop-opacity="0.30"/><stop offset="0.186" stop-color="#0a0a0a" stop-opacity="0.30"/><stop offset="0.193" stop-color="#0a0a0a" stop-opacity="0.30"/><stop offset="0.200" stop-color="#0a0a0a" stop-opacity="0.30"/><stop offset="0.207" stop-color="#0a0a0a" stop-opacity="0.30"/><stop offset="0.214" stop-color="#0a0a0a" stop-opacity="0.30"/><stop offset="0.221" stop-color="#0a0a0a" stop-opacity="0.27"/><stop offset="0.229" stop-color="#0a0a0a" stop-opacity="0.20"/><stop offset="0.236" stop-color="#0a0a0a" stop-opacity="0.38"/><stop offset="0.243" stop-color="#0a0a0a" stop-opacity="0.45"/><stop offset="0.250" stop-color="#0a0a0a" stop-opacity="0.45"/><stop offset="0.257" stop-color="#0a0a0a" stop-opacity="0.45"/><stop offset="0.264" stop-color="#0a0a0a" stop-opacity="0.45"/><stop offset="0.271" stop-color="#0a0a0a" stop-opacity="0.45"/><stop offset="0.279" stop-color="#0a0a0a" stop-opacity="0.45"/><stop offset="0.286" stop-color="#0a0a0a" stop-opacity="0.45"/><stop offset="0.293" stop-color="#0a0a0a" stop-opacity="0.45"/><stop offset="0.300" stop-color="#0a0a0a" stop-opacity="0.45"/><stop offset="0.307" stop-color="#0a0a0a" stop-opacity="0.45"/><stop offset="0.314" stop-color="#0a0a0a" stop-opacity="0.45"/><stop offset="0.321" stop-color="#0a0a0a" stop-opacity="0.45"/><stop offset="0.329" stop-color="#0a0a0a" stop-opacity="0.45"/><stop offset="0.336" stop-color="#0a0a0a" stop-opacity="0.35"/><stop offset="0.343" stop-color="#0a0a0a" stop-opacity="0.29"/><stop offset="0.350" stop-color="#0a0a0a" stop-opacity="0.38"/><stop offset="0.357" stop-color="#0a0a0a" stop-opacity="0.40"/><stop offset="0.364" stop-color="#0a0a0a" stop-opacity="0.40"/><stop offset="0.371" stop-color="#0a0a0a" stop-opacity="0.40"/><stop offset="0.379" stop-color="#0a0a0a" stop-opacity="0.40"/><stop offset="0.386" stop-color="#0a0a0a" stop-opacity="0.40"/><stop offset="0.393" stop-color="#0a0a0a" stop-opacity="0.40"/><stop offset="0.400" stop-color="#0a0a0a" stop-opacity="0.40"/><stop offset="0.407" stop-color="#0a0a0a" stop-opacity="0.40"/><stop offset="0.414" stop-color="#0a0a0a" stop-opacity="0.40"/><stop offset="0.421" stop-color="#0a0a0a" stop-opacity="0.40"/><stop offset="0.429" stop-color="#0a0a0a" stop-opacity="0.40"/><stop offset="0.436" stop-color="#0a0a0a" stop-opacity="0.40"/><stop offset="0.443" stop-color="#0a0a0a" stop-opacity="0.35"/><stop offset="0.450" stop-color="#0a0a0a" stop-opacity="0.27"/><stop offset="0.457" stop-color="#0a0a0a" stop-opacity="0.26"/><stop offset="0.464" stop-color="#0a0a0a" stop-opacity="0.30"/><stop offset="0.471" stop-color="#0a0a0a" stop-opacity="0.30"/><stop offset="0.479" stop-color="#0a0a0a" stop-opacity="0.30"/><stop offset="0.486" stop-color="#0a0a0a" stop-opacity="0.30"/><stop offset="0.493" stop-color="#0a0a0a" stop-opacity="0.30"/><stop offset="0.500" stop-color="#0a0a0a" stop-opacity="0.30"/><stop offset="0.507" stop-color="#0a0a0a" stop-opacity="0.30"/><stop offset="0.514" stop-color="#0a0a0a" stop-opacity="0.30"/><stop offset="0.521" stop-color="#0a0a0a" stop-opacity="0.30"/><stop offset="0.529" stop-color="#0a0a0a" stop-opacity="0.30"/><stop offset="0.536" stop-color="#0a0a0a" stop-opacity="0.30"/><stop offset="0.543" stop-color="#0a0a0a" stop-opacity="0.30"/><stop offset="0.550" stop-color="#0a0a0a" stop-opacity="0.29"/><stop offset="0.557" stop-color="#0a0a0a" stop-opacity="0.22"/><stop offset="0.564" stop-color="#0a0a0a" stop-opacity="0.27"/><stop offset="0.571" stop-color="#0a0a0a" stop-opacity="0.35"/><stop offset="0.579" stop-color="#0a0a0a" stop-opacity="0.35"/><stop offset="0.586" stop-color="#0a0a0a" stop-opacity="0.35"/><stop offset="0.593" stop-color="#0a0a0a" stop-opacity="0.35"/><stop offset="0.600" stop-color="#0a0a0a" stop-opacity="0.35"/><stop offset="0.607" stop-color="#0a0a0a" stop-opacity="0.35"/><stop offset="0.614" stop-color="#0a0a0a" stop-opacity="0.35"/><stop offset="0.621" stop-color="#0a0a0a" stop-opacity="0.35"/><stop offset="0.629" stop-color="#0a0a0a" stop-opacity="0.35"/><stop offset="0.636" stop-color="#0a0a0a" stop-opacity="0.35"/><stop offset="0.643" stop-color="#0a0a0a" stop-opacity="0.35"/><stop offset="0.650" stop-color="#0a0a0a" stop-opacity="0.35"/><stop offset="0.657" stop-color="#0a0a0a" stop-opacity="0.35"/><stop offset="0.664" stop-color="#0a0a0a" stop-opacity="0.28"/><stop offset="0.671" stop-color="#0a0a0a" stop-opacity="0.28"/><stop offset="0.679" stop-color="#0a0a0a" stop-opacity="0.37"/><stop offset="0.686" stop-color="#0a0a0a" stop-opacity="0.40"/><stop offset="0.693" stop-color="#0a0a0a" stop-opacity="0.40"/><stop offset="0.700" stop-color="#0a0a0a" stop-opacity="0.40"/><stop offset="0.707" stop-color="#0a0a0a" stop-opacity="0.40"/><stop offset="0.714" stop-color="#0a0a0a" stop-opacity="0.40"/><stop offset="0.721" stop-color="#0a0a0a" stop-opacity="0.40"/><stop offset="0.729" stop-color="#0a0a0a" stop-opacity="0.40"/><stop offset="0.736" stop-color="#0a0a0a" stop-opacity="0.40"/><stop offset="0.743" stop-color="#0a0a0a" stop-opacity="0.40"/><stop offset="0.750" stop-color="#0a0a0a" stop-opacity="0.40"/><stop offset="0.757" stop-color="#0a0a0a" stop-opacity="0.40"/><stop offset="0.764" stop-color="#0a0a0a" stop-opacity="0.40"/><stop offset="0.771" stop-color="#0a0a0a" stop-opacity="0.40"/><stop offset="0.779" stop-color="#0a0a0a" stop-opacity="0.31"/><stop offset="0.786" stop-color="#0a0a0a" stop-opacity="0.18"/><stop offset="0.793" stop-color="#0a0a0a" stop-opacity="0.24"/><stop offset="0.800" stop-color="#0a0a0a" stop-opacity="0.25"/><stop offset="0.807" stop-color="#0a0a0a" stop-opacity="0.25"/><stop offset="0.814" stop-color="#0a0a0a" stop-opacity="0.25"/><stop offset="0.821" stop-color="#0a0a0a" stop-opacity="0.25"/><stop offset="0.829" stop-color="#0a0a0a" stop-opacity="0.25"/><stop offset="0.836" stop-color="#0a0a0a" stop-opacity="0.25"/><stop offset="0.843" stop-color="#0a0a0a" stop-opacity="0.25"/><stop offset="0.850" stop-color="#0a0a0a" stop-opacity="0.25"/><stop offset="0.857" stop-color="#0a0a0a" stop-opacity="0.25"/><stop offset="0.864" stop-color="#0a0a0a" stop-opacity="0.25"/><stop offset="0.871" stop-color="#0a0a0a" stop-opacity="0.25"/><stop offset="0.879" stop-color="#0a0a0a" stop-opacity="0.25"/><stop offset="0.886" stop-color="#0a0a0a" stop-opacity="0.25"/><stop offset="0.893" stop-color="#0a0a0a" stop-opacity="0.19"/><stop offset="0.900" stop-color="#0a0a0a" stop-opacity="0.22"/><stop offset="0.907" stop-color="#0a0a0a" stop-opacity="0.29"/><stop offset="0.914" stop-color="#0a0a0a" stop-opacity="0.30"/><stop offset="0.921" stop-color="#0a0a0a" stop-opacity="0.30"/><stop offset="0.929" stop-color="#0a0a0a" stop-opacity="0.30"/><stop offset="0.936" stop-color="#0a0a0a" stop-opacity="0.30"/><stop offset="0.943" stop-color="#0a0a0a" stop-opacity="0.30"/><stop offset="0.950" stop-color="#0a0a0a" stop-opacity="0.30"/><stop offset="0.957" stop-color="#0a0a0a" stop-opacity="0.30"/><stop offset="0.964" stop-color="#0a0a0a" stop-opacity="0.30"/><stop offset="0.971" stop-color="#0a0a0a" stop-opacity="0.30"/><stop offset="0.979" stop-color="#0a0a0a" stop-opacity="0.30"/><stop offset="0.986" stop-color="#0a0a0a" stop-opacity="0.30"/><stop offset="0.993" stop-color="#0a0a0a" stop-opacity="0.30"/><stop offset="1.000" stop-color="#0a0a0a" stop-opacity="0.30"/></linearGradient>
<path d="M65.50,618.11 L68.99,618.07 L72.47,618.03 L75.96,617.99 L79.45,617.95 L82.94,617.91 L86.42,617.86 L89.91,617.82 L93.40,617.78 L96.89,617.74 L100.38,617.70 L103.86,617.66 L107.35,617.62 L110.84,617.58 L114.33,617.54 L117.81,617.50 L121.30,617.46 L124.79,617.42 L128.28,617.38 L131.76,617.34 L135.25,617.30 L138.74,617.26 L142.22,617.22 L145.71,617.18 L149.20,617.14 L152.69,617.10 L156.18,617.06 L159.66,617.02 L163.15,616.98 L166.64,616.94 L170.12,616.90 L173.61,616.86 L177.10,616.82 L180.59,616.78 L184.07,616.74 L187.56,616.70 L191.05,616.66 L194.54,616.62 L198.03,616.58 L201.51,616.54 L205.00,616.50 L205.00,619.90 L201.51,619.94 L198.03,619.98 L194.54,620.02 L191.05,620.06 L187.56,620.10 L184.07,620.14 L180.59,620.18 L177.10,620.22 L173.61,620.26 L170.12,620.30 L166.64,620.34 L163.15,620.38 L159.66,620.42 L156.18,620.46 L152.69,620.50 L149.20,620.54 L145.71,620.58 L142.22,620.62 L138.74,620.66 L135.25,620.70 L131.76,620.74 L128.28,620.78 L124.79,620.82 L121.30,620.86 L117.81,620.90 L114.33,620.94 L110.84,620.98 L107.35,621.02 L103.86,621.06 L100.38,621.10 L96.89,621.14 L93.40,621.18 L89.91,621.22 L86.42,621.26 L82.94,621.31 L79.45,621.35 L75.96,621.39 L72.47,621.43 L68.99,621.47 L65.50,621.51 Z" fill="url(#lg2)"/>
<ellipse cx="73.20" cy="611.00" rx="7.50" ry="5.00" fill="#555" fill-opacity="0.08"/>
<ellipse cx="89.60" cy="611.00" rx="7.50" ry="5.00" fill="#555" fill-opacity="0.08"/>
<ellipse cx="105.40" cy="611.00" rx="7.50" ry="5.00" fill="#555" fill-opacity="0.08"/>
<ellipse cx="120.50" cy="611.00" rx="7.50" ry="5.00" fill="#555" fill-opacity="0.08"/>
<ellipse cx="136.20" cy="611.00" rx="7.50" ry="5.00" fill="#555" fill-opacity="0.08"/>
<ellipse cx="151.00" cy="611.00" rx="7.50" ry="5.00" fill="#555" fill-opacity="0.08"/>
<ellipse cx="166.80" cy="611.00" rx="7.50" ry="5.00" fill="#555" fill-opacity="0.08"/>
<ellipse cx="182.60" cy="611.00" rx="7.50" ry="5.00" fill="#555" fill-opacity="0.08"/>
<ellipse cx="198.60" cy="611.00" rx="7.50" ry="5.00" fill="#555" fill-opacity="0.08"/>
<ellipse cx="71.50" cy="607.50" rx="6.00" ry="3.50" fill="#555" fill-opacity="0.60"/>
<ellipse cx="120.50" cy="615.00" rx="7.50" ry="5.00" fill="#555" fill-opacity="0.50"/>
<ellipse cx="151.00" cy="614.00" rx="7.50" ry="5.00" fill="#555" fill-opacity="0.45"/>
<ellipse cx="166.80" cy="613.00" rx="7.50" ry="5.00" fill="#555" fill-opacity="0.50"/>
<ellipse cx="105.40" cy="620.00" rx="7.00" ry="3.00" fill="#555" fill-opacity="0.25"/>
<ellipse cx="89.60" cy="621.00" rx="7.00" ry="2.50" fill="#555" fill-opacity="0.15"/>
<linearGradient id="lg3" gradientUnits="userSpaceOnUse" x1="214.00" y1="0" x2="352.00" y2="0"><stop offset="0.000" stop-color="#0a0a0a" stop-opacity="1.00"/><stop offset="0.007" stop-color="#0a0a0a" stop-opacity="1.00"/><stop offset="0.014" stop-color="#0a0a0a" stop-opacity="1.00"/><stop offset="0.021" stop-color="#0a0a0a" stop-opacity="1.00"/><stop offset="0.029" stop-color="#0a0a0a" stop-opacity="1.00"/><stop offset="0.036" stop-color="#0a0a0a" stop-opacity="1.00"/><stop offset="0.043" stop-color="#0a0a0a" stop-opacity="1.00"/><stop offset="0.050" stop-color="#0a0a0a" stop-opacity="1.00"/><stop offset="0.057" stop-color="#0a0a0a" stop-opacity="1.00"/><stop offset="0.064" stop-color="#0a0a0a" stop-opacity="1.00"/><stop offset="0.071" stop-color="#0a0a0a" stop-opacity="0.97"/><stop offset="0.079" stop-color="#0a0a0a" stop-opacity="0.75"/><stop offset="0.086" stop-color="#0a0a0a" stop-opacity="0.77"/><stop offset="0.093" stop-color="#0a0a0a" stop-opacity="0.98"/><stop offset="0.100" stop-color="#0a0a0a" stop-opacity="1.00"/><stop offset="0.107" stop-color="#0a0a0a" stop-opacity="1.00"/><stop offset="0.114" stop-color="#0a0a0a" stop-opacity="1.00"/><stop offset="0.121" stop-color="#0a0a0a" stop-opacity="1.00"/><stop offset="0.129" stop-color="#0a0a0a" stop-opacity="1.00"/><stop offset="0.136" stop-color="#0a0a0a" stop-opacity="1.00"/><stop offset="0.143" stop-color="#0a0a0a" stop-opacity="1.00"/><stop offset="0.150" stop-color="#0a0a0a" stop-opacity="1.00"/><stop offset="0.157" stop-color="#0a0a0a" stop-opacity="1.00"/><stop offset="0.164" stop-color="#0a0a0a" stop-opacity="1.00"/><stop offset="0.171" stop-color="#0a0a0a" stop-opacity="0.98"/><stop offset="0.179" stop-color="#0a0a0a" stop-opacity="0.76"/><stop offset="0.186" stop-color="#0a0a0a" stop-opacity="0.75"/><stop offset="0.193" stop-color="#0a0a0a" stop-opacity="0.97"/><stop offset="0.200" stop-color="#0a0a0a" stop-opacity="1.00"/><stop offset="0.207" stop-color="#0a0a0a" stop-opacity="1.00"/><stop offset="0.214" stop-color="#0a0a0a" stop-opacity="1.00"/><stop offset="0.221" stop-color="#0a0a0a" stop-opacity="1.00"/><stop offset="0.229" stop-color="#0a0a0a" stop-opacity="1.00"/><stop offset="0.236" stop-color="#0a0a0a" stop-opacity="1.00"/><stop offset="0.243" stop-color="#0a0a0a" stop-opacity="1.00"/><stop offset="0.250" stop-color="#0a0a0a" stop-opacity="1.00"/><stop offset="0.257" stop-color="#0a0a0a" stop-opacity="1.00"/><stop offset="0.264" stop-color="#0a0a0a" stop-opacity="1.00"/><stop offset="0.271" stop-color="#0a0a0a" stop-opacity="0.82"/><stop offset="0.279" stop-color="#0a0a0a" stop-opacity="0.69"/><stop offset="0.286" stop-color="#0a0a0a" stop-opacity="0.91"/><stop offset="0.293" stop-color="#0a0a0a" stop-opacity="1.00"/><stop offset="0.300" stop-color="#0a0a0a" stop-opacity="1.00"/><stop offset="0.307" stop-color="#0a0a0a" stop-opacity="1.00"/><stop offset="0.314" stop-color="#0a0a0a" stop-opacity="1.00"/><stop offset="0.321" stop-color="#0a0a0a" stop-opacity="1.00"/><stop offset="0.329" stop-color="#0a0a0a" stop-opacity="1.00"/><stop offset="0.336" stop-color="#0a0a0a" stop-opacity="1.00"/><stop offset="0.343" stop-color="#0a0a0a" stop-opacity="1.00"/><stop offset="0.350" stop-color="#0a0a0a" stop-opacity="1.00"/><stop offset="0.357" stop-color="#0a0a0a" stop-opacity="1.00"/><stop offset="0.364" stop-color="#0a0a0a" stop-opacity="1.00"/><stop offset="0.371" stop-color="#0a0a0a" stop-opacity="0.83"/><stop offset="0.379" stop-color="#0a0a0a" stop-opacity="0.68"/><stop offset="0.386" stop-color="#0a0a0a" stop-opacity="0.90"/><stop offset="0.393" stop-color="#0a0a0a" stop-opacity="1.00"/><stop offset="0.400" stop-color="#0a0a0a" stop-opacity="1.00"/><stop offset="0.407" stop-color="#0a0a0a" stop-opacity="1.00"/><stop offset="0.414" stop-color="#0a0a0a" stop-opacity="1.00"/><stop offset="0.421" stop-color="#0a0a0a" stop-opacity="1.00"/><stop offset="0.429" stop-color="#0a0a0a" stop-opacity="1.00"/><stop offset="0.436" stop-color="#0a0a0a" stop-opacity="1.00"/><stop offset="0.443" stop-color="#0a0a0a" stop-opacity="1.00"/><stop offset="0.450" stop-color="#0a0a0a" stop-opacity="1.00"/><stop offset="0.457" stop-color="#0a0a0a" stop-opacity="1.00"/><stop offset="0.464" stop-color="#0a0a0a" stop-opacity="1.00"/><stop offset="0.471" stop-color="#0a0a0a" stop-opacity="0.85"/><stop offset="0.479" stop-color="#0a0a0a" stop-opacity="0.67"/><stop offset="0.486" stop-color="#0a0a0a" stop-opacity="0.89"/><stop offset="0.493" stop-color="#0a0a0a" stop-opacity="1.00"/><stop offset="0.500" stop-color="#0a0a0a" stop-opacity="1.00"/><stop offset="0.507" stop-color="#0a0a0a" stop-opacity="1.00"/><stop offset="0.514" stop-color="#0a0a0a" stop-opacity="1.00"/><stop offset="0.521" stop-color="#0a0a0a" stop-opacity="1.00"/><stop offset="0.529" stop-color="#0a0a0a" stop-opacity="1.00"/><stop offset="0.536" stop-color="#0a0a0a" stop-opacity="1.00"/><stop offset="0.543" stop-color="#0a0a0a" stop-opacity="1.00"/><stop offset="0.550" stop-color="#0a0a0a" stop-opacity="1.00"/><stop offset="0.557" stop-color="#0a0a0a" stop-opacity="1.00"/><stop offset="0.564" stop-color="#0a0a0a" stop-opacity="0.90"/><stop offset="0.571" stop-color="#0a0a0a" stop-opacity="0.68"/><stop offset="0.579" stop-color="#0a0a0a" stop-opacity="0.83"/><stop offset="0.586" stop-color="#0a0a0a" stop-opacity="1.00"/><stop offset="0.593" stop-color="#0a0a0a" stop-opacity="1.00"/><stop offset="0.600" stop-color="#0a0a0a" stop-opacity="1.00"/><stop offset="0.607" stop-color="#0a0a0a" stop-opacity="1.00"/><stop offset="0.614" stop-color="#0a0a0a" stop-opacity="1.00"/><stop offset="0.621" stop-color="#0a0a0a" stop-opacity="1.00"/><stop offset="0.629" stop-color="#0a0a0a" stop-opacity="1.00"/><stop offset="0.636" stop-color="#0a0a0a" stop-opacity="1.00"/><stop offset="0.643" stop-color="#0a0a0a" stop-opacity="1.00"/><stop offset="0.650" stop-color="#0a0a0a" stop-opacity="1.00"/><stop offset="0.657" stop-color="#0a0a0a" stop-opacity="0.95"/><stop offset="0.664" stop-color="#0a0a0a" stop-opacity="0.73"/><stop offset="0.671" stop-color="#0a0a0a" stop-opacity="0.43"/><stop offset="0.679" stop-color="#0a0a0a" stop-opacity="0.55"/><stop offset="0.686" stop-color="#0a0a0a" stop-opacity="0.55"/><stop offset="0.693" stop-color="#0a0a0a" stop-opacity="0.55"/><stop offset="0.700" stop-color="#0a0a0a" stop-opacity="0.55"/><stop offset="0.707" stop-color="#0a0a0a" stop-opacity="0.55"/><stop offset="0.714" stop-color="#0a0a0a" stop-opacity="0.55"/><stop offset="0.721" stop-color="#0a0a0a" stop-opacity="0.55"/><stop offset="0.729" stop-color="#0a0a0a" stop-opacity="0.55"/><stop offset="0.736" stop-color="#0a0a0a" stop-opacity="0.55"/><stop offset="0.743" stop-color="#0a0a0a" stop-opacity="0.55"/><stop offset="0.750" stop-color="#0a0a0a" stop-opacity="0.55"/><stop offset="0.757" stop-color="#0a0a0a" stop-opacity="0.53"/><stop offset="0.764" stop-color="#0a0a0a" stop-opacity="0.41"/><stop offset="0.771" stop-color="#0a0a0a" stop-opacity="0.69"/><stop offset="0.779" stop-color="#0a0a0a" stop-opacity="0.89"/><stop offset="0.786" stop-color="#0a0a0a" stop-opacity="0.90"/><stop offset="0.793" stop-color="#0a0a0a" stop-opacity="0.90"/><stop offset="0.800" stop-color="#0a0a0a" stop-opacity="0.90"/><stop offset="0.807" stop-color="#0a0a0a" stop-opacity="0.90"/><stop offset="0.814" stop-color="#0a0a0a" stop-opacity="0.90"/><stop offset="0.821" stop-color="#0a0a0a" stop-opacity="0.90"/><stop offset="0.829" stop-color="#0a0a0a" stop-opacity="0.90"/><stop offset="0.836" stop-color="#0a0a0a" stop-opacity="0.90"/><stop offset="0.843" stop-color="#0a0a0a" stop-opacity="0.90"/><stop offset="0.850" stop-color="#0a0a0a" stop-opacity="0.90"/><stop offset="0.857" stop-color="#0a0a0a" stop-opacity="0.90"/><stop offset="0.864" stop-color="#0a0a0a" stop-opacity="0.82"/><stop offset="0.871" stop-color="#0a0a0a" stop-opacity="0.62"/><stop offset="0.879" stop-color="#0a0a0a" stop-opacity="0.66"/><stop offset="0.886" stop-color="#0a0a0a" stop-opacity="0.80"/><stop offset="0.893" stop-color="#0a0a0a" stop-opacity="0.80"/><stop offset="0.900" stop-color="#0a0a0a" stop-opacity="0.80"/><stop offset="0.907" stop-color="#0a0a0a" stop-opacity="0.80"/><stop offset="0.914" stop-color="#0a0a0a" stop-opacity="0.80"/><stop offset="0.921" stop-color="#0a0a0a" stop-opacity="0.80"/><stop offset="0.929" stop-color="#0a0a0a" stop-opacity="0.80"/><stop offset="0.936" stop-color="#0a0a0a" stop-opacity="0.80"/><stop offset="0.943" stop-color="#0a0a0a" stop-opacity="0.80"/><stop offset="0.950" stop-color="#0a0a0a" stop-opacity="0.80"/><stop offset="0.957" stop-color="#0a0a0a" stop-opacity="0.80"/><stop offset="0.964" stop-color="#0a0a0a" stop-opacity="0.80"/><stop offset="0.971" stop-color="#0a0a0a" stop-opacity="0.80"/><stop offset="0.979" stop-color="#0a0a0a" stop-opacity="0.80"/><stop offset="0.986" stop-color="#0a0a0a" stop-opacity="0.80"/><stop offset="0.993" stop-color="#0a0a0a" stop-opacity="0.80"/><stop offset="1.000" stop-color="#0a0a0a" stop-opacity="0.80"/></linearGradient>
<path d="M214.00,611.40 L217.45,611.40 L220.90,611.40 L224.35,611.40 L227.80,611.40 L231.25,611.40 L234.70,611.40 L238.15,611.40 L241.60,611.40 L245.05,611.40 L248.50,611.40 L251.95,611.40 L255.40,611.40 L258.85,611.40 L262.30,611.40 L265.75,611.40 L269.20,611.40 L272.65,611.40 L276.10,611.40 L279.55,611.40 L283.00,611.40 L286.45,611.40 L289.90,611.40 L293.35,611.40 L296.80,611.40 L300.25,611.40 L303.70,611.40 L307.15,611.40 L310.60,611.40 L314.05,611.40 L317.50,611.40 L320.95,610.90 L324.40,610.31 L327.85,609.73 L331.30,609.14 L334.75,608.55 L338.20,607.97 L341.65,607.38 L345.10,606.79 L348.55,606.21 L352.00,605.62 L352.00,610.42 L348.55,611.01 L345.10,611.59 L341.65,612.18 L338.20,612.77 L334.75,613.35 L331.30,613.94 L327.85,614.53 L324.40,615.11 L320.95,615.70 L317.50,616.20 L314.05,616.20 L310.60,616.20 L307.15,616.20 L303.70,616.20 L300.25,616.20 L296.80,616.20 L293.35,616.20 L289.90,616.20 L286.45,616.20 L283.00,616.20 L279.55,616.20 L276.10,616.20 L272.65,616.20 L269.20,616.20 L265.75,616.20 L262.30,616.20 L258.85,616.20 L255.40,616.20 L251.95,616.20 L248.50,616.20 L245.05,616.20 L241.60,616.20 L238.15,616.20 L234.70,616.20 L231.25,616.20 L227.80,616.20 L224.35,616.20 L220.90,616.20 L217.45,616.20 L214.00,616.20 Z" fill="url(#lg3)"/>
<linearGradient id="lg4" gradientUnits="userSpaceOnUse" x1="214.00" y1="0" x2="352.00" y2="0"><stop offset="0.000" stop-color="#0a0a0a" stop-opacity="0.90"/><stop offset="0.007" stop-color="#0a0a0a" stop-opacity="0.90"/><stop offset="0.014" stop-color="#0a0a0a" stop-opacity="0.90"/><stop offset="0.021" stop-color="#0a0a0a" stop-opacity="0.90"/><stop offset="0.029" stop-color="#0a0a0a" stop-opacity="0.90"/><stop offset="0.036" stop-color="#0a0a0a" stop-opacity="0.90"/><stop offset="0.043" stop-color="#0a0a0a" stop-opacity="0.90"/><stop offset="0.050" stop-color="#0a0a0a" stop-opacity="0.90"/><stop offset="0.057" stop-color="#0a0a0a" stop-opacity="0.90"/><stop offset="0.064" stop-color="#0a0a0a" stop-opacity="0.90"/><stop offset="0.071" stop-color="#0a0a0a" stop-opacity="0.87"/><stop offset="0.079" stop-color="#0a0a0a" stop-opacity="0.67"/><stop offset="0.086" stop-color="#0a0a0a" stop-opacity="0.54"/><stop offset="0.093" stop-color="#0a0a0a" stop-opacity="0.69"/><stop offset="0.100" stop-color="#0a0a0a" stop-opacity="0.70"/><stop offset="0.107" stop-color="#0a0a0a" stop-opacity="0.70"/><stop offset="0.114" stop-color="#0a0a0a" stop-opacity="0.70"/><stop offset="0.121" stop-color="#0a0a0a" stop-opacity="0.70"/><stop offset="0.129" stop-color="#0a0a0a" stop-opacity="0.70"/><stop offset="0.136" stop-color="#0a0a0a" stop-opacity="0.70"/><stop offset="0.143" stop-color="#0a0a0a" stop-opacity="0.70"/><stop offset="0.150" stop-color="#0a0a0a" stop-opacity="0.70"/><stop offset="0.157" stop-color="#0a0a0a" stop-opacity="0.70"/><stop offset="0.164" stop-color="#0a0a0a" stop-opacity="0.70"/><stop offset="0.171" stop-color="#0a0a0a" stop-opacity="0.68"/><stop offset="0.179" stop-color="#0a0a0a" stop-opacity="0.53"/><stop offset="0.186" stop-color="#0a0a0a" stop-opacity="0.68"/><stop offset="0.193" stop-color="#0a0a0a" stop-opacity="0.87"/><stop offset="0.200" stop-color="#0a0a0a" stop-opacity="0.90"/><stop offset="0.207" stop-color="#0a0a0a" stop-opacity="0.90"/><stop offset="0.214" stop-color="#0a0a0a" stop-opacity="0.90"/><stop offset="0.221" stop-color="#0a0a0a" stop-opacity="0.90"/><stop offset="0.229" stop-color="#0a0a0a" stop-opacity="0.90"/><stop offset="0.236" stop-color="#0a0a0a" stop-opacity="0.90"/><stop offset="0.243" stop-color="#0a0a0a" stop-opacity="0.90"/><stop offset="0.250" stop-color="#0a0a0a" stop-opacity="0.90"/><stop offset="0.257" stop-color="#0a0a0a" stop-opacity="0.90"/><stop offset="0.264" stop-color="#0a0a0a" stop-opacity="0.90"/><stop offset="0.271" stop-color="#0a0a0a" stop-opacity="0.74"/><stop offset="0.279" stop-color="#0a0a0a" stop-opacity="0.48"/><stop offset="0.286" stop-color="#0a0a0a" stop-opacity="0.64"/><stop offset="0.293" stop-color="#0a0a0a" stop-opacity="0.70"/><stop offset="0.300" stop-color="#0a0a0a" stop-opacity="0.70"/><stop offset="0.307" stop-color="#0a0a0a" stop-opacity="0.70"/><stop offset="0.314" stop-color="#0a0a0a" stop-opacity="0.70"/><stop offset="0.321" stop-color="#0a0a0a" stop-opacity="0.70"/><stop offset="0.329" stop-color="#0a0a0a" stop-opacity="0.70"/><stop offset="0.336" stop-color="#0a0a0a" stop-opacity="0.70"/><stop offset="0.343" stop-color="#0a0a0a" stop-opacity="0.70"/><stop offset="0.350" stop-color="#0a0a0a" stop-opacity="0.70"/><stop offset="0.357" stop-color="#0a0a0a" stop-opacity="0.70"/><stop offset="0.364" stop-color="#0a0a0a" stop-opacity="0.70"/><stop offset="0.371" stop-color="#0a0a0a" stop-opacity="0.58"/><stop offset="0.379" stop-color="#0a0a0a" stop-opacity="0.48"/><stop offset="0.386" stop-color="#0a0a0a" stop-opacity="0.63"/><stop offset="0.393" stop-color="#0a0a0a" stop-opacity="0.70"/><stop offset="0.400" stop-color="#0a0a0a" stop-opacity="0.70"/><stop offset="0.407" stop-color="#0a0a0a" stop-opacity="0.70"/><stop offset="0.414" stop-color="#0a0a0a" stop-opacity="0.70"/><stop offset="0.421" stop-color="#0a0a0a" stop-opacity="0.70"/><stop offset="0.429" stop-color="#0a0a0a" stop-opacity="0.70"/><stop offset="0.436" stop-color="#0a0a0a" stop-opacity="0.70"/><stop offset="0.443" stop-color="#0a0a0a" stop-opacity="0.70"/><stop offset="0.450" stop-color="#0a0a0a" stop-opacity="0.70"/><stop offset="0.457" stop-color="#0a0a0a" stop-opacity="0.70"/><stop offset="0.464" stop-color="#0a0a0a" stop-opacity="0.70"/><stop offset="0.471" stop-color="#0a0a0a" stop-opacity="0.59"/><stop offset="0.479" stop-color="#0a0a0a" stop-opacity="0.57"/><stop offset="0.486" stop-color="#0a0a0a" stop-opacity="0.75"/><stop offset="0.493" stop-color="#0a0a0a" stop-opacity="0.85"/><stop offset="0.500" stop-color="#0a0a0a" stop-opacity="0.85"/><stop offset="0.507" stop-color="#0a0a0a" stop-opacity="0.85"/><stop offset="0.514" stop-color="#0a0a0a" stop-opacity="0.85"/><stop offset="0.521" stop-color="#0a0a0a" stop-opacity="0.85"/><stop offset="0.529" stop-color="#0a0a0a" stop-opacity="0.85"/><stop offset="0.536" stop-color="#0a0a0a" stop-opacity="0.85"/><stop offset="0.543" stop-color="#0a0a0a" stop-opacity="0.85"/><stop offset="0.550" stop-color="#0a0a0a" stop-opacity="0.85"/><stop offset="0.557" stop-color="#0a0a0a" stop-opacity="0.85"/><stop offset="0.564" stop-color="#0a0a0a" stop-opacity="0.76"/><stop offset="0.571" stop-color="#0a0a0a" stop-opacity="0.58"/><stop offset="0.579" stop-color="#0a0a0a" stop-opacity="0.71"/><stop offset="0.586" stop-color="#0a0a0a" stop-opacity="0.85"/><stop offset="0.593" stop-color="#0a0a0a" stop-opacity="0.85"/><stop offset="0.600" stop-color="#0a0a0a" stop-opacity="0.85"/><stop offset="0.607" stop-color="#0a0a0a" stop-opacity="0.85"/><stop offset="0.614" stop-color="#0a0a0a" stop-opacity="0.85"/><stop offset="0.621" stop-color="#0a0a0a" stop-opacity="0.85"/><stop offset="0.629" stop-color="#0a0a0a" stop-opacity="0.85"/><stop offset="0.636" stop-color="#0a0a0a" stop-opacity="0.85"/><stop offset="0.643" stop-color="#0a0a0a" stop-opacity="0.85"/><stop offset="0.650" stop-color="#0a0a0a" stop-opacity="0.85"/><stop offset="0.657" stop-color="#0a0a0a" stop-opacity="0.81"/><stop offset="0.664" stop-color="#0a0a0a" stop-opacity="0.62"/><stop offset="0.671" stop-color="#0a0a0a" stop-opacity="0.35"/><stop offset="0.679" stop-color="#0a0a0a" stop-opacity="0.45"/><stop offset="0.686" stop-color="#0a0a0a" stop-opacity="0.45"/><stop offset="0.693" stop-color="#0a0a0a" stop-opacity="0.45"/><stop offset="0.700" stop-color="#0a0a0a" stop-opacity="0.45"/><stop offset="0.707" stop-color="#0a0a0a" stop-opacity="0.45"/><stop offset="0.714" stop-color="#0a0a0a" stop-opacity="0.45"/><stop offset="0.721" stop-color="#0a0a0a" stop-opacity="0.45"/><stop offset="0.729" stop-color="#0a0a0a" stop-opacity="0.45"/><stop offset="0.736" stop-color="#0a0a0a" stop-opacity="0.45"/><stop offset="0.743" stop-color="#0a0a0a" stop-opacity="0.45"/><stop offset="0.750" stop-color="#0a0a0a" stop-opacity="0.45"/><stop offset="0.757" stop-color="#0a0a0a" stop-opacity="0.43"/><stop offset="0.764" stop-color="#0a0a0a" stop-opacity="0.33"/><stop offset="0.771" stop-color="#0a0a0a" stop-opacity="0.58"/><stop offset="0.779" stop-color="#0a0a0a" stop-opacity="0.74"/><stop offset="0.786" stop-color="#0a0a0a" stop-opacity="0.75"/><stop offset="0.793" stop-color="#0a0a0a" stop-opacity="0.75"/><stop offset="0.800" stop-color="#0a0a0a" stop-opacity="0.75"/><stop offset="0.807" stop-color="#0a0a0a" stop-opacity="0.75"/><stop offset="0.814" stop-color="#0a0a0a" stop-opacity="0.75"/><stop offset="0.821" stop-color="#0a0a0a" stop-opacity="0.75"/><stop offset="0.829" stop-color="#0a0a0a" stop-opacity="0.75"/><stop offset="0.836" stop-color="#0a0a0a" stop-opacity="0.75"/><stop offset="0.843" stop-color="#0a0a0a" stop-opacity="0.75"/><stop offset="0.850" stop-color="#0a0a0a" stop-opacity="0.75"/><stop offset="0.857" stop-color="#0a0a0a" stop-opacity="0.75"/><stop offset="0.864" stop-color="#0a0a0a" stop-opacity="0.68"/><stop offset="0.871" stop-color="#0a0a0a" stop-opacity="0.52"/><stop offset="0.879" stop-color="#0a0a0a" stop-opacity="0.49"/><stop offset="0.886" stop-color="#0a0a0a" stop-opacity="0.60"/><stop offset="0.893" stop-color="#0a0a0a" stop-opacity="0.60"/><stop offset="0.900" stop-color="#0a0a0a" stop-opacity="0.60"/><stop offset="0.907" stop-color="#0a0a0a" stop-opacity="0.60"/><stop offset="0.914" stop-color="#0a0a0a" stop-opacity="0.60"/><stop offset="0.921" stop-color="#0a0a0a" stop-opacity="0.60"/><stop offset="0.929" stop-color="#0a0a0a" stop-opacity="0.60"/><stop offset="0.936" stop-color="#0a0a0a" stop-opacity="0.60"/><stop offset="0.943" stop-color="#0a0a0a" stop-opacity="0.60"/><stop offset="0.950" stop-color="#0a0a0a" stop-opacity="0.60"/><stop offset="0.957" stop-color="#0a0a0a" stop-opacity="0.60"/><stop offset="0.964" stop-color="#0a0a0a" stop-opacity="0.60"/><stop offset="0.971" stop-color="#0a0a0a" stop-opacity="0.60"/><stop offset="0.979" stop-color="#0a0a0a" stop-opacity="0.60"/><stop offset="0.986" stop-color="#0a0a0a" stop-opacity="0.60"/><stop offset="0.993" stop-color="#0a0a0a" stop-opacity="0.60"/><stop offset="1.000" stop-color="#0a0a0a" stop-opacity="0.60"/></linearGradient>
<path d="M214.00,617.30 L217.45,617.30 L220.90,617.30 L224.35,617.30 L227.80,617.30 L231.25,617.30 L234.70,617.30 L238.15,617.30 L241.60,617.30 L245.05,617.30 L248.50,617.30 L251.95,617.30 L255.40,617.30 L258.85,617.30 L262.30,617.30 L265.75,617.30 L269.20,617.30 L272.65,617.30 L276.10,617.30 L279.55,617.30 L283.00,617.30 L286.45,617.30 L289.90,617.30 L293.35,617.30 L296.80,617.30 L300.25,617.30 L303.70,617.30 L307.15,617.30 L310.60,617.30 L314.05,617.30 L317.50,617.30 L320.95,617.03 L324.40,616.72 L327.85,616.41 L331.30,616.10 L334.75,615.79 L338.20,615.48 L341.65,615.17 L345.10,614.86 L348.55,614.55 L352.00,614.24 L352.00,618.04 L348.55,618.35 L345.10,618.66 L341.65,618.97 L338.20,619.28 L334.75,619.59 L331.30,619.90 L327.85,620.21 L324.40,620.52 L320.95,620.83 L317.50,621.10 L314.05,621.10 L310.60,621.10 L307.15,621.10 L303.70,621.10 L300.25,621.10 L296.80,621.10 L293.35,621.10 L289.90,621.10 L286.45,621.10 L283.00,621.10 L279.55,621.10 L276.10,621.10 L272.65,621.10 L269.20,621.10 L265.75,621.10 L262.30,621.10 L258.85,621.10 L255.40,621.10 L251.95,621.10 L248.50,621.10 L245.05,621.10 L241.60,621.10 L238.15,621.10 L234.70,621.10 L231.25,621.10 L227.80,621.10 L224.35,621.10 L220.90,621.10 L217.45,621.10 L214.00,621.10 Z" fill="url(#lg4)"/>
<ellipse cx="218.50" cy="615.50" rx="8.00" ry="6.00" fill="#555" fill-opacity="0.95"/>
<linearGradient id="lg5" gradientUnits="userSpaceOnUse" x1="359.00" y1="0" x2="497.00" y2="0"><stop offset="0.000" stop-color="#0a0a0a" stop-opacity="0.95"/><stop offset="0.007" stop-color="#0a0a0a" stop-opacity="0.95"/><stop offset="0.014" stop-color="#0a0a0a" stop-opacity="0.95"/><stop offset="0.021" stop-color="#0a0a0a" stop-opacity="0.95"/><stop offset="0.029" stop-color="#0a0a0a" stop-opacity="0.95"/><stop offset="0.036" stop-color="#0a0a0a" stop-opacity="0.95"/><stop offset="0.043" stop-color="#0a0a0a" stop-opacity="0.95"/><stop offset="0.050" stop-color="#0a0a0a" stop-opacity="0.95"/><stop offset="0.057" stop-color="#0a0a0a" stop-opacity="0.95"/><stop offset="0.064" stop-color="#0a0a0a" stop-opacity="0.95"/><stop offset="0.071" stop-color="#0a0a0a" stop-opacity="0.93"/><stop offset="0.079" stop-color="#0a0a0a" stop-opacity="0.72"/><stop offset="0.086" stop-color="#0a0a0a" stop-opacity="0.75"/><stop offset="0.093" stop-color="#0a0a0a" stop-opacity="0.97"/><stop offset="0.100" stop-color="#0a0a0a" stop-opacity="1.00"/><stop offset="0.107" stop-color="#0a0a0a" stop-opacity="1.00"/><stop offset="0.114" stop-color="#0a0a0a" stop-opacity="1.00"/><stop offset="0.121" stop-color="#0a0a0a" stop-opacity="1.00"/><stop offset="0.129" stop-color="#0a0a0a" stop-opacity="1.00"/><stop offset="0.136" stop-color="#0a0a0a" stop-opacity="1.00"/><stop offset="0.143" stop-color="#0a0a0a" stop-opacity="1.00"/><stop offset="0.150" stop-color="#0a0a0a" stop-opacity="1.00"/><stop offset="0.157" stop-color="#0a0a0a" stop-opacity="1.00"/><stop offset="0.164" stop-color="#0a0a0a" stop-opacity="1.00"/><stop offset="0.171" stop-color="#0a0a0a" stop-opacity="1.00"/><stop offset="0.179" stop-color="#0a0a0a" stop-opacity="0.83"/><stop offset="0.186" stop-color="#0a0a0a" stop-opacity="0.45"/><stop offset="0.193" stop-color="#0a0a0a" stop-opacity="0.59"/><stop offset="0.200" stop-color="#0a0a0a" stop-opacity="0.65"/><stop offset="0.207" stop-color="#0a0a0a" stop-opacity="0.65"/><stop offset="0.214" stop-color="#0a0a0a" stop-opacity="0.65"/><stop offset="0.221" stop-color="#0a0a0a" stop-opacity="0.65"/><stop offset="0.229" stop-color="#0a0a0a" stop-opacity="0.65"/><stop offset="0.236" stop-color="#0a0a0a" stop-opacity="0.65"/><stop offset="0.243" stop-color="#0a0a0a" stop-opacity="0.65"/><stop offset="0.250" stop-color="#0a0a0a" stop-opacity="0.65"/><stop offset="0.257" stop-color="#0a0a0a" stop-opacity="0.65"/><stop offset="0.264" stop-color="#0a0a0a" stop-opacity="0.65"/><stop offset="0.271" stop-color="#0a0a0a" stop-opacity="0.65"/><stop offset="0.279" stop-color="#0a0a0a" stop-opacity="0.59"/><stop offset="0.286" stop-color="#0a0a0a" stop-opacity="0.45"/><stop offset="0.293" stop-color="#0a0a0a" stop-opacity="0.50"/><stop offset="0.300" stop-color="#0a0a0a" stop-opacity="0.60"/><stop offset="0.307" stop-color="#0a0a0a" stop-opacity="0.60"/><stop offset="0.314" stop-color="#0a0a0a" stop-opacity="0.60"/><stop offset="0.321" stop-color="#0a0a0a" stop-opacity="0.60"/><stop offset="0.329" stop-color="#0a0a0a" stop-opacity="0.60"/><stop offset="0.336" stop-color="#0a0a0a" stop-opacity="0.60"/><stop offset="0.343" stop-color="#0a0a0a" stop-opacity="0.60"/><stop offset="0.350" stop-color="#0a0a0a" stop-opacity="0.60"/><stop offset="0.357" stop-color="#0a0a0a" stop-opacity="0.60"/><stop offset="0.364" stop-color="#0a0a0a" stop-opacity="0.60"/><stop offset="0.371" stop-color="#0a0a0a" stop-opacity="0.60"/><stop offset="0.379" stop-color="#0a0a0a" stop-opacity="0.60"/><stop offset="0.386" stop-color="#0a0a0a" stop-opacity="0.47"/><stop offset="0.393" stop-color="#0a0a0a" stop-opacity="0.73"/><stop offset="0.400" stop-color="#0a0a0a" stop-opacity="0.95"/><stop offset="0.407" stop-color="#0a0a0a" stop-opacity="1.00"/><stop offset="0.414" stop-color="#0a0a0a" stop-opacity="1.00"/><stop offset="0.421" stop-color="#0a0a0a" stop-opacity="1.00"/><stop offset="0.429" stop-color="#0a0a0a" stop-opacity="1.00"/><stop offset="0.436" stop-color="#0a0a0a" stop-opacity="1.00"/><stop offset="0.443" stop-color="#0a0a0a" stop-opacity="1.00"/><stop offset="0.450" stop-color="#0a0a0a" stop-opacity="1.00"/><stop offset="0.457" stop-color="#0a0a0a" stop-opacity="1.00"/><stop offset="0.464" stop-color="#0a0a0a" stop-opacity="1.00"/><stop offset="0.471" stop-color="#0a0a0a" stop-opacity="1.00"/><stop offset="0.479" stop-color="#0a0a0a" stop-opacity="0.87"/><stop offset="0.486" stop-color="#0a0a0a" stop-opacity="0.65"/><stop offset="0.493" stop-color="#0a0a0a" stop-opacity="0.86"/><stop offset="0.500" stop-color="#0a0a0a" stop-opacity="1.00"/><stop offset="0.507" stop-color="#0a0a0a" stop-opacity="1.00"/><stop offset="0.514" stop-color="#0a0a0a" stop-opacity="1.00"/><stop offset="0.521" stop-color="#0a0a0a" stop-opacity="1.00"/><stop offset="0.529" stop-color="#0a0a0a" stop-opacity="1.00"/><stop offset="0.536" stop-color="#0a0a0a" stop-opacity="1.00"/><stop offset="0.543" stop-color="#0a0a0a" stop-opacity="1.00"/><stop offset="0.550" stop-color="#0a0a0a" stop-opacity="1.00"/><stop offset="0.557" stop-color="#0a0a0a" stop-opacity="1.00"/><stop offset="0.564" stop-color="#0a0a0a" stop-opacity="1.00"/><stop offset="0.571" stop-color="#0a0a0a" stop-opacity="0.87"/><stop offset="0.579" stop-color="#0a0a0a" stop-opacity="0.65"/><stop offset="0.586" stop-color="#0a0a0a" stop-opacity="0.60"/><stop offset="0.593" stop-color="#0a0a0a" stop-opacity="0.70"/><stop offset="0.600" stop-color="#0a0a0a" stop-opacity="0.70"/><stop offset="0.607" stop-color="#0a0a0a" stop-opacity="0.70"/><stop offset="0.614" stop-color="#0a0a0a" stop-opacity="0.70"/><stop offset="0.621" stop-color="#0a0a0a" stop-opacity="0.70"/><stop offset="0.629" stop-color="#0a0a0a" stop-opacity="0.70"/><stop offset="0.636" stop-color="#0a0a0a" stop-opacity="0.70"/><stop offset="0.643" stop-color="#0a0a0a" stop-opacity="0.70"/><stop offset="0.650" stop-color="#0a0a0a" stop-opacity="0.70"/><stop offset="0.657" stop-color="#0a0a0a" stop-opacity="0.70"/><stop offset="0.664" stop-color="#0a0a0a" stop-opacity="0.58"/><stop offset="0.671" stop-color="#0a0a0a" stop-opacity="0.48"/><stop offset="0.679" stop-color="#0a0a0a" stop-opacity="0.63"/><stop offset="0.686" stop-color="#0a0a0a" stop-opacity="0.70"/><stop offset="0.693" stop-color="#0a0a0a" stop-opacity="0.70"/><stop offset="0.700" stop-color="#0a0a0a" stop-opacity="0.70"/><stop offset="0.707" stop-color="#0a0a0a" stop-opacity="0.70"/><stop offset="0.714" stop-color="#0a0a0a" stop-opacity="0.70"/><stop offset="0.721" stop-color="#0a0a0a" stop-opacity="0.70"/><stop offset="0.729" stop-color="#0a0a0a" stop-opacity="0.70"/><stop offset="0.736" stop-color="#0a0a0a" stop-opacity="0.70"/><stop offset="0.743" stop-color="#0a0a0a" stop-opacity="0.70"/><stop offset="0.750" stop-color="#0a0a0a" stop-opacity="0.70"/><stop offset="0.757" stop-color="#0a0a0a" stop-opacity="0.67"/><stop offset="0.764" stop-color="#0a0a0a" stop-opacity="0.52"/><stop offset="0.771" stop-color="#0a0a0a" stop-opacity="0.58"/><stop offset="0.779" stop-color="#0a0a0a" stop-opacity="0.74"/><stop offset="0.786" stop-color="#0a0a0a" stop-opacity="0.75"/><stop offset="0.793" stop-color="#0a0a0a" stop-opacity="0.75"/><stop offset="0.800" stop-color="#0a0a0a" stop-opacity="0.75"/><stop offset="0.807" stop-color="#0a0a0a" stop-opacity="0.75"/><stop offset="0.814" stop-color="#0a0a0a" stop-opacity="0.75"/><stop offset="0.821" stop-color="#0a0a0a" stop-opacity="0.75"/><stop offset="0.829" stop-color="#0a0a0a" stop-opacity="0.75"/><stop offset="0.836" stop-color="#0a0a0a" stop-opacity="0.75"/><stop offset="0.843" stop-color="#0a0a0a" stop-opacity="0.75"/><stop offset="0.850" stop-color="#0a0a0a" stop-opacity="0.75"/><stop offset="0.857" stop-color="#0a0a0a" stop-opacity="0.75"/><stop offset="0.864" stop-color="#0a0a0a" stop-opacity="0.73"/><stop offset="0.871" stop-color="#0a0a0a" stop-opacity="0.57"/><stop offset="0.879" stop-color="#0a0a0a" stop-opacity="0.53"/><stop offset="0.886" stop-color="#0a0a0a" stop-opacity="0.68"/><stop offset="0.893" stop-color="#0a0a0a" stop-opacity="0.70"/><stop offset="0.900" stop-color="#0a0a0a" stop-opacity="0.70"/><stop offset="0.907" stop-color="#0a0a0a" stop-opacity="0.70"/><stop offset="0.914" stop-color="#0a0a0a" stop-opacity="0.70"/><stop offset="0.921" stop-color="#0a0a0a" stop-opacity="0.70"/><stop offset="0.929" stop-color="#0a0a0a" stop-opacity="0.70"/><stop offset="0.936" stop-color="#0a0a0a" stop-opacity="0.70"/><stop offset="0.943" stop-color="#0a0a0a" stop-opacity="0.70"/><stop offset="0.950" stop-color="#0a0a0a" stop-opacity="0.70"/><stop offset="0.957" stop-color="#0a0a0a" stop-opacity="0.70"/><stop offset="0.964" stop-color="#0a0a0a" stop-opacity="0.70"/><stop offset="0.971" stop-color="#0a0a0a" stop-opacity="0.70"/><stop offset="0.979" stop-color="#0a0a0a" stop-opacity="0.70"/><stop offset="0.986" stop-color="#0a0a0a" stop-opacity="0.70"/><stop offset="0.993" stop-color="#0a0a0a" stop-opacity="0.70"/><stop offset="1.000" stop-color="#0a0a0a" stop-opacity="0.70"/></linearGradient>
<path d="M359.00,611.20 L362.45,611.20 L365.90,611.20 L369.35,611.20 L372.80,611.20 L376.25,611.20 L379.70,611.20 L383.15,611.20 L386.60,611.20 L390.05,611.20 L393.50,611.20 L396.95,611.20 L400.40,611.20 L403.85,611.20 L407.30,611.20 L410.75,611.20 L414.20,611.20 L417.65,611.20 L421.10,611.20 L424.55,611.20 L428.00,611.20 L431.45,611.20 L434.90,611.20 L438.35,611.20 L441.80,611.00 L445.25,610.62 L448.70,610.24 L452.15,609.86 L455.60,609.48 L459.05,609.10 L462.50,608.72 L465.95,608.35 L469.40,607.97 L472.85,607.59 L476.30,607.21 L479.75,606.83 L483.20,606.45 L486.65,606.07 L490.10,605.69 L493.55,605.31 L497.00,604.93 L497.00,609.33 L493.55,609.71 L490.10,610.09 L486.65,610.47 L483.20,610.85 L479.75,611.23 L476.30,611.61 L472.85,611.99 L469.40,612.37 L465.95,612.75 L462.50,613.12 L459.05,613.50 L455.60,613.88 L452.15,614.26 L448.70,614.64 L445.25,615.02 L441.80,615.40 L438.35,615.60 L434.90,615.60 L431.45,615.60 L428.00,615.60 L424.55,615.60 L421.10,615.60 L417.65,615.60 L414.20,615.60 L410.75,615.60 L407.30,615.60 L403.85,615.60 L400.40,615.60 L396.95,615.60 L393.50,615.60 L390.05,615.60 L386.60,615.60 L383.15,615.60 L379.70,615.60 L376.25,615.60 L372.80,615.60 L369.35,615.60 L365.90,615.60 L362.45,615.60 L359.00,615.60 Z" fill="url(#lg5)"/>
<linearGradient id="lg6" gradientUnits="userSpaceOnUse" x1="359.00" y1="0" x2="497.00" y2="0"><stop offset="0.000" stop-color="#0a0a0a" stop-opacity="0.85"/><stop offset="0.007" stop-color="#0a0a0a" stop-opacity="0.85"/><stop offset="0.014" stop-color="#0a0a0a" stop-opacity="0.85"/><stop offset="0.021" stop-color="#0a0a0a" stop-opacity="0.85"/><stop offset="0.029" stop-color="#0a0a0a" stop-opacity="0.85"/><stop offset="0.036" stop-color="#0a0a0a" stop-opacity="0.85"/><stop offset="0.043" stop-color="#0a0a0a" stop-opacity="0.85"/><stop offset="0.050" stop-color="#0a0a0a" stop-opacity="0.85"/><stop offset="0.057" stop-color="#0a0a0a" stop-opacity="0.85"/><stop offset="0.064" stop-color="#0a0a0a" stop-opacity="0.85"/><stop offset="0.071" stop-color="#0a0a0a" stop-opacity="0.83"/><stop offset="0.079" stop-color="#0a0a0a" stop-opacity="0.65"/><stop offset="0.086" stop-color="#0a0a0a" stop-opacity="0.68"/><stop offset="0.093" stop-color="#0a0a0a" stop-opacity="0.87"/><stop offset="0.100" stop-color="#0a0a0a" stop-opacity="0.90"/><stop offset="0.107" stop-color="#0a0a0a" stop-opacity="0.90"/><stop offset="0.114" stop-color="#0a0a0a" stop-opacity="0.90"/><stop offset="0.121" stop-color="#0a0a0a" stop-opacity="0.90"/><stop offset="0.129" stop-color="#0a0a0a" stop-opacity="0.90"/><stop offset="0.136" stop-color="#0a0a0a" stop-opacity="0.90"/><stop offset="0.143" stop-color="#0a0a0a" stop-opacity="0.90"/><stop offset="0.150" stop-color="#0a0a0a" stop-opacity="0.90"/><stop offset="0.157" stop-color="#0a0a0a" stop-opacity="0.90"/><stop offset="0.164" stop-color="#0a0a0a" stop-opacity="0.90"/><stop offset="0.171" stop-color="#0a0a0a" stop-opacity="0.90"/><stop offset="0.179" stop-color="#0a0a0a" stop-opacity="0.74"/><stop offset="0.186" stop-color="#0a0a0a" stop-opacity="0.34"/><stop offset="0.193" stop-color="#0a0a0a" stop-opacity="0.45"/><stop offset="0.200" stop-color="#0a0a0a" stop-opacity="0.50"/><stop offset="0.207" stop-color="#0a0a0a" stop-opacity="0.50"/><stop offset="0.214" stop-color="#0a0a0a" stop-opacity="0.50"/><stop offset="0.221" stop-color="#0a0a0a" stop-opacity="0.50"/><stop offset="0.229" stop-color="#0a0a0a" stop-opacity="0.50"/><stop offset="0.236" stop-color="#0a0a0a" stop-opacity="0.50"/><stop offset="0.243" stop-color="#0a0a0a" stop-opacity="0.50"/><stop offset="0.250" stop-color="#0a0a0a" stop-opacity="0.50"/><stop offset="0.257" stop-color="#0a0a0a" stop-opacity="0.50"/><stop offset="0.264" stop-color="#0a0a0a" stop-opacity="0.50"/><stop offset="0.271" stop-color="#0a0a0a" stop-opacity="0.50"/><stop offset="0.279" stop-color="#0a0a0a" stop-opacity="0.45"/><stop offset="0.286" stop-color="#0a0a0a" stop-opacity="0.34"/><stop offset="0.293" stop-color="#0a0a0a" stop-opacity="0.41"/><stop offset="0.300" stop-color="#0a0a0a" stop-opacity="0.50"/><stop offset="0.307" stop-color="#0a0a0a" stop-opacity="0.50"/><stop offset="0.314" stop-color="#0a0a0a" stop-opacity="0.50"/><stop offset="0.321" stop-color="#0a0a0a" stop-opacity="0.50"/><stop offset="0.329" stop-color="#0a0a0a" stop-opacity="0.50"/><stop offset="0.336" stop-color="#0a0a0a" stop-opacity="0.50"/><stop offset="0.343" stop-color="#0a0a0a" stop-opacity="0.50"/><stop offset="0.350" stop-color="#0a0a0a" stop-opacity="0.50"/><stop offset="0.357" stop-color="#0a0a0a" stop-opacity="0.50"/><stop offset="0.364" stop-color="#0a0a0a" stop-opacity="0.50"/><stop offset="0.371" stop-color="#0a0a0a" stop-opacity="0.50"/><stop offset="0.379" stop-color="#0a0a0a" stop-opacity="0.50"/><stop offset="0.386" stop-color="#0a0a0a" stop-opacity="0.39"/><stop offset="0.393" stop-color="#0a0a0a" stop-opacity="0.66"/><stop offset="0.400" stop-color="#0a0a0a" stop-opacity="0.85"/><stop offset="0.407" stop-color="#0a0a0a" stop-opacity="0.90"/><stop offset="0.414" stop-color="#0a0a0a" stop-opacity="0.90"/><stop offset="0.421" stop-color="#0a0a0a" stop-opacity="0.90"/><stop offset="0.429" stop-color="#0a0a0a" stop-opacity="0.90"/><stop offset="0.436" stop-color="#0a0a0a" stop-opacity="0.90"/><stop offset="0.443" stop-color="#0a0a0a" stop-opacity="0.90"/><stop offset="0.450" stop-color="#0a0a0a" stop-opacity="0.90"/><stop offset="0.457" stop-color="#0a0a0a" stop-opacity="0.90"/><stop offset="0.464" stop-color="#0a0a0a" stop-opacity="0.90"/><stop offset="0.471" stop-color="#0a0a0a" stop-opacity="0.90"/><stop offset="0.479" stop-color="#0a0a0a" stop-opacity="0.78"/><stop offset="0.486" stop-color="#0a0a0a" stop-opacity="0.59"/><stop offset="0.493" stop-color="#0a0a0a" stop-opacity="0.77"/><stop offset="0.500" stop-color="#0a0a0a" stop-opacity="0.90"/><stop offset="0.507" stop-color="#0a0a0a" stop-opacity="0.90"/><stop offset="0.514" stop-color="#0a0a0a" stop-opacity="0.90"/><stop offset="0.521" stop-color="#0a0a0a" stop-opacity="0.90"/><stop offset="0.529" stop-color="#0a0a0a" stop-opacity="0.90"/><stop offset="0.536" stop-color="#0a0a0a" stop-opacity="0.90"/><stop offset="0.543" stop-color="#0a0a0a" stop-opacity="0.90"/><stop offset="0.550" stop-color="#0a0a0a" stop-opacity="0.90"/><stop offset="0.557" stop-color="#0a0a0a" stop-opacity="0.90"/><stop offset="0.564" stop-color="#0a0a0a" stop-opacity="0.90"/><stop offset="0.571" stop-color="#0a0a0a" stop-opacity="0.78"/><stop offset="0.579" stop-color="#0a0a0a" stop-opacity="0.59"/><stop offset="0.586" stop-color="#0a0a0a" stop-opacity="0.48"/><stop offset="0.593" stop-color="#0a0a0a" stop-opacity="0.55"/><stop offset="0.600" stop-color="#0a0a0a" stop-opacity="0.55"/><stop offset="0.607" stop-color="#0a0a0a" stop-opacity="0.55"/><stop offset="0.614" stop-color="#0a0a0a" stop-opacity="0.55"/><stop offset="0.621" stop-color="#0a0a0a" stop-opacity="0.55"/><stop offset="0.629" stop-color="#0a0a0a" stop-opacity="0.55"/><stop offset="0.636" stop-color="#0a0a0a" stop-opacity="0.55"/><stop offset="0.643" stop-color="#0a0a0a" stop-opacity="0.55"/><stop offset="0.650" stop-color="#0a0a0a" stop-opacity="0.55"/><stop offset="0.657" stop-color="#0a0a0a" stop-opacity="0.55"/><stop offset="0.664" stop-color="#0a0a0a" stop-opacity="0.46"/><stop offset="0.671" stop-color="#0a0a0a" stop-opacity="0.38"/><stop offset="0.679" stop-color="#0a0a0a" stop-opacity="0.49"/><stop offset="0.686" stop-color="#0a0a0a" stop-opacity="0.55"/><stop offset="0.693" stop-color="#0a0a0a" stop-opacity="0.55"/><stop offset="0.700" stop-color="#0a0a0a" stop-opacity="0.55"/><stop offset="0.707" stop-color="#0a0a0a" stop-opacity="0.55"/><stop offset="0.714" stop-color="#0a0a0a" stop-opacity="0.55"/><stop offset="0.721" stop-color="#0a0a0a" stop-opacity="0.55"/><stop offset="0.729" stop-color="#0a0a0a" stop-opacity="0.55"/><stop offset="0.736" stop-color="#0a0a0a" stop-opacity="0.55"/><stop offset="0.743" stop-color="#0a0a0a" stop-opacity="0.55"/><stop offset="0.750" stop-color="#0a0a0a" stop-opacity="0.55"/><stop offset="0.757" stop-color="#0a0a0a" stop-opacity="0.53"/><stop offset="0.764" stop-color="#0a0a0a" stop-opacity="0.41"/><stop offset="0.771" stop-color="#0a0a0a" stop-opacity="0.46"/><stop offset="0.779" stop-color="#0a0a0a" stop-opacity="0.59"/><stop offset="0.786" stop-color="#0a0a0a" stop-opacity="0.60"/><stop offset="0.793" stop-color="#0a0a0a" stop-opacity="0.60"/><stop offset="0.800" stop-color="#0a0a0a" stop-opacity="0.60"/><stop offset="0.807" stop-color="#0a0a0a" stop-opacity="0.60"/><stop offset="0.814" stop-color="#0a0a0a" stop-opacity="0.60"/><stop offset="0.821" stop-color="#0a0a0a" stop-opacity="0.60"/><stop offset="0.829" stop-color="#0a0a0a" stop-opacity="0.60"/><stop offset="0.836" stop-color="#0a0a0a" stop-opacity="0.60"/><stop offset="0.843" stop-color="#0a0a0a" stop-opacity="0.60"/><stop offset="0.850" stop-color="#0a0a0a" stop-opacity="0.60"/><stop offset="0.857" stop-color="#0a0a0a" stop-opacity="0.60"/><stop offset="0.864" stop-color="#0a0a0a" stop-opacity="0.58"/><stop offset="0.871" stop-color="#0a0a0a" stop-opacity="0.45"/><stop offset="0.879" stop-color="#0a0a0a" stop-opacity="0.42"/><stop offset="0.886" stop-color="#0a0a0a" stop-opacity="0.54"/><stop offset="0.893" stop-color="#0a0a0a" stop-opacity="0.55"/><stop offset="0.900" stop-color="#0a0a0a" stop-opacity="0.55"/><stop offset="0.907" stop-color="#0a0a0a" stop-opacity="0.55"/><stop offset="0.914" stop-color="#0a0a0a" stop-opacity="0.55"/><stop offset="0.921" stop-color="#0a0a0a" stop-opacity="0.55"/><stop offset="0.929" stop-color="#0a0a0a" stop-opacity="0.55"/><stop offset="0.936" stop-color="#0a0a0a" stop-opacity="0.55"/><stop offset="0.943" stop-color="#0a0a0a" stop-opacity="0.55"/><stop offset="0.950" stop-color="#0a0a0a" stop-opacity="0.55"/><stop offset="0.957" stop-color="#0a0a0a" stop-opacity="0.55"/><stop offset="0.964" stop-color="#0a0a0a" stop-opacity="0.55"/><stop offset="0.971" stop-color="#0a0a0a" stop-opacity="0.55"/><stop offset="0.979" stop-color="#0a0a0a" stop-opacity="0.55"/><stop offset="0.986" stop-color="#0a0a0a" stop-opacity="0.55"/><stop offset="0.993" stop-color="#0a0a0a" stop-opacity="0.55"/><stop offset="1.000" stop-color="#0a0a0a" stop-opacity="0.55"/></linearGradient>
<path d="M359.00,615.70 L362.45,615.70 L365.90,615.70 L369.35,615.70 L372.80,615.70 L376.25,615.70 L379.70,615.70 L383.15,615.70 L386.60,615.70 L390.05,615.70 L393.50,615.70 L396.95,615.70 L400.40,615.70 L403.85,615.70 L407.30,615.70 L410.75,615.70 L414.20,615.70 L417.65,615.70 L421.10,615.70 L424.55,615.70 L428.00,615.70 L431.45,615.70 L434.90,615.70 L438.35,615.70 L441.80,615.57 L445.25,615.33 L448.70,615.09 L452.15,614.85 L455.60,614.61 L459.05,614.37 L462.50,614.12 L465.95,613.88 L469.40,613.64 L472.85,613.40 L476.30,613.16 L479.75,612.92 L483.20,612.68 L486.65,612.43 L490.10,612.19 L493.55,611.95 L497.00,611.71 L497.00,615.11 L493.55,615.35 L490.10,615.59 L486.65,615.83 L483.20,616.08 L479.75,616.32 L476.30,616.56 L472.85,616.80 L469.40,617.04 L465.95,617.28 L462.50,617.52 L459.05,617.77 L455.60,618.01 L452.15,618.25 L448.70,618.49 L445.25,618.73 L441.80,618.97 L438.35,619.10 L434.90,619.10 L431.45,619.10 L428.00,619.10 L424.55,619.10 L421.10,619.10 L417.65,619.10 L414.20,619.10 L410.75,619.10 L407.30,619.10 L403.85,619.10 L400.40,619.10 L396.95,619.10 L393.50,619.10 L390.05,619.10 L386.60,619.10 L383.15,619.10 L379.70,619.10 L376.25,619.10 L372.80,619.10 L369.35,619.10 L365.90,619.10 L362.45,619.10 L359.00,619.10 Z" fill="url(#lg6)"/>
<ellipse cx="419.80" cy="614.80" rx="7.00" ry="4.00" fill="#555" fill-opacity="0.90"/>
<ellipse cx="432.30" cy="614.80" rx="7.00" ry="4.00" fill="#555" fill-opacity="0.90"/>
</g>
<line x1="267.00" y1="513.60" x2="267.00" y2="631.00" stroke="#4b6f9e" stroke-width="0.9" />
<line x1="413.80" y1="513.60" x2="413.80" y2="631.00" stroke="#4b6f9e" stroke-width="0.9" />
<text x="6.20" y="650.40" font-size="19" font-weight="bold" text-anchor="start" fill="#000" stroke="#000" stroke-width="0.57" >h</text>
<text x="105.00" y="651.30" font-size="8.0" font-weight="bold" text-anchor="middle" fill="#111" stroke="#111" stroke-width="0.24" >p62</text>
<circle cx="57.90" cy="676.69" r="1.75" fill="#1a1ae6" stroke="none" stroke-width="1" />
<circle cx="54.60" cy="692.65" r="1.75" fill="#1a1ae6" stroke="none" stroke-width="1" />
<circle cx="61.50" cy="689.46" r="1.75" fill="#1a1ae6" stroke="none" stroke-width="1" />
<circle cx="57.90" cy="696.38" r="1.75" fill="#1a1ae6" stroke="none" stroke-width="1" />
<circle cx="54.60" cy="697.97" r="1.75" fill="#1a1ae6" stroke="none" stroke-width="1" />
<circle cx="61.20" cy="695.84" r="1.75" fill="#1a1ae6" stroke="none" stroke-width="1" />
<circle cx="57.90" cy="702.23" r="1.75" fill="#1a1ae6" stroke="none" stroke-width="1" />
<circle cx="57.90" cy="706.48" r="1.75" fill="#1a1ae6" stroke="none" stroke-width="1" />
<circle cx="57.90" cy="710.21" r="1.75" fill="#1a1ae6" stroke="none" stroke-width="1" />
<circle cx="57.90" cy="714.46" r="1.75" fill="#1a1ae6" stroke="none" stroke-width="1" />
<circle cx="81.70" cy="684.14" r="1.75" fill="#1a1ae6" stroke="none" stroke-width="1" />
<circle cx="78.40" cy="691.06" r="1.75" fill="#1a1ae6" stroke="none" stroke-width="1" />
<circle cx="85.00" cy="691.06" r="1.75" fill="#1a1ae6" stroke="none" stroke-width="1" />
<circle cx="81.70" cy="716.59" r="1.75" fill="#1a1ae6" stroke="none" stroke-width="1" />
<circle cx="81.70" cy="722.98" r="1.75" fill="#1a1ae6" stroke="none" stroke-width="1" />
<rect x="103.40" y="692.65" width="3.20" height="3.20" fill="#ee1c1c" stroke="none" stroke-width="1" />
<rect x="100.40" y="704.88" width="3.20" height="3.20" fill="#ee1c1c" stroke="none" stroke-width="1" />
<rect x="106.40" y="704.88" width="3.20" height="3.20" fill="#ee1c1c" stroke="none" stroke-width="1" />
<rect x="100.20" y="711.27" width="3.20" height="3.20" fill="#ee1c1c" stroke="none" stroke-width="1" />
<rect x="106.60" y="710.74" width="3.20" height="3.20" fill="#ee1c1c" stroke="none" stroke-width="1" />
<circle cx="105.00" cy="720.85" r="1.75" fill="#1a1ae6" stroke="none" stroke-width="1" />
<circle cx="128.20" cy="699.04" r="1.75" fill="#1a1ae6" stroke="none" stroke-width="1" />
<circle cx="128.20" cy="709.14" r="1.75" fill="#1a1ae6" stroke="none" stroke-width="1" />
<circle cx="125.00" cy="717.12" r="1.75" fill="#1a1ae6" stroke="none" stroke-width="1" />
<circle cx="131.40" cy="716.59" r="1.75" fill="#1a1ae6" stroke="none" stroke-width="1" />
<circle cx="128.20" cy="725.64" r="1.75" fill="#1a1ae6" stroke="none" stroke-width="1" />
<circle cx="151.30" cy="699.04" r="1.75" fill="#1a1ae6" stroke="none" stroke-width="1" />
<rect x="146.40" y="704.88" width="3.20" height="3.20" fill="#ee1c1c" stroke="none" stroke-width="1" />
<rect x="151.70" y="704.88" width="3.20" height="3.20" fill="#ee1c1c" stroke="none" stroke-width="1" />
<circle cx="146.80" cy="711.80" r="1.75" fill="#1a1ae6" stroke="none" stroke-width="1" />
<rect x="154.20" y="709.14" width="3.20" height="3.20" fill="#ee1c1c" stroke="none" stroke-width="1" />
<circle cx="149.80" cy="709.68" r="1.75" fill="#1a1ae6" stroke="none" stroke-width="1" />
<rect x="151.20" y="709.14" width="3.20" height="3.20" fill="#ee1c1c" stroke="none" stroke-width="1" />
<line x1="50.10" y1="697.97" x2="65.70" y2="697.97" stroke="#111" stroke-width="1.0" />
<line x1="57.90" y1="701.70" x2="57.90" y2="694.78" stroke="#111" stroke-width="1.0" />
<line x1="54.30" y1="701.70" x2="61.50" y2="701.70" stroke="#111" stroke-width="1.0" />
<line x1="54.30" y1="694.78" x2="61.50" y2="694.78" stroke="#111" stroke-width="1.0" />
<line x1="73.90" y1="700.63" x2="89.50" y2="700.63" stroke="#111" stroke-width="1.0" />
<line x1="81.70" y1="708.61" x2="81.70" y2="693.18" stroke="#111" stroke-width="1.0" />
<line x1="78.10" y1="708.61" x2="85.30" y2="708.61" stroke="#111" stroke-width="1.0" />
<line x1="78.10" y1="693.18" x2="85.30" y2="693.18" stroke="#111" stroke-width="1.0" />
<line x1="97.20" y1="705.95" x2="112.80" y2="705.95" stroke="#111" stroke-width="1.0" />
<line x1="105.00" y1="709.14" x2="105.00" y2="702.76" stroke="#111" stroke-width="1.0" />
<line x1="101.40" y1="709.14" x2="108.60" y2="709.14" stroke="#111" stroke-width="1.0" />
<line x1="101.40" y1="702.76" x2="108.60" y2="702.76" stroke="#111" stroke-width="1.0" />
<line x1="120.40" y1="713.93" x2="136.00" y2="713.93" stroke="#111" stroke-width="1.0" />
<line x1="128.20" y1="718.72" x2="128.20" y2="709.14" stroke="#111" stroke-width="1.0" />
<line x1="124.60" y1="718.72" x2="131.80" y2="718.72" stroke="#111" stroke-width="1.0" />
<line x1="124.60" y1="709.14" x2="131.80" y2="709.14" stroke="#111" stroke-width="1.0" />
<line x1="143.50" y1="705.95" x2="159.10" y2="705.95" stroke="#111" stroke-width="1.0" />
<line x1="151.30" y1="710.74" x2="151.30" y2="699.04" stroke="#111" stroke-width="1.0" />
<line x1="147.70" y1="710.74" x2="154.90" y2="710.74" stroke="#111" stroke-width="1.0" />
<line x1="147.70" y1="699.04" x2="154.90" y2="699.04" stroke="#111" stroke-width="1.0" />
<line x1="47.00" y1="659.60" x2="47.00" y2="740.60" stroke="#666" stroke-width="1.0" />
<line x1="46.50" y1="740.00" x2="162.00" y2="740.00" stroke="#666" stroke-width="1.0" />
<line x1="44.60" y1="740.00" x2="47.00" y2="740.00" stroke="#666" stroke-width="0.9" />
<text x="44.00" y="741.90" font-size="5.5" font-weight="bold" text-anchor="end" fill="#333" stroke="#333" stroke-width="0.16" >0.0</text>
<line x1="44.60" y1="713.40" x2="47.00" y2="713.40" stroke="#666" stroke-width="0.9" />
<text x="44.00" y="715.30" font-size="5.5" font-weight="bold" text-anchor="end" fill="#333" stroke="#333" stroke-width="0.16" >0.5</text>
<line x1="44.60" y1="686.80" x2="47.00" y2="686.80" stroke="#666" stroke-width="0.9" />
<text x="44.00" y="688.70" font-size="5.5" font-weight="bold" text-anchor="end" fill="#333" stroke="#333" stroke-width="0.16" >1.0</text>
<line x1="44.60" y1="660.20" x2="47.00" y2="660.20" stroke="#666" stroke-width="0.9" />
<text x="44.00" y="662.10" font-size="5.5" font-weight="bold" text-anchor="end" fill="#333" stroke="#333" stroke-width="0.16" >1.5</text>
<line x1="57.90" y1="740.00" x2="57.90" y2="742.20" stroke="#666" stroke-width="0.9" />
<line x1="81.70" y1="740.00" x2="81.70" y2="742.20" stroke="#666" stroke-width="0.9" />
<line x1="105.00" y1="740.00" x2="105.00" y2="742.20" stroke="#666" stroke-width="0.9" />
<line x1="128.20" y1="740.00" x2="128.20" y2="742.20" stroke="#666" stroke-width="0.9" />
<line x1="151.30" y1="740.00" x2="151.30" y2="742.20" stroke="#666" stroke-width="0.9" />
<text x="59.50" y="747.00" font-size="5.8" font-weight="bold" text-anchor="end" fill="#111" stroke="#111" stroke-width="0.17" transform="rotate(-45 59.50 747.00)">AL</text>
<text x="83.30" y="747.00" font-size="5.8" font-weight="bold" text-anchor="end" fill="#111" stroke="#111" stroke-width="0.17" transform="rotate(-45 83.30 747.00)">AL+CQ</text>
<text x="106.60" y="747.00" font-size="5.8" font-weight="bold" text-anchor="end" fill="#111" stroke="#111" stroke-width="0.17" transform="rotate(-45 106.60 747.00)">AL+VC+CQ</text>
<text x="129.80" y="747.00" font-size="5.8" font-weight="bold" text-anchor="end" fill="#111" stroke="#111" stroke-width="0.17" transform="rotate(-45 129.80 747.00)">FMD+CQ</text>
<text x="152.90" y="747.00" font-size="5.8" font-weight="bold" text-anchor="end" fill="#111" stroke="#111" stroke-width="0.17" transform="rotate(-45 152.90 747.00)">FMD+VC+CQ</text>
<text x="34.00" y="702.10" font-size="6.7" font-weight="bold" text-anchor="middle" fill="#222" stroke="#222" stroke-width="0.20" transform="rotate(-90 34.00 702.10)">relative expression</text>
<line x1="97.20" y1="720.85" x2="112.80" y2="720.85" stroke="#111" stroke-width="1.0" />
<text x="258.20" y="651.30" font-size="8.0" font-weight="bold" text-anchor="middle" fill="#111" stroke="#111" stroke-width="0.24" >Beclin1</text>
<circle cx="204.90" cy="705.59" r="1.75" fill="#1a1ae6" stroke="none" stroke-width="1" />
<circle cx="208.40" cy="701.34" r="1.75" fill="#1a1ae6" stroke="none" stroke-width="1" />
<circle cx="212.90" cy="700.81" r="1.75" fill="#1a1ae6" stroke="none" stroke-width="1" />
<circle cx="217.20" cy="698.16" r="1.75" fill="#1a1ae6" stroke="none" stroke-width="1" />
<circle cx="208.40" cy="709.31" r="1.75" fill="#1a1ae6" stroke="none" stroke-width="1" />
<circle cx="212.40" cy="709.31" r="1.75" fill="#1a1ae6" stroke="none" stroke-width="1" />
<circle cx="217.20" cy="704.53" r="1.75" fill="#1a1ae6" stroke="none" stroke-width="1" />
<circle cx="208.40" cy="713.03" r="1.75" fill="#1a1ae6" stroke="none" stroke-width="1" />
<circle cx="212.40" cy="711.97" r="1.75" fill="#1a1ae6" stroke="none" stroke-width="1" />
<circle cx="211.40" cy="705.59" r="1.75" fill="#1a1ae6" stroke="none" stroke-width="1" />
<circle cx="235.40" cy="707.19" r="1.75" fill="#1a1ae6" stroke="none" stroke-width="1" />
<circle cx="231.20" cy="717.28" r="1.75" fill="#1a1ae6" stroke="none" stroke-width="1" />
<circle cx="238.60" cy="718.35" r="1.75" fill="#1a1ae6" stroke="none" stroke-width="1" />
<circle cx="235.40" cy="714.63" r="1.75" fill="#1a1ae6" stroke="none" stroke-width="1" />
<circle cx="235.40" cy="729.50" r="1.75" fill="#1a1ae6" stroke="none" stroke-width="1" />
<rect x="257.80" y="714.09" width="3.20" height="3.20" fill="#ee1c1c" stroke="none" stroke-width="1" />
<rect x="251.30" y="727.37" width="3.20" height="3.20" fill="#ee1c1c" stroke="none" stroke-width="1" />
<rect x="264.30" y="726.31" width="3.20" height="3.20" fill="#ee1c1c" stroke="none" stroke-width="1" />
<circle cx="257.40" cy="725.25" r="1.75" fill="#1a1ae6" stroke="none" stroke-width="1" />
<circle cx="261.40" cy="725.79" r="1.75" fill="#1a1ae6" stroke="none" stroke-width="1" />
<circle cx="259.40" cy="722.07" r="1.75" fill="#1a1ae6" stroke="none" stroke-width="1" />
<circle cx="283.40" cy="721.53" r="1.75" fill="#1a1ae6" stroke="none" stroke-width="1" />
<circle cx="276.90" cy="728.44" r="1.75" fill="#1a1ae6" stroke="none" stroke-width="1" />
<circle cx="289.90" cy="727.91" r="1.75" fill="#1a1ae6" stroke="none" stroke-width="1" />
<circle cx="281.20" cy="725.79" r="1.75" fill="#1a1ae6" stroke="none" stroke-width="1" />
<circle cx="285.60" cy="725.79" r="1.75" fill="#1a1ae6" stroke="none" stroke-width="1" />
<circle cx="301.10" cy="725.79" r="1.75" fill="#1a1ae6" stroke="none" stroke-width="1" />
<rect x="303.50" y="723.12" width="3.20" height="3.20" fill="#ee1c1c" stroke="none" stroke-width="1" />
<rect x="307.50" y="724.19" width="3.20" height="3.20" fill="#ee1c1c" stroke="none" stroke-width="1" />
<circle cx="313.10" cy="725.79" r="1.75" fill="#1a1ae6" stroke="none" stroke-width="1" />
<rect x="314.00" y="726.31" width="3.20" height="3.20" fill="#ee1c1c" stroke="none" stroke-width="1" />
<circle cx="310.60" cy="725.25" r="1.75" fill="#1a1ae6" stroke="none" stroke-width="1" />
<line x1="203.60" y1="705.59" x2="219.20" y2="705.59" stroke="#111" stroke-width="1.0" />
<line x1="211.40" y1="707.72" x2="211.40" y2="703.47" stroke="#111" stroke-width="1.0" />
<line x1="207.80" y1="707.72" x2="215.00" y2="707.72" stroke="#111" stroke-width="1.0" />
<line x1="207.80" y1="703.47" x2="215.00" y2="703.47" stroke="#111" stroke-width="1.0" />
<line x1="227.60" y1="718.35" x2="243.20" y2="718.35" stroke="#111" stroke-width="1.0" />
<line x1="235.40" y1="722.07" x2="235.40" y2="714.63" stroke="#111" stroke-width="1.0" />
<line x1="231.80" y1="722.07" x2="239.00" y2="722.07" stroke="#111" stroke-width="1.0" />
<line x1="231.80" y1="714.63" x2="239.00" y2="714.63" stroke="#111" stroke-width="1.0" />
<line x1="251.60" y1="724.19" x2="267.20" y2="724.19" stroke="#111" stroke-width="1.0" />
<line x1="259.40" y1="725.79" x2="259.40" y2="721.53" stroke="#111" stroke-width="1.0" />
<line x1="255.80" y1="725.79" x2="263.00" y2="725.79" stroke="#111" stroke-width="1.0" />
<line x1="255.80" y1="721.53" x2="263.00" y2="721.53" stroke="#111" stroke-width="1.0" />
<line x1="275.60" y1="726.32" x2="291.20" y2="726.32" stroke="#111" stroke-width="1.0" />
<line x1="283.40" y1="727.91" x2="283.40" y2="724.19" stroke="#111" stroke-width="1.0" />
<line x1="279.80" y1="727.91" x2="287.00" y2="727.91" stroke="#111" stroke-width="1.0" />
<line x1="279.80" y1="724.19" x2="287.00" y2="724.19" stroke="#111" stroke-width="1.0" />
<line x1="298.80" y1="725.25" x2="314.40" y2="725.25" stroke="#111" stroke-width="1.0" />
<line x1="306.60" y1="726.32" x2="306.60" y2="724.72" stroke="#111" stroke-width="1.0" />
<line x1="303.00" y1="726.32" x2="310.20" y2="726.32" stroke="#111" stroke-width="1.0" />
<line x1="303.00" y1="724.72" x2="310.20" y2="724.72" stroke="#111" stroke-width="1.0" />
<line x1="198.90" y1="659.30" x2="198.90" y2="740.20" stroke="#666" stroke-width="1.0" />
<line x1="198.40" y1="739.60" x2="316.00" y2="739.60" stroke="#666" stroke-width="1.0" />
<line x1="196.50" y1="739.60" x2="198.90" y2="739.60" stroke="#666" stroke-width="0.9" />
<text x="195.90" y="741.50" font-size="5.5" font-weight="bold" text-anchor="end" fill="#333" stroke="#333" stroke-width="0.16" >0.0</text>
<line x1="196.50" y1="713.03" x2="198.90" y2="713.03" stroke="#666" stroke-width="0.9" />
<text x="195.90" y="714.93" font-size="5.5" font-weight="bold" text-anchor="end" fill="#333" stroke="#333" stroke-width="0.16" >0.5</text>
<line x1="196.50" y1="686.47" x2="198.90" y2="686.47" stroke="#666" stroke-width="0.9" />
<text x="195.90" y="688.37" font-size="5.5" font-weight="bold" text-anchor="end" fill="#333" stroke="#333" stroke-width="0.16" >1.0</text>
<line x1="196.50" y1="659.90" x2="198.90" y2="659.90" stroke="#666" stroke-width="0.9" />
<text x="195.90" y="661.80" font-size="5.5" font-weight="bold" text-anchor="end" fill="#333" stroke="#333" stroke-width="0.16" >1.5</text>
<line x1="211.40" y1="739.60" x2="211.40" y2="741.80" stroke="#666" stroke-width="0.9" />
<line x1="235.40" y1="739.60" x2="235.40" y2="741.80" stroke="#666" stroke-width="0.9" />
<line x1="259.40" y1="739.60" x2="259.40" y2="741.80" stroke="#666" stroke-width="0.9" />
<line x1="283.40" y1="739.60" x2="283.40" y2="741.80" stroke="#666" stroke-width="0.9" />
<line x1="306.60" y1="739.60" x2="306.60" y2="741.80" stroke="#666" stroke-width="0.9" />
<text x="213.00" y="747.00" font-size="5.8" font-weight="bold" text-anchor="end" fill="#111" stroke="#111" stroke-width="0.17" transform="rotate(-45 213.00 747.00)">AL</text>
<text x="237.00" y="747.00" font-size="5.8" font-weight="bold" text-anchor="end" fill="#111" stroke="#111" stroke-width="0.17" transform="rotate(-45 237.00 747.00)">AL+CQ</text>
<text x="261.00" y="747.00" font-size="5.8" font-weight="bold" text-anchor="end" fill="#111" stroke="#111" stroke-width="0.17" transform="rotate(-45 261.00 747.00)">AL+VC+CQ</text>
<text x="285.00" y="747.00" font-size="5.8" font-weight="bold" text-anchor="end" fill="#111" stroke="#111" stroke-width="0.17" transform="rotate(-45 285.00 747.00)">FMD+CQ</text>
<text x="308.20" y="747.00" font-size="5.8" font-weight="bold" text-anchor="end" fill="#111" stroke="#111" stroke-width="0.17" transform="rotate(-45 308.20 747.00)">FMD+VC+CQ</text>
<line x1="207.00" y1="695.20" x2="240.80" y2="695.20" stroke="#111" stroke-width="1.4" />
<text x="223.80" y="695.60" font-size="6.4" font-weight="bold" text-anchor="middle" fill="#111" >***</text>
<line x1="208.30" y1="686.00" x2="258.70" y2="686.00" stroke="#111" stroke-width="1.4" />
<text x="237.50" y="686.90" font-size="6.4" font-weight="bold" text-anchor="middle" fill="#111" >***</text>
<line x1="208.30" y1="678.40" x2="280.10" y2="678.40" stroke="#111" stroke-width="1.4" />
<text x="244.10" y="676.20" font-size="6.4" font-weight="bold" text-anchor="middle" fill="#111" >***</text>
<line x1="203.50" y1="666.40" x2="307.40" y2="666.40" stroke="#111" stroke-width="1.4" />
<text x="255.70" y="663.50" font-size="6.4" font-weight="bold" text-anchor="middle" fill="#111" >***</text>
<text x="185.90" y="701.75" font-size="6.7" font-weight="bold" text-anchor="middle" fill="#222" stroke="#222" stroke-width="0.20" transform="rotate(-90 185.90 701.75)">relative expression</text>
<text x="416.00" y="651.30" font-size="8.0" font-weight="bold" text-anchor="middle" fill="#111" stroke="#111" stroke-width="0.24" >LC3b</text>
<circle cx="362.50" cy="689.06" r="1.75" fill="#1a1ae6" stroke="none" stroke-width="1" />
<circle cx="368.50" cy="688.66" r="1.75" fill="#1a1ae6" stroke="none" stroke-width="1" />
<circle cx="374.50" cy="687.87" r="1.75" fill="#1a1ae6" stroke="none" stroke-width="1" />
<circle cx="362.50" cy="711.83" r="1.75" fill="#1a1ae6" stroke="none" stroke-width="1" />
<circle cx="368.50" cy="697.85" r="1.75" fill="#1a1ae6" stroke="none" stroke-width="1" />
<circle cx="374.50" cy="709.84" r="1.75" fill="#1a1ae6" stroke="none" stroke-width="1" />
<circle cx="366.00" cy="700.65" r="1.75" fill="#1a1ae6" stroke="none" stroke-width="1" />
<circle cx="371.00" cy="703.84" r="1.75" fill="#1a1ae6" stroke="none" stroke-width="1" />
<circle cx="374.50" cy="697.85" r="1.75" fill="#1a1ae6" stroke="none" stroke-width="1" />
<circle cx="368.50" cy="703.84" r="1.75" fill="#1a1ae6" stroke="none" stroke-width="1" />
<circle cx="392.20" cy="691.06" r="1.75" fill="#1a1ae6" stroke="none" stroke-width="1" />
<circle cx="388.20" cy="699.85" r="1.75" fill="#1a1ae6" stroke="none" stroke-width="1" />
<circle cx="395.70" cy="701.85" r="1.75" fill="#1a1ae6" stroke="none" stroke-width="1" />
<circle cx="390.70" cy="707.84" r="1.75" fill="#1a1ae6" stroke="none" stroke-width="1" />
<circle cx="392.20" cy="714.23" r="1.75" fill="#1a1ae6" stroke="none" stroke-width="1" />
<rect x="408.70" y="709.84" width="3.20" height="3.20" fill="#ee1c1c" stroke="none" stroke-width="1" />
<rect x="419.70" y="709.44" width="3.20" height="3.20" fill="#ee1c1c" stroke="none" stroke-width="1" />
<rect x="409.70" y="720.22" width="3.20" height="3.20" fill="#ee1c1c" stroke="none" stroke-width="1" />
<rect x="418.70" y="719.82" width="3.20" height="3.20" fill="#ee1c1c" stroke="none" stroke-width="1" />
<circle cx="415.80" cy="715.03" r="1.75" fill="#1a1ae6" stroke="none" stroke-width="1" />
<rect x="414.20" y="716.23" width="3.20" height="3.20" fill="#ee1c1c" stroke="none" stroke-width="1" />
<circle cx="439.80" cy="707.84" r="1.75" fill="#1a1ae6" stroke="none" stroke-width="1" />
<circle cx="434.80" cy="711.83" r="1.75" fill="#1a1ae6" stroke="none" stroke-width="1" />
<circle cx="443.30" cy="712.63" r="1.75" fill="#1a1ae6" stroke="none" stroke-width="1" />
<circle cx="439.80" cy="720.62" r="1.75" fill="#1a1ae6" stroke="none" stroke-width="1" />
<circle cx="439.80" cy="730.61" r="1.75" fill="#1a1ae6" stroke="none" stroke-width="1" />
<circle cx="459.90" cy="691.06" r="1.75" fill="#1a1ae6" stroke="none" stroke-width="1" />
<circle cx="466.90" cy="691.06" r="1.75" fill="#1a1ae6" stroke="none" stroke-width="1" />
<rect x="461.80" y="709.84" width="3.20" height="3.20" fill="#ee1c1c" stroke="none" stroke-width="1" />
<rect x="456.30" y="718.62" width="3.20" height="3.20" fill="#ee1c1c" stroke="none" stroke-width="1" />
<rect x="467.30" y="718.62" width="3.20" height="3.20" fill="#ee1c1c" stroke="none" stroke-width="1" />
<circle cx="463.40" cy="717.03" r="1.75" fill="#1a1ae6" stroke="none" stroke-width="1" />
<line x1="360.70" y1="699.45" x2="376.30" y2="699.45" stroke="#111" stroke-width="1.0" />
<line x1="368.50" y1="702.65" x2="368.50" y2="696.25" stroke="#111" stroke-width="1.0" />
<line x1="364.90" y1="702.65" x2="372.10" y2="702.65" stroke="#111" stroke-width="1.0" />
<line x1="364.90" y1="696.25" x2="372.10" y2="696.25" stroke="#111" stroke-width="1.0" />
<line x1="384.40" y1="702.25" x2="400.00" y2="702.25" stroke="#111" stroke-width="1.0" />
<line x1="392.20" y1="706.64" x2="392.20" y2="698.25" stroke="#111" stroke-width="1.0" />
<line x1="388.60" y1="706.64" x2="395.80" y2="706.64" stroke="#111" stroke-width="1.0" />
<line x1="388.60" y1="698.25" x2="395.80" y2="698.25" stroke="#111" stroke-width="1.0" />
<line x1="408.00" y1="715.83" x2="423.60" y2="715.83" stroke="#111" stroke-width="1.0" />
<line x1="415.80" y1="718.23" x2="415.80" y2="713.43" stroke="#111" stroke-width="1.0" />
<line x1="412.20" y1="718.23" x2="419.40" y2="718.23" stroke="#111" stroke-width="1.0" />
<line x1="412.20" y1="713.43" x2="419.40" y2="713.43" stroke="#111" stroke-width="1.0" />
<line x1="432.00" y1="716.23" x2="447.60" y2="716.23" stroke="#111" stroke-width="1.0" />
<line x1="439.80" y1="720.22" x2="439.80" y2="712.23" stroke="#111" stroke-width="1.0" />
<line x1="436.20" y1="720.22" x2="443.40" y2="720.22" stroke="#111" stroke-width="1.0" />
<line x1="436.20" y1="712.23" x2="443.40" y2="712.23" stroke="#111" stroke-width="1.0" />
<line x1="455.60" y1="717.03" x2="471.20" y2="717.03" stroke="#111" stroke-width="1.0" />
<line x1="463.40" y1="718.63" x2="463.40" y2="715.03" stroke="#111" stroke-width="1.0" />
<line x1="459.80" y1="718.63" x2="467.00" y2="718.63" stroke="#111" stroke-width="1.0" />
<line x1="459.80" y1="715.03" x2="467.00" y2="715.03" stroke="#111" stroke-width="1.0" />
<line x1="354.00" y1="659.30" x2="354.00" y2="740.40" stroke="#666" stroke-width="1.0" />
<line x1="353.50" y1="739.80" x2="474.00" y2="739.80" stroke="#666" stroke-width="1.0" />
<line x1="351.60" y1="739.80" x2="354.00" y2="739.80" stroke="#666" stroke-width="0.9" />
<text x="351.00" y="741.70" font-size="5.5" font-weight="bold" text-anchor="end" fill="#333" stroke="#333" stroke-width="0.16" >0.0</text>
<line x1="351.60" y1="719.82" x2="354.00" y2="719.82" stroke="#666" stroke-width="0.9" />
<text x="351.00" y="721.72" font-size="5.5" font-weight="bold" text-anchor="end" fill="#333" stroke="#333" stroke-width="0.16" >0.5</text>
<line x1="351.60" y1="699.85" x2="354.00" y2="699.85" stroke="#666" stroke-width="0.9" />
<text x="351.00" y="701.75" font-size="5.5" font-weight="bold" text-anchor="end" fill="#333" stroke="#333" stroke-width="0.16" >1.0</text>
<line x1="351.60" y1="679.88" x2="354.00" y2="679.88" stroke="#666" stroke-width="0.9" />
<text x="351.00" y="681.77" font-size="5.5" font-weight="bold" text-anchor="end" fill="#333" stroke="#333" stroke-width="0.16" >1.5</text>
<line x1="351.60" y1="659.90" x2="354.00" y2="659.90" stroke="#666" stroke-width="0.9" />
<text x="351.00" y="661.80" font-size="5.5" font-weight="bold" text-anchor="end" fill="#333" stroke="#333" stroke-width="0.16" >2.0</text>
<line x1="368.50" y1="739.80" x2="368.50" y2="742.00" stroke="#666" stroke-width="0.9" />
<line x1="392.20" y1="739.80" x2="392.20" y2="742.00" stroke="#666" stroke-width="0.9" />
<line x1="415.80" y1="739.80" x2="415.80" y2="742.00" stroke="#666" stroke-width="0.9" />
<line x1="439.80" y1="739.80" x2="439.80" y2="742.00" stroke="#666" stroke-width="0.9" />
<line x1="463.40" y1="739.80" x2="463.40" y2="742.00" stroke="#666" stroke-width="0.9" />
<text x="370.10" y="747.00" font-size="5.8" font-weight="bold" text-anchor="end" fill="#111" stroke="#111" stroke-width="0.17" transform="rotate(-45 370.10 747.00)">AL</text>
<text x="393.80" y="747.00" font-size="5.8" font-weight="bold" text-anchor="end" fill="#111" stroke="#111" stroke-width="0.17" transform="rotate(-45 393.80 747.00)">AL+CQ</text>
<text x="417.40" y="747.00" font-size="5.8" font-weight="bold" text-anchor="end" fill="#111" stroke="#111" stroke-width="0.17" transform="rotate(-45 417.40 747.00)">AL+VC+CQ</text>
<text x="441.40" y="747.00" font-size="5.8" font-weight="bold" text-anchor="end" fill="#111" stroke="#111" stroke-width="0.17" transform="rotate(-45 441.40 747.00)">FMD+CQ</text>
<text x="465.00" y="747.00" font-size="5.8" font-weight="bold" text-anchor="end" fill="#111" stroke="#111" stroke-width="0.17" transform="rotate(-45 465.00 747.00)">FMD+VC+CQ</text>
<line x1="362.90" y1="681.20" x2="418.90" y2="681.20" stroke="#111" stroke-width="1.4" />
<text x="390.90" y="681.20" font-size="6.4" font-weight="bold" text-anchor="middle" fill="#111" >*</text>
<line x1="362.90" y1="673.10" x2="439.30" y2="673.10" stroke="#111" stroke-width="1.4" />
<text x="400.30" y="672.70" font-size="6.4" font-weight="bold" text-anchor="middle" fill="#111" >*</text>
<line x1="362.90" y1="666.00" x2="464.20" y2="666.00" stroke="#111" stroke-width="1.4" />
<text x="412.50" y="665.70" font-size="6.4" font-weight="bold" text-anchor="middle" fill="#111" >*</text>
<text x="341.00" y="701.85" font-size="6.7" font-weight="bold" text-anchor="middle" fill="#222" stroke="#222" stroke-width="0.20" transform="rotate(-90 341.00 701.85)">relative expression</text>
<line x1="456.00" y1="691.00" x2="471.00" y2="691.00" stroke="#111" stroke-width="1.0" />
<circle cx="498.70" cy="665.30" r="1.70" fill="#1a1ae6" stroke="none" stroke-width="1" />
<rect x="497.10" y="674.60" width="3.20" height="3.20" fill="#ee1c1c" stroke="none" stroke-width="1" />
<text x="507.50" y="667.50" font-size="6.7" font-weight="normal" text-anchor="start" fill="#333" >low survival</text>
<text x="507.50" y="678.40" font-size="6.6" font-weight="normal" text-anchor="start" fill="#333" >high survival</text>
</svg></body></html>
